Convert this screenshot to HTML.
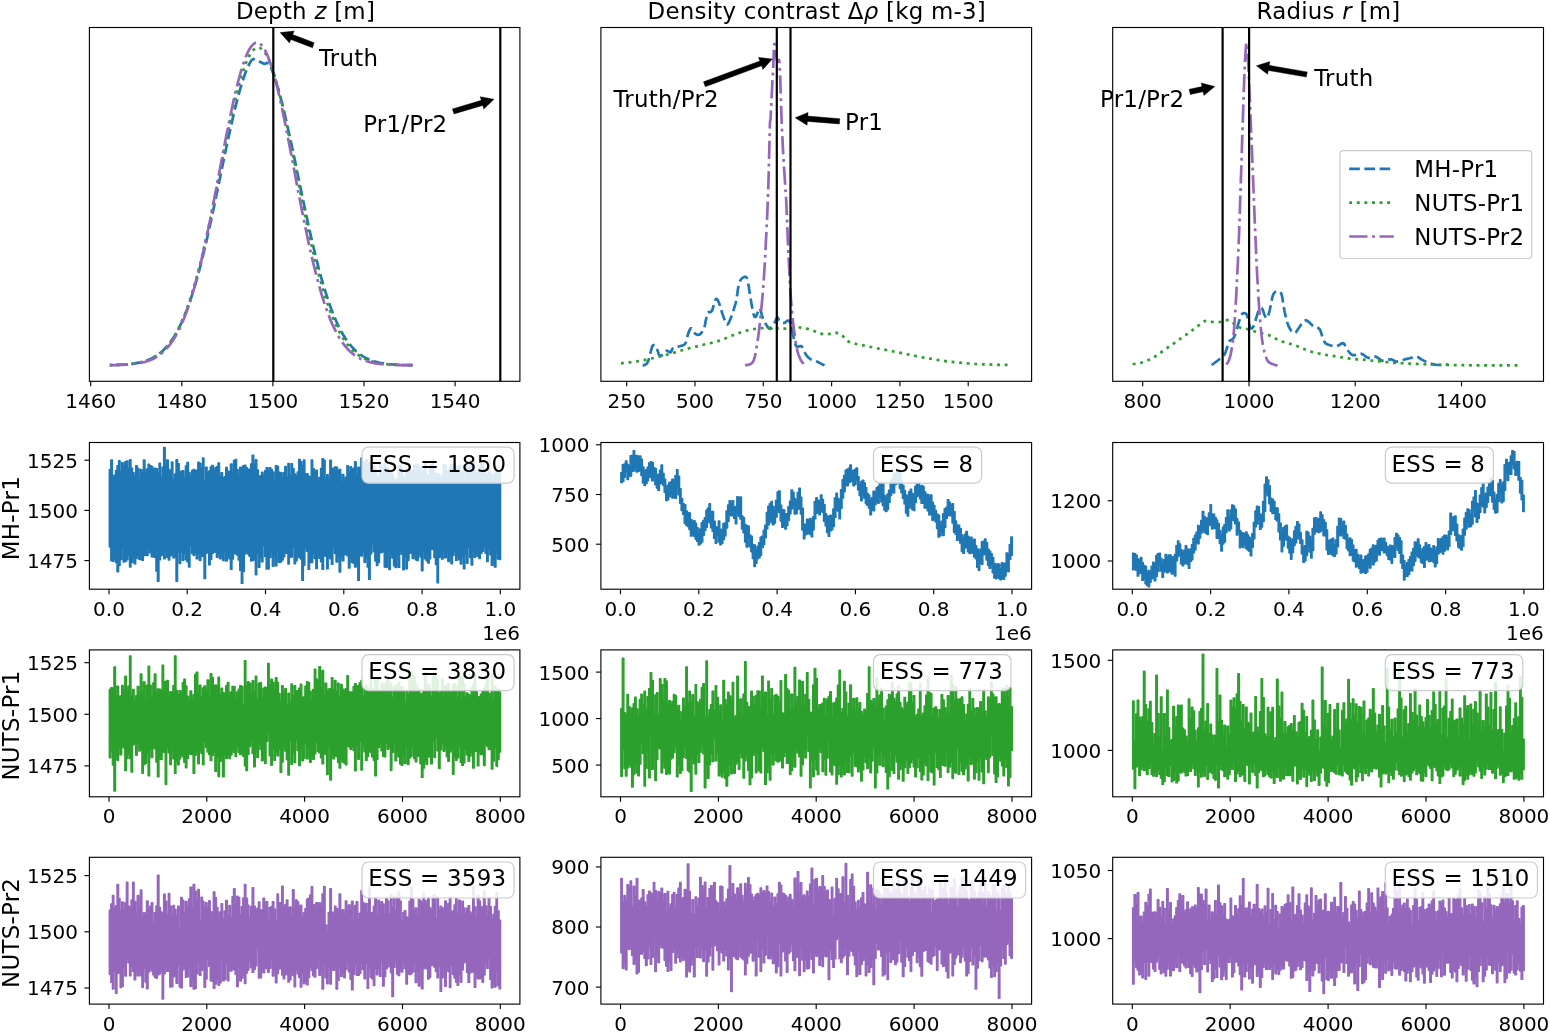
<!DOCTYPE html><html><head><meta charset="utf-8"><title>MCMC posterior comparison</title>
<style>html,body{margin:0;padding:0;background:#fff}svg{display:block}text{font-family:"DejaVu Sans","Liberation Sans",sans-serif;fill:#000}</style></head><body>
<svg width="1550" height="1032" viewBox="0 0 1550 1032">
<rect width="1550" height="1032" fill="#fff"/>
<clipPath id="cp00"><rect x="89.4" y="27.5" width="430.5" height="353.8"/></clipPath>
<clipPath id="cp01"><rect x="89.4" y="442.5" width="430.5" height="146.7"/></clipPath>
<clipPath id="cp02"><rect x="89.4" y="649.9" width="430.5" height="146.9"/></clipPath>
<clipPath id="cp03"><rect x="89.4" y="857.3" width="430.5" height="146.8"/></clipPath>
<clipPath id="cp10"><rect x="600.9" y="27.5" width="430.7" height="353.8"/></clipPath>
<clipPath id="cp11"><rect x="600.9" y="442.5" width="430.7" height="146.7"/></clipPath>
<clipPath id="cp12"><rect x="600.9" y="649.9" width="430.7" height="146.9"/></clipPath>
<clipPath id="cp13"><rect x="600.9" y="857.3" width="430.7" height="146.8"/></clipPath>
<clipPath id="cp20"><rect x="1112.7" y="27.5" width="430.8" height="353.8"/></clipPath>
<clipPath id="cp21"><rect x="1112.7" y="442.5" width="430.8" height="146.7"/></clipPath>
<clipPath id="cp22"><rect x="1112.7" y="649.9" width="430.8" height="146.9"/></clipPath>
<clipPath id="cp23"><rect x="1112.7" y="857.3" width="430.8" height="146.8"/></clipPath>
<g clip-path="url(#cp00)">
<polyline points="109.8,365.1 112,365.1 114.2,365 116.4,364.9 118.5,364.8 120.7,364.7 122.9,364.6 125.1,364.5 127.3,364.3 129.4,364.1 131.6,363.8 133.8,363.6 136,363.2 138.2,362.8 140.3,362.4 142.5,361.8 144.7,361.2 146.9,360.4 149.1,359.6 151.2,358.6 153.4,357.5 155.6,356.3 157.8,354.8 160,353.2 162.1,351.4 164.3,349.3 166.5,347 168.7,344.5 170.8,341.6 173,338.4 175.2,334.9 177.4,331.1 179.6,326.9 181.7,322.3 183.9,317.3 186.1,311.9 188.3,306.1 190.5,299.8 192.6,293.1 194.8,286 197,278.5 199.2,270.5 201.4,262.1 203.5,253.4 205.7,244.2 207.9,234.7 210.1,225 212.3,214.9 214.4,204.7 216.6,194.3 218.8,183.8 221,173.2 223.1,162.7 225.3,152.2 227.5,141.9 229.7,131.9 231.9,122.1 234,112.8 236.2,103.9 238.4,95.5 240.6,87.7 242.8,80.6 244.9,74.3 247.1,68.7 249.3,64 251.5,60.1 253.7,58.9 255.8,59.9 258,60.9 260.2,61.9 262.4,63 264.6,64 266.7,62.9 268.9,63.5 271.1,68.1 273.3,73.6 275.4,79.8 277.6,86.9 279.8,94.5 282,102.8 284.2,111.7 286.3,121 288.5,130.7 290.7,140.7 292.9,151 295.1,161.4 297.2,171.9 299.4,182.5 301.6,193 303.8,203.5 306,213.7 308.1,223.8 310.3,233.6 312.5,243.1 314.7,252.3 316.9,261.1 319,269.5 321.2,277.6 323.4,285.2 325.6,292.3 327.8,299.1 329.9,305.4 332.1,311.2 334.3,316.7 336.5,321.7 338.6,326.4 340.8,330.6 343,334.5 345.2,338 347.4,341.2 349.5,344.1 351.7,346.7 353.9,349.1 356.1,351.2 358.3,353 360.4,354.7 362.6,356.1 364.8,357.4 367,358.5 369.2,359.5 371.3,360.4 373.5,361.1 375.7,361.7 377.9,362.3 380.1,362.8 382.2,363.2 384.4,363.5 386.6,363.8 388.8,364.1 390.9,364.3 393.1,364.5 395.3,364.6 397.5,364.7 399.7,364.8 401.8,364.9 404,365 406.2,365 408.4,365.1 410.6,365.1 412.7,365.2" fill="none" stroke="#1f77b4" stroke-width="2.7" stroke-dasharray="10.6 4.6" stroke-linejoin="round" stroke-dashoffset="9"/>
<polyline points="109.8,365.1 112,365.1 114.2,365 116.4,365 118.5,364.9 120.7,364.8 122.9,364.7 125.1,364.5 127.3,364.4 129.4,364.2 131.6,363.9 133.8,363.6 136,363.3 138.2,362.9 140.3,362.5 142.5,361.9 144.7,361.3 146.9,360.6 149.1,359.8 151.2,358.8 153.4,357.7 155.6,356.4 157.8,355 160,353.3 162.1,351.5 164.3,349.4 166.5,347 168.7,344.4 170.8,341.5 173,338.3 175.2,334.7 177.4,330.7 179.6,326.4 181.7,321.6 183.9,316.5 186.1,310.9 188.3,304.8 190.5,298.4 192.6,291.4 194.8,284 197,276.1 199.2,267.8 201.4,259.1 203.5,250 205.7,240.4 207.9,230.6 210.1,220.4 212.3,209.9 214.4,199.3 216.6,188.4 218.8,177.5 221,166.5 223.1,155.6 225.3,144.8 227.5,134.2 229.7,123.9 231.9,113.9 234,104.3 236.2,95.3 238.4,86.8 240.6,79 242.8,72 244.9,65.7 247.1,60.3 249.3,55.8 251.5,52.2 253.7,49.6 255.8,48.1 258,47.5 260.2,48 262.4,49.5 264.6,52 266.7,55.5 268.9,59.9 271.1,65.3 273.3,71.5 275.4,78.5 277.6,86.2 279.8,94.6 282,103.6 284.2,113.2 286.3,123.1 288.5,133.4 290.7,144 292.9,154.8 295.1,165.7 297.2,176.7 299.4,187.6 301.6,198.5 303.8,209.1 306,219.6 308.1,229.8 310.3,239.7 312.5,249.3 314.7,258.4 316.9,267.2 319,275.5 321.2,283.4 323.4,290.9 325.6,297.9 327.8,304.4 329.9,310.5 332.1,316.1 334.3,321.3 336.5,326 338.6,330.4 340.8,334.4 343,338 345.2,341.3 347.4,344.2 349.5,346.9 351.7,349.2 353.9,351.3 356.1,353.2 358.3,354.9 360.4,356.3 362.6,357.6 364.8,358.7 367,359.7 369.2,360.5 371.3,361.3 373.5,361.9 375.7,362.4 377.9,362.9 380.1,363.3 382.2,363.6 384.4,363.9 386.6,364.1 388.8,364.4 390.9,364.5 393.1,364.7 395.3,364.8 397.5,364.9 399.7,365 401.8,365 404,365.1 406.2,365.1 408.4,365.2 410.6,365.2 412.7,365.2" fill="none" stroke="#2ca02c" stroke-width="2.7" stroke-dasharray="2.9 4.7" stroke-linejoin="round"/>
<polyline points="109.8,365.2 112,365.1 114.2,365.1 116.4,365.1 118.5,365 120.7,364.9 122.9,364.8 125.1,364.7 127.3,364.6 129.4,364.4 131.6,364.2 133.8,364 136,363.7 138.2,363.4 140.3,363 142.5,362.5 144.7,362 146.9,361.3 149.1,360.6 151.2,359.7 153.4,358.7 155.6,357.5 157.8,356.2 160,354.7 162.1,352.9 164.3,351 166.5,348.7 168.7,346.2 170.8,343.4 173,340.2 175.2,336.7 177.4,332.9 179.6,328.6 181.7,323.9 183.9,318.7 186.1,313.1 188.3,307 190.5,300.4 192.6,293.4 194.8,285.8 197,277.7 199.2,269.2 201.4,260.2 203.5,250.7 205.7,240.8 207.9,230.6 210.1,219.9 212.3,209 214.4,197.9 216.6,186.5 218.8,175.1 221,163.6 223.1,152.1 225.3,140.8 227.5,129.7 229.7,118.9 231.9,108.5 234,98.6 236.2,89.2 238.4,80.5 240.6,72.5 242.8,65.4 244.9,59.1 247.1,53.7 249.3,49.4 251.5,46.1 253.7,43.9 255.8,42.7 258,42.7 260.2,43.8 262.4,46 264.6,49.3 266.7,53.6 268.9,58.9 271.1,65.2 273.3,72.3 275.4,80.3 277.6,88.9 279.8,98.3 282,108.2 284.2,118.6 286.3,129.4 288.5,140.5 290.7,151.8 292.9,163.3 295.1,174.7 297.2,186.2 299.4,197.5 301.6,208.7 303.8,219.6 306,230.3 308.1,240.5 310.3,250.4 312.5,259.9 314.7,268.9 316.9,277.5 319,285.6 321.2,293.1 323.4,300.2 325.6,306.8 327.8,312.9 329.9,318.6 332.1,323.7 334.3,328.4 336.5,332.7 338.6,336.6 340.8,340.2 343,343.3 345.2,346.1 347.4,348.7 349.5,350.9 351.7,352.9 353.9,354.6 356.1,356.2 358.3,357.5 360.4,358.7 362.6,359.7 364.8,360.6 367,361.3 369.2,361.9 371.3,362.5 373.5,363 375.7,363.4 377.9,363.7 380.1,364 382.2,364.2 384.4,364.4 386.6,364.6 388.8,364.7 390.9,364.8 393.1,364.9 395.3,365 397.5,365.1 399.7,365.1 401.8,365.1 404,365.2 406.2,365.2 408.4,365.2 410.6,365.2 412.7,365.3" fill="none" stroke="#9467bd" stroke-width="2.7" stroke-dasharray="18.3 4.6 2.9 4.6" stroke-linejoin="round"/>
</g>
<line x1="273.3" y1="27.5" x2="273.3" y2="381.3" stroke="#000" stroke-width="2.2"/>
<line x1="500.3" y1="27.5" x2="500.3" y2="381.3" stroke="#000" stroke-width="2.2"/>
<rect x="89.4" y="27.5" width="430.5" height="353.8" fill="none" stroke="#000" stroke-width="1.12"/>
<line x1="90.7" y1="381.3" x2="90.7" y2="386.3" stroke="#000" stroke-width="1.12"/>
<text x="90.7" y="407.9" text-anchor="middle" font-size="20">1460</text>
<line x1="181.8" y1="381.3" x2="181.8" y2="386.3" stroke="#000" stroke-width="1.12"/>
<text x="181.8" y="407.9" text-anchor="middle" font-size="20">1480</text>
<line x1="272.9" y1="381.3" x2="272.9" y2="386.3" stroke="#000" stroke-width="1.12"/>
<text x="272.9" y="407.9" text-anchor="middle" font-size="20">1500</text>
<line x1="364.0" y1="381.3" x2="364.0" y2="386.3" stroke="#000" stroke-width="1.12"/>
<text x="364.0" y="407.9" text-anchor="middle" font-size="20">1520</text>
<line x1="455.1" y1="381.3" x2="455.1" y2="386.3" stroke="#000" stroke-width="1.12"/>
<text x="455.1" y="407.9" text-anchor="middle" font-size="20">1540</text>
<text x="305.5" y="18.6" font-size="22.9" text-anchor="middle" letter-spacing="0.25">Depth <tspan font-style="italic">z</tspan> [m]</text>
<polygon points="314.2,42.7 292.7,34.6 294.1,31.1 280.1,32.6 289.5,43.0 290.8,39.5 312.4,47.7" fill="#000" stroke="#000" stroke-width="0.4" stroke-linejoin="miter"/>
<text x="319.0" y="65.6" font-size="22.9" text-anchor="start" letter-spacing="0.25">Truth</text>
<polygon points="454.0,113.9 482.8,105.4 483.8,109.0 494.0,99.3 480.2,96.7 481.3,100.3 452.4,108.9" fill="#000" stroke="#000" stroke-width="0.4" stroke-linejoin="miter"/>
<text x="363.2" y="132.4" font-size="22.9" text-anchor="start" letter-spacing="0.25">Pr1/Pr2</text>
<g clip-path="url(#cp10)">
<polyline points="642.6,365.7 643.3,365.5 644.4,365.1 645.5,364.6 646.5,363.9 647.2,363 647.7,361.9 648.3,360.7 648.8,359.2 649.3,357.5 649.8,355.4 650.3,353.4 650.8,351.5 651.2,349.8 651.7,348.1 652.1,346.7 652.6,345.8 653.4,345.2 654.2,345.1 655,345.3 655.7,345.8 656.3,346.7 656.7,347.9 657.2,349.4 657.6,350.7 658.1,352 658.5,353.4 659,354.6 659.6,355.4 660.5,355.6 661.5,355.5 662.5,355.1 663.5,354.6 664.3,353.7 665,352.5 665.8,351.4 666.6,350.7 667.5,350.9 668.5,351.5 669.5,352.2 670.5,352.3 671.2,351.5 671.8,350.1 672.5,348.7 673.6,347.6 675.1,347 676.9,346.7 678.9,346.4 680.5,346.1 681.9,345.6 683.2,345.2 684.3,344.6 685.2,343.7 685.8,342.5 686.3,340.9 686.6,339.2 687,337.6 687.5,335.9 688,334.3 688.5,332.7 689,331.4 689.6,330.2 690.1,329.1 690.7,328.4 691.4,328.3 692.1,328.9 692.9,330.3 693.7,331.8 694.5,332.9 695.2,333.6 696,334.2 696.8,334.6 697.6,334.8 698.3,334.8 699.1,334.7 699.9,334.3 700.7,333.7 701.5,332.7 702.4,331.5 703.3,330 704.1,328.3 704.7,326.1 705.2,323.7 705.6,321.2 706.1,319 706.4,317.1 706.7,315.4 707.1,313.9 707.6,312.8 708.5,312.2 709.5,312.2 710.6,312.1 711.5,311.5 712.2,310.3 712.7,308.6 713.3,306.8 713.8,305 714.4,303.2 714.9,301.2 715.5,299.6 716.1,298.8 716.8,299.1 717.6,300 718.4,301.5 719.2,303.5 720.1,306.1 721.1,309.4 722.1,312.9 723.1,315.9 724.1,318.6 725.1,321.2 726.1,323.3 727,324.4 727.8,324.2 728.6,323.1 729.3,321.5 730.1,319.7 730.8,317.9 731.6,315.9 732.4,313.6 733.2,311.2 734,308.7 734.8,306.1 735.6,303.3 736.3,300.4 736.8,297.3 737.3,294 737.7,290.8 738.1,288 738.6,285.8 739.1,283.9 739.6,282.4 740.1,281 740.7,279.9 741.2,279.1 741.8,278.5 742.5,277.9 743.4,277.4 744.4,276.9 745.5,276.8 746.3,277.2 747,278.3 747.5,280 747.9,282 748.3,284.1 748.8,286.4 749.1,288.9 749.5,291.6 749.9,294.2 750.3,296.9 750.8,299.6 751.2,302.3 751.7,305 752.3,308 752.9,311.1 753.5,313.9 754.1,315.9 754.6,316.8 755.2,317 755.8,316.7 756.4,315.9 757.1,314.1 757.9,311.4 758.7,309.1 759.5,308.1 760.2,309.3 761,311.8 761.8,314.8 762.6,317.4 763.5,319.6 764.5,321.6 765.5,323.5 766.5,325.2 767.4,326.6 768.4,327.9 769.4,328.8 770.3,329 771.3,328.4 772.3,327 773.3,325.2 774.2,323.6 775,321.9 775.8,319.9 776.6,318.3 777.3,317.4 777.9,317.7 778.4,318.9 778.9,320.3 779.6,321.3 780.6,321.9 781.8,322.5 783.1,322.8 784.3,322.8 785.3,322.4 786.3,321.5 787.2,320.8 788.1,320.5 789,320.9 789.8,321.8 790.6,323 791.2,324.4 791.7,326.2 792.1,328.4 792.4,330.7 792.8,332.9 793.2,334.9 793.5,336.9 793.9,338.9 794.3,340.7 794.8,342.4 795.3,344.1 795.9,345.6 796.7,346.5 797.7,346.8 799,346.4 800.2,346 801.3,346.1 802,346.7 802.6,347.7 803.1,348.8 803.6,349.9 804.1,351 804.6,352.2 805.2,353.4 805.9,354.6 806.9,355.8 808,357.1 809.3,358.2 810.6,359.2 812,359.9 813.5,360.4 815.1,360.9 816.8,361.6 818.8,362.5 821,363.6 823.1,364.7 824.5,365.4" fill="none" stroke="#1f77b4" stroke-width="2.7" stroke-dasharray="10.6 4.6" stroke-linejoin="round"/>
<polyline points="621,363.3 623.2,363 626.4,362.7 630,362.3 633.8,361.8 637.3,361.3 640.6,360.7 643.8,360.1 647.1,359.4 650.3,358.7 653.6,358 656.8,357.3 660.1,356.5 663.3,355.7 666.6,354.8 669.8,353.9 673.1,353 676.4,352 679.6,351 682.9,350 686.1,349.1 689.4,348.2 692.6,347.4 695.9,346.6 699.1,345.8 702.4,345 705.6,344.2 708.9,343.5 712.2,342.7 715.4,341.9 718.7,340.9 721.9,339.8 725.2,338.4 728.4,337 731.7,335.7 734.9,334.4 738.2,333.3 741.4,332.2 744.7,331.2 748,330.3 751.2,329.5 754.5,329 757.7,328.5 761,328.2 764.2,328 767.5,327.9 770.7,327.9 774,328.2 777.2,328.4 780.5,328.7 783.8,328.7 787.1,328.5 790.5,328.2 793.8,327.8 797,327.5 800,327.5 802.7,327.8 805.2,328.3 807.6,328.9 809.9,329.6 812.2,330.3 814.7,331.2 817.1,332.2 819.6,333.1 822,333.9 824.4,334.4 827,334.4 829.6,333.9 832.2,333.4 834.6,332.9 836.6,332.8 838.3,333.1 839.5,333.6 840.6,334.3 841.6,335.2 842.8,336 843.8,337.1 844.7,338.2 845.7,339.5 847,340.7 848.9,341.7 851.4,342.7 854.4,343.5 857.8,344.3 861.4,345 865.1,345.8 868.9,346.6 873,347.4 877.1,348.3 881.3,349.1 885.5,349.9 889.5,350.7 893.6,351.5 897.7,352.3 901.7,353.1 905.8,353.9 909.9,354.8 913.9,355.6 918,356.4 922.1,357.3 926.2,358 930.2,358.7 934.3,359.4 938.4,360.1 942.4,360.7 946.5,361.3 950.6,361.8 954.6,362.2 958.7,362.6 962.8,363 966.8,363.3 970.9,363.6 974.9,363.9 978.9,364.1 983,364.3 987.2,364.5 991.9,364.7 997.1,364.8 1002.1,364.8 1006.5,364.9 1009.6,364.9" fill="none" stroke="#2ca02c" stroke-width="2.7" stroke-dasharray="2.9 4.7" stroke-linejoin="round"/>
<polyline points="745,365.2 746,365.1 747.5,364.9 749.1,364.6 750.5,364 751.5,363.3 752.4,362.6 753.2,361.4 754,359.5 754.8,356.8 755.5,353.4 756.3,349.5 757,345 757.7,340.2 758.5,334.9 759.2,328.9 760,322 760.8,313.9 761.7,304.9 762.6,295.1 763.4,285 764.1,274.4 764.8,263.3 765.4,251.8 766,240 766.6,228.1 767.2,216.1 767.7,203.5 768.2,190 768.7,174.1 769.1,156.5 769.5,140.1 769.8,128 770,122.3 770.2,120.9 770.4,120.5 770.6,118 770.9,112.2 771.3,104.9 771.6,97.1 772,90 772.3,83.7 772.7,77.6 773,71.8 773.3,66 773.5,59.7 773.7,53.1 773.9,47.5 774.2,44.2 774.5,44 774.8,46.1 775.2,49.2 775.6,52 776,54.6 776.5,57.5 777,60.2 777.5,62 778,62 778.5,60.7 779,59.9 779.4,61.6 779.7,66.4 780,73.3 780.3,81.4 780.6,90 780.9,99.2 781.2,109.3 781.6,119.7 782,130 782.5,140.1 783,150.3 783.6,160.4 784.2,170 784.8,178.8 785.3,186.9 785.9,195.3 786.4,205 786.9,216.6 787.4,229.4 787.9,242.5 788.5,255 789.1,267 789.7,278.8 790.3,289.9 791,300 791.7,308.8 792.5,316.6 793.2,323.6 794,330 794.8,335.7 795.5,340.8 796.2,345.2 797,349 797.7,352.1 798.5,354.6 799.2,356.6 800,358.5 800.9,360.3 801.9,361.8 802.9,363.1 803.5,364" fill="none" stroke="#9467bd" stroke-width="2.7" stroke-dasharray="18.3 4.6 2.9 4.6" stroke-linejoin="round"/>
</g>
<line x1="776.8" y1="27.5" x2="776.8" y2="381.3" stroke="#000" stroke-width="2.2"/>
<line x1="790.5" y1="27.5" x2="790.5" y2="381.3" stroke="#000" stroke-width="2.2"/>
<rect x="600.9" y="27.5" width="430.7" height="353.8" fill="none" stroke="#000" stroke-width="1.12"/>
<line x1="626.7" y1="381.3" x2="626.7" y2="386.3" stroke="#000" stroke-width="1.12"/>
<text x="626.7" y="407.9" text-anchor="middle" font-size="20">250</text>
<line x1="695.0" y1="381.3" x2="695.0" y2="386.3" stroke="#000" stroke-width="1.12"/>
<text x="695.0" y="407.9" text-anchor="middle" font-size="20">500</text>
<line x1="763.3" y1="381.3" x2="763.3" y2="386.3" stroke="#000" stroke-width="1.12"/>
<text x="763.3" y="407.9" text-anchor="middle" font-size="20">750</text>
<line x1="831.6" y1="381.3" x2="831.6" y2="386.3" stroke="#000" stroke-width="1.12"/>
<text x="831.6" y="407.9" text-anchor="middle" font-size="20">1000</text>
<line x1="899.9" y1="381.3" x2="899.9" y2="386.3" stroke="#000" stroke-width="1.12"/>
<text x="899.9" y="407.9" text-anchor="middle" font-size="20">1250</text>
<line x1="968.2" y1="381.3" x2="968.2" y2="386.3" stroke="#000" stroke-width="1.12"/>
<text x="968.2" y="407.9" text-anchor="middle" font-size="20">1500</text>
<text x="816.8" y="18.6" font-size="22.9" text-anchor="middle" letter-spacing="0.25">Density contrast Δ<tspan font-style="italic">ρ</tspan> [kg m-3]</text>
<polygon points="705.3,86.8 761.6,65.8 762.9,69.4 772.4,59.0 758.5,57.4 759.8,60.9 703.5,81.8" fill="#000" stroke="#000" stroke-width="0.4" stroke-linejoin="miter"/>
<text x="613.5" y="106.6" font-size="22.9" text-anchor="start" letter-spacing="0.25">Truth/Pr2</text>
<polygon points="839.8,118.7 807.8,116.1 808.1,112.4 795.1,117.8 807.1,125.2 807.4,121.4 839.4,123.9" fill="#000" stroke="#000" stroke-width="0.4" stroke-linejoin="miter"/>
<text x="845.0" y="130.3" font-size="22.9" text-anchor="start" letter-spacing="0.25">Pr1</text>
<g clip-path="url(#cp20)">
<polyline points="1211.6,365 1213.1,364 1215.1,362.5 1217.4,360.8 1219.3,359.3 1220.7,358.2 1222,357.3 1223.1,356.3 1224.1,355.1 1225,353.5 1225.7,351.7 1226.3,349.8 1226.9,348 1227.5,346.2 1228,344.5 1228.5,342.9 1229.2,341.5 1230.2,340.5 1231.3,339.8 1232.5,339.1 1233.5,338.1 1234.3,336.6 1235,334.9 1235.6,333 1236.3,331 1237,328.6 1237.7,326 1238.4,323.4 1239.2,321 1239.8,318.9 1240.5,316.9 1241.2,315.1 1242,313.9 1243,313.3 1244.2,313 1245.3,313.3 1246.2,313.9 1247,315.2 1247.5,317 1248,319.1 1248.5,321 1249,323 1249.5,325.1 1250,326.9 1250.5,328.1 1251.2,328.5 1251.9,328.4 1252.6,327.8 1253.3,326.7 1254.1,325.1 1254.8,322.9 1255.5,320.5 1256.2,318.2 1256.9,315.9 1257.6,313.5 1258.3,311.3 1259,309.7 1259.7,308.6 1260.4,308 1261.1,307.8 1261.9,308.3 1262.6,309.5 1263.3,311.5 1264,313.7 1264.7,315.4 1265.3,316.6 1265.9,317.7 1266.4,318.3 1267,318.2 1267.6,317.2 1268.2,315.5 1268.9,313.4 1269.5,311.1 1270.1,308.4 1270.7,305.4 1271.3,302.3 1271.8,299.7 1272.3,297.7 1272.7,296 1273.2,294.7 1273.8,293.5 1274.6,292.5 1275.5,291.8 1276.5,291.4 1277.5,291.2 1278.4,291.3 1279.4,291.6 1280.4,292.3 1281.2,293.5 1281.8,295.2 1282.3,297.5 1282.7,300 1283.1,302.6 1283.6,305.2 1284,308 1284.5,310.9 1285.1,313.9 1285.9,317.2 1286.7,320.6 1287.7,323.9 1288.8,326.7 1290.1,329.1 1291.5,331.2 1293,332.7 1294.5,333.2 1295.9,332.3 1297.3,330.3 1298.8,327.9 1300.2,325.9 1301.6,324 1302.9,322.2 1304.3,320.8 1305.9,320.2 1307.5,320.9 1309.4,322.5 1311.2,324.3 1313,325.9 1314.7,326.7 1316.5,327.3 1318.1,327.9 1319.5,329 1320.4,330.6 1321.1,332.6 1321.7,334.7 1322.3,336.6 1323,338.4 1323.6,340.1 1324.3,341.6 1325.2,342.9 1326.2,343.8 1327.3,344.4 1328.6,344.8 1330,345.2 1331.6,345.6 1333.4,345.9 1335.3,346.1 1337.1,346 1338.8,345.3 1340.4,344.2 1342,343.3 1343.3,343.2 1344.4,344.1 1345.2,345.8 1346,347.7 1347,349.4 1348.2,351 1349.6,352.7 1351,354.2 1352.7,355.1 1354.7,355.1 1356.9,354.5 1359.1,353.8 1361.2,353.7 1363.1,354.5 1364.8,355.8 1366.6,357.1 1368.3,357.9 1370.1,357.8 1371.9,357.2 1373.6,356.6 1375.4,356.5 1377.1,357.3 1378.9,358.6 1380.6,360 1382.5,360.8 1384.6,360.7 1386.8,360.2 1389,359.6 1391,359.3 1392.6,359.8 1393.8,360.5 1395.1,361.3 1396.7,361.6 1398.7,361.3 1400.9,360.7 1403.2,360 1405.2,359.3 1406.8,358.9 1408.2,358.6 1409.5,358.3 1410.9,357.9 1412.3,357.5 1413.7,356.9 1415.1,356.5 1416.6,356.5 1417.9,357 1419.2,357.9 1420.6,358.9 1422.2,359.9 1424.2,360.9 1426.3,361.9 1428.6,362.8 1430.7,363.6 1432.9,364.2 1435,364.6 1437.1,364.9 1439.3,365 1441.6,365 1444.1,364.8 1446.3,364.6 1447.8,364.5" fill="none" stroke="#1f77b4" stroke-width="2.7" stroke-dasharray="10.6 4.6" stroke-linejoin="round"/>
<polyline points="1132.7,364.2 1133.7,364 1135,363.9 1136.6,363.6 1138.3,363.4 1139.8,363 1141.2,362.7 1142.6,362.3 1144.1,361.8 1145.5,361.3 1146.9,360.8 1148.3,360.1 1149.7,359.4 1151.2,358.7 1152.6,357.9 1154,357.1 1155.3,356.3 1156.5,355.5 1157.7,354.6 1159.2,353.6 1161.1,352.3 1163.5,350.6 1166.3,348.6 1169.3,346.5 1172.3,344.4 1175.3,342.3 1178.2,340.3 1181.2,338.2 1184.2,336.1 1187,334.2 1189.5,332.4 1191.6,330.8 1193.4,329.4 1195,328.2 1196.5,327 1198,325.9 1199.5,324.7 1200.9,323.5 1202.3,322.5 1203.7,321.6 1205.1,321 1206.5,320.8 1207.9,321 1209.2,321.3 1210.7,321.7 1212.2,321.9 1213.8,322 1215.5,322 1217.2,322 1219,322 1220.7,321.9 1222.4,321.5 1224.1,320.9 1225.8,320.3 1227.5,320 1229.2,320.2 1230.9,321 1232.5,322.4 1234.1,324 1235.8,325.5 1237.7,326.7 1239.9,327.5 1242.2,328.1 1244.6,328.6 1247,329 1249.1,329.5 1250.9,330.1 1252.6,330.7 1254.1,331.2 1255.8,331.8 1257.6,332.4 1259.7,332.9 1261.9,333.4 1264.3,333.9 1266.6,334.5 1269,335.2 1271.2,336.2 1273.4,337.4 1275.6,338.6 1277.9,339.8 1280.3,340.9 1283,341.8 1285.8,342.6 1288.7,343.4 1291.6,344.2 1294.5,345.2 1297.3,346.2 1300.2,347.4 1303,348.7 1305.9,349.8 1308.7,350.8 1311.5,351.7 1314.4,352.4 1317.2,353.1 1320,353.7 1322.9,354.2 1325.7,354.8 1328.6,355.2 1331.4,355.7 1334.2,356.1 1337.1,356.5 1339.9,357 1342.8,357.5 1345.6,358 1348.4,358.4 1351.3,358.8 1354.1,359.1 1356.9,359.3 1359.8,359.5 1362.6,359.7 1365.5,359.9 1368.3,360.2 1371.1,360.5 1374,360.8 1376.8,361 1379.7,361.3 1382.3,361.6 1384.7,361.9 1387.2,362.2 1390.1,362.5 1393.8,362.8 1398.6,363 1404.2,363.3 1410.2,363.6 1416.3,363.9 1422.2,364.2 1427.9,364.4 1433.6,364.6 1439.3,364.8 1444.9,364.9 1450.6,365 1456.1,365.1 1461.4,365.2 1466.8,365.2 1472.6,365.3 1479,365.3 1486.9,365.3 1496,365.3 1505.2,365.3 1513.2,365.3 1518.7,365.3" fill="none" stroke="#2ca02c" stroke-width="2.7" stroke-dasharray="2.9 4.7" stroke-linejoin="round"/>
<polyline points="1226.4,364.5 1226.9,363.8 1227.5,362.9 1228.3,361.6 1229,360 1229.6,358.1 1230.3,356 1230.9,353.3 1231.5,350 1232.1,346.2 1232.8,341.9 1233.4,336.6 1234,330 1234.6,321.8 1235.2,312.2 1235.9,301.5 1236.5,290 1237.1,277.5 1237.8,264.1 1238.4,249.8 1239,235 1239.6,219.2 1240.1,202.5 1240.7,185.8 1241.2,170 1241.7,155.3 1242.1,141.2 1242.6,127.8 1243,115 1243.4,102.6 1243.8,90.8 1244.2,79.8 1244.6,70 1245,60.9 1245.5,52.5 1246,46 1246.4,42.7 1246.8,43.5 1247.2,47.5 1247.6,53.4 1248,60 1248.4,67.3 1248.8,75.8 1249.2,85.1 1249.6,95 1250.1,105.4 1250.5,116.6 1251,128.2 1251.5,140 1252,151.9 1252.5,164.1 1253,176.7 1253.5,190 1254.1,204.6 1254.7,220.1 1255.4,235.6 1256,250 1256.6,263.2 1257.2,275.8 1257.9,287.4 1258.5,298 1259.1,307.5 1259.8,315.9 1260.4,323.4 1261,330 1261.6,335.7 1262.2,340.3 1262.8,344.4 1263.5,348 1264.2,351.3 1264.9,354.1 1265.7,356.5 1266.5,358.5 1267.2,360.1 1268,361.2 1268.8,362.1 1270,363 1271.8,363.8 1274,364.6 1276.1,365.2 1277.5,365.6" fill="none" stroke="#9467bd" stroke-width="2.7" stroke-dasharray="18.3 4.6 2.9 4.6" stroke-linejoin="round"/>
</g>
<line x1="1222.6" y1="27.5" x2="1222.6" y2="381.3" stroke="#000" stroke-width="2.2"/>
<line x1="1249.1" y1="27.5" x2="1249.1" y2="381.3" stroke="#000" stroke-width="2.2"/>
<rect x="1112.7" y="27.5" width="430.8" height="353.8" fill="none" stroke="#000" stroke-width="1.12"/>
<line x1="1142.7" y1="381.3" x2="1142.7" y2="386.3" stroke="#000" stroke-width="1.12"/>
<text x="1142.7" y="407.9" text-anchor="middle" font-size="20">800</text>
<line x1="1249.0" y1="381.3" x2="1249.0" y2="386.3" stroke="#000" stroke-width="1.12"/>
<text x="1249.0" y="407.9" text-anchor="middle" font-size="20">1000</text>
<line x1="1355.2" y1="381.3" x2="1355.2" y2="386.3" stroke="#000" stroke-width="1.12"/>
<text x="1355.2" y="407.9" text-anchor="middle" font-size="20">1200</text>
<line x1="1461.5" y1="381.3" x2="1461.5" y2="386.3" stroke="#000" stroke-width="1.12"/>
<text x="1461.5" y="407.9" text-anchor="middle" font-size="20">1400</text>
<text x="1328.5" y="18.6" font-size="22.9" text-anchor="middle" letter-spacing="0.25">Radius <tspan font-style="italic">r</tspan> [m]</text>
<polygon points="1190.3,94.5 1203.1,91.7 1203.9,95.4 1214.8,86.5 1201.2,82.9 1202.0,86.5 1189.1,89.3" fill="#000" stroke="#000" stroke-width="0.4" stroke-linejoin="miter"/>
<text x="1100.0" y="107.4" font-size="22.9" text-anchor="start" letter-spacing="0.25">Pr1/Pr2</text>
<polygon points="1307.3,71.9 1269.2,65.3 1269.8,61.6 1256.4,65.8 1267.6,74.2 1268.3,70.5 1306.3,77.1" fill="#000" stroke="#000" stroke-width="0.4" stroke-linejoin="miter"/>
<text x="1314.2" y="86.1" font-size="22.9" text-anchor="start" letter-spacing="0.25">Truth</text>
<rect x="1339.9" y="150.6" width="191.9" height="107.9" rx="3.5" ry="3.5" fill="#fff" fill-opacity="0.8" stroke="#ccc" stroke-width="1.2"/>
<line x1="1349.2" y1="168.8" x2="1393.8" y2="168.8" stroke="#1f77b4" stroke-width="2.7" stroke-dasharray="10.6 4.6"/>
<text x="1414.3" y="177.2" font-size="22.9" text-anchor="start" letter-spacing="0.25">MH-Pr1</text>
<line x1="1349.2" y1="202.7" x2="1393.8" y2="202.7" stroke="#2ca02c" stroke-width="2.7" stroke-dasharray="2.9 4.7"/>
<text x="1414.3" y="211.1" font-size="22.9" text-anchor="start" letter-spacing="0.25">NUTS-Pr1</text>
<line x1="1349.2" y1="236.5" x2="1393.8" y2="236.5" stroke="#9467bd" stroke-width="2.7" stroke-dasharray="18.3 4.6 2.9 4.6"/>
<text x="1414.3" y="244.9" font-size="22.9" text-anchor="start" letter-spacing="0.25">NUTS-Pr2</text>
<polygon clip-path="url(#cp01)" points="109.3,469.7 110.8,469.7 110.8,459.9 112.4,459.9 112.4,477.9 113.9,477.9 113.9,475.1 115.5,475.1 115.5,470.6 117.0,470.6 117.0,465.7 118.6,465.7 118.6,460.7 120.1,460.7 120.1,471.7 121.7,471.7 121.7,462.6 123.2,462.6 123.2,466.1 124.8,466.1 124.8,461.6 126.4,461.6 126.4,461.0 127.9,461.0 127.9,468.8 129.5,468.8 129.5,459.6 131.0,459.6 131.0,468.1 132.6,468.1 132.6,472.8 134.1,472.8 134.1,476.6 135.7,476.6 135.7,465.6 137.2,465.6 137.2,468.3 138.8,468.3 138.8,479.1 140.3,479.1 140.3,469.4 141.9,469.4 141.9,472.8 143.4,472.8 143.4,459.9 145.0,459.9 145.0,472.4 146.5,472.4 146.5,468.9 148.1,468.9 148.1,464.2 149.6,464.2 149.6,465.8 151.2,465.8 151.2,466.5 152.8,466.5 152.8,469.5 154.3,469.5 154.3,468.3 155.9,468.3 155.9,468.8 157.4,468.8 157.4,472.5 159.0,472.5 159.0,463.1 160.5,463.1 160.5,477.5 162.1,477.5 162.1,467.1 163.6,467.1 163.6,447.5 165.2,447.5 165.2,465.6 166.7,465.6 166.7,459.9 168.3,459.9 168.3,469.5 169.8,469.5 169.8,470.7 171.4,470.7 171.4,461.9 172.9,461.9 172.9,479.4 174.5,479.4 174.5,474.0 176.0,474.0 176.0,459.7 177.6,459.7 177.6,463.8 179.2,463.8 179.2,473.6 180.7,473.6 180.7,471.2 182.3,471.2 182.3,470.8 183.8,470.8 183.8,477.1 185.4,477.1 185.4,466.0 186.9,466.0 186.9,462.5 188.5,462.5 188.5,472.4 190.0,472.4 190.0,475.8 191.6,475.8 191.6,470.4 193.1,470.4 193.1,469.4 194.7,469.4 194.7,470.5 196.2,470.5 196.2,470.1 197.8,470.1 197.8,462.1 199.3,462.1 199.3,463.2 200.9,463.2 200.9,467.9 202.5,467.9 202.5,457.9 204.0,457.9 204.0,480.5 205.6,480.5 205.6,467.1 207.1,467.1 207.1,472.4 208.7,472.4 208.7,470.9 210.2,470.9 210.2,466.9 211.8,466.9 211.8,465.5 213.3,465.5 213.3,469.9 214.9,469.9 214.9,467.5 216.4,467.5 216.4,466.7 218.0,466.7 218.0,463.0 219.5,463.0 219.5,476.4 221.1,476.4 221.1,472.6 222.6,472.6 222.6,478.2 224.2,478.2 224.2,476.6 225.7,476.6 225.7,467.5 227.3,467.5 227.3,471.1 228.9,471.1 228.9,471.9 230.4,471.9 230.4,464.0 232.0,464.0 232.0,472.6 233.5,472.6 233.5,460.4 235.1,460.4 235.1,459.5 236.6,459.5 236.6,469.4 238.2,469.4 238.2,476.9 239.7,476.9 239.7,467.1 241.3,467.1 241.3,468.5 242.8,468.5 242.8,465.6 244.4,465.6 244.4,465.3 245.9,465.3 245.9,467.8 247.5,467.8 247.5,469.1 249.0,469.1 249.0,469.5 250.6,469.5 250.6,464.0 252.1,464.0 252.1,455.3 253.7,455.3 253.7,464.1 255.3,464.1 255.3,459.7 256.8,459.7 256.8,469.9 258.4,469.9 258.4,477.1 259.9,477.1 259.9,475.8 261.5,475.8 261.5,472.2 263.0,472.2 263.0,475.1 264.6,475.1 264.6,470.8 266.1,470.8 266.1,467.6 267.7,467.6 267.7,471.1 269.2,471.1 269.2,467.8 270.8,467.8 270.8,469.5 272.3,469.5 272.3,472.0 273.9,472.0 273.9,479.6 275.4,479.6 275.4,465.7 277.0,465.7 277.0,466.5 278.5,466.5 278.5,472.2 280.1,472.2 280.1,472.7 281.7,472.7 281.7,477.5 283.2,477.5 283.2,472.6 284.8,472.6 284.8,466.4 286.3,466.4 286.3,477.2 287.9,477.2 287.9,463.4 289.4,463.4 289.4,475.3 291.0,475.3 291.0,463.8 292.5,463.8 292.5,468.4 294.1,468.4 294.1,473.9 295.6,473.9 295.6,475.9 297.2,475.9 297.2,471.9 298.7,471.9 298.7,459.5 300.3,459.5 300.3,461.6 301.8,461.6 301.8,465.7 303.4,465.7 303.4,460.0 304.9,460.0 304.9,473.8 306.5,473.8 306.5,473.7 308.1,473.7 308.1,476.1 309.6,476.1 309.6,476.9 311.2,476.9 311.2,459.9 312.7,459.9 312.7,468.7 314.3,468.7 314.3,472.0 315.8,472.0 315.8,470.1 317.4,470.1 317.4,481.1 318.9,481.1 318.9,477.4 320.5,477.4 320.5,468.5 322.0,468.5 322.0,458.7 323.6,458.7 323.6,460.1 325.1,460.1 325.1,479.1 326.7,479.1 326.7,474.7 328.2,474.7 328.2,479.2 329.8,479.2 329.8,460.2 331.4,460.2 331.4,468.3 332.9,468.3 332.9,468.1 334.5,468.1 334.5,467.0 336.0,467.0 336.0,467.2 337.6,467.2 337.6,470.9 339.1,470.9 339.1,469.5 340.7,469.5 340.7,482.4 342.2,482.4 342.2,474.4 343.8,474.4 343.8,480.4 345.3,480.4 345.3,477.2 346.9,477.2 346.9,465.6 348.4,465.6 348.4,472.4 350.0,472.4 350.0,466.6 351.5,466.6 351.5,469.2 353.1,469.2 353.1,468.1 354.6,468.1 354.6,461.7 356.2,461.7 356.2,474.5 357.8,474.5 357.8,467.3 359.3,467.3 359.3,467.9 360.9,467.9 360.9,457.9 362.4,457.9 362.4,461.7 364.0,461.7 364.0,466.3 365.5,466.3 365.5,459.6 367.1,459.6 367.1,469.6 368.6,469.6 368.6,462.2 370.2,462.2 370.2,472.0 371.7,472.0 371.7,464.7 373.3,464.7 373.3,465.4 374.8,465.4 374.8,469.2 376.4,469.2 376.4,475.9 377.9,475.9 377.9,477.8 379.5,477.8 379.5,462.3 381.0,462.3 381.0,466.9 382.6,466.9 382.6,472.6 384.2,472.6 384.2,462.9 385.7,462.9 385.7,472.1 387.3,472.1 387.3,467.5 388.8,467.5 388.8,475.5 390.4,475.5 390.4,471.9 391.9,471.9 391.9,475.3 393.5,475.3 393.5,479.0 395.0,479.0 395.0,480.9 396.6,480.9 396.6,478.8 398.1,478.8 398.1,465.5 399.7,465.5 399.7,465.3 401.2,465.3 401.2,472.4 402.8,472.4 402.8,477.3 404.3,477.3 404.3,477.6 405.9,477.6 405.9,468.6 407.4,468.6 407.4,470.6 409.0,470.6 409.0,470.7 410.6,470.7 410.6,475.5 412.1,475.5 412.1,469.6 413.7,469.6 413.7,465.0 415.2,465.0 415.2,475.4 416.8,475.4 416.8,464.2 418.3,464.2 418.3,471.6 419.9,471.6 419.9,466.8 421.4,466.8 421.4,473.6 423.0,473.6 423.0,470.6 424.5,470.6 424.5,462.5 426.1,462.5 426.1,475.2 427.6,475.2 427.6,476.5 429.2,476.5 429.2,467.8 430.7,467.8 430.7,464.6 432.3,464.6 432.3,459.5 433.9,459.5 433.9,472.0 435.4,472.0 435.4,477.8 437.0,477.8 437.0,473.6 438.5,473.6 438.5,474.3 440.1,474.3 440.1,481.3 441.6,481.3 441.6,476.5 443.2,476.5 443.2,464.5 444.7,464.5 444.7,466.0 446.3,466.0 446.3,480.2 447.8,480.2 447.8,470.7 449.4,470.7 449.4,467.8 450.9,467.8 450.9,464.2 452.5,464.2 452.5,468.5 454.0,468.5 454.0,464.7 455.6,464.7 455.6,474.6 457.1,474.6 457.1,466.7 458.7,466.7 458.7,465.6 460.3,465.6 460.3,471.8 461.8,471.8 461.8,472.0 463.4,472.0 463.4,467.9 464.9,467.9 464.9,479.3 466.5,479.3 466.5,463.7 468.0,463.7 468.0,466.8 469.6,466.8 469.6,460.3 471.1,460.3 471.1,460.1 472.7,460.1 472.7,461.8 474.2,461.8 474.2,470.2 475.8,470.2 475.8,473.3 477.3,473.3 477.3,473.5 478.9,473.5 478.9,468.0 480.4,468.0 480.4,463.4 482.0,463.4 482.0,462.3 483.5,462.3 483.5,471.1 485.1,471.1 485.1,473.7 486.7,473.7 486.7,474.8 488.2,474.8 488.2,460.2 489.8,460.2 489.8,473.4 491.3,473.4 491.3,480.0 492.9,480.0 492.9,474.5 494.4,474.5 494.4,473.2 496.0,473.2 496.0,467.0 497.5,467.0 497.5,474.4 499.1,474.4 499.1,472.6 500.6,472.6 500.6,559.6 499.1,559.6 499.1,559.0 497.5,559.0 497.5,552.5 496.0,552.5 496.0,567.0 494.4,567.0 494.4,560.4 492.9,560.4 492.9,565.4 491.3,565.4 491.3,554.9 489.8,554.9 489.8,548.7 488.2,548.7 488.2,561.5 486.7,561.5 486.7,553.2 485.1,553.2 485.1,546.8 483.5,546.8 483.5,551.3 482.0,551.3 482.0,553.3 480.4,553.3 480.4,558.6 478.9,558.6 478.9,556.3 477.3,556.3 477.3,553.1 475.8,553.1 475.8,557.2 474.2,557.2 474.2,551.0 472.7,551.0 472.7,565.1 471.1,565.1 471.1,557.6 469.6,557.6 469.6,547.2 468.0,547.2 468.0,563.2 466.5,563.2 466.5,554.3 464.9,554.3 464.9,568.8 463.4,568.8 463.4,556.9 461.8,556.9 461.8,564.1 460.3,564.1 460.3,559.9 458.7,559.9 458.7,556.4 457.1,556.4 457.1,560.4 455.6,560.4 455.6,551.7 454.0,551.7 454.0,555.4 452.5,555.4 452.5,563.8 450.9,563.8 450.9,555.6 449.4,555.6 449.4,561.5 447.8,561.5 447.8,552.4 446.3,552.4 446.3,557.7 444.7,557.7 444.7,549.9 443.2,549.9 443.2,559.1 441.6,559.1 441.6,555.7 440.1,555.7 440.1,557.6 438.5,557.6 438.5,582.8 437.0,582.8 437.0,564.6 435.4,564.6 435.4,557.5 433.9,557.5 433.9,549.5 432.3,549.5 432.3,549.2 430.7,549.2 430.7,558.9 429.2,558.9 429.2,563.0 427.6,563.0 427.6,560.9 426.1,560.9 426.1,558.9 424.5,558.9 424.5,550.5 423.0,550.5 423.0,570.7 421.4,570.7 421.4,557.0 419.9,557.0 419.9,554.0 418.3,554.0 418.3,560.6 416.8,560.6 416.8,559.8 415.2,559.8 415.2,555.6 413.7,555.6 413.7,558.6 412.1,558.6 412.1,552.8 410.6,552.8 410.6,553.2 409.0,553.2 409.0,560.5 407.4,560.5 407.4,568.9 405.9,568.9 405.9,557.1 404.3,557.1 404.3,569.7 402.8,569.7 402.8,554.2 401.2,554.2 401.2,550.4 399.7,550.4 399.7,567.3 398.1,567.3 398.1,556.1 396.6,556.1 396.6,567.5 395.0,567.5 395.0,565.7 393.5,565.7 393.5,558.0 391.9,558.0 391.9,553.6 390.4,553.6 390.4,569.6 388.8,569.6 388.8,549.0 387.3,549.0 387.3,567.3 385.7,567.3 385.7,567.0 384.2,567.0 384.2,551.2 382.6,551.2 382.6,552.5 381.0,552.5 381.0,552.7 379.5,552.7 379.5,562.6 377.9,562.6 377.9,565.6 376.4,565.6 376.4,561.1 374.8,561.1 374.8,551.8 373.3,551.8 373.3,544.4 371.7,544.4 371.7,553.9 370.2,553.9 370.2,579.4 368.6,579.4 368.6,567.0 367.1,567.0 367.1,558.5 365.5,558.5 365.5,562.2 364.0,562.2 364.0,551.7 362.4,551.7 362.4,556.0 360.9,556.0 360.9,555.8 359.3,555.8 359.3,580.4 357.8,580.4 357.8,565.7 356.2,565.7 356.2,567.0 354.6,567.0 354.6,563.4 353.1,563.4 353.1,562.4 351.5,562.4 351.5,557.2 350.0,557.2 350.0,568.1 348.4,568.1 348.4,555.8 346.9,555.8 346.9,554.6 345.3,554.6 345.3,554.8 343.8,554.8 343.8,560.9 342.2,560.9 342.2,556.4 340.7,556.4 340.7,572.1 339.1,572.1 339.1,556.0 337.6,556.0 337.6,562.1 336.0,562.1 336.0,553.5 334.5,553.5 334.5,547.5 332.9,547.5 332.9,564.4 331.4,564.4 331.4,558.9 329.8,558.9 329.8,556.8 328.2,556.8 328.2,568.9 326.7,568.9 326.7,556.2 325.1,556.2 325.1,555.6 323.6,555.6 323.6,569.4 322.0,569.4 322.0,561.8 320.5,561.8 320.5,558.4 318.9,558.4 318.9,554.6 317.4,554.6 317.4,568.5 315.8,568.5 315.8,558.5 314.3,558.5 314.3,553.8 312.7,553.8 312.7,562.5 311.2,562.5 311.2,562.6 309.6,562.6 309.6,569.4 308.1,569.4 308.1,551.2 306.5,551.2 306.5,547.5 304.9,547.5 304.9,565.4 303.4,565.4 303.4,580.4 301.8,580.4 301.8,559.1 300.3,559.1 300.3,557.5 298.7,557.5 298.7,553.9 297.2,553.9 297.2,560.8 295.6,560.8 295.6,563.7 294.1,563.7 294.1,547.2 292.5,547.2 292.5,557.1 291.0,557.1 291.0,557.2 289.4,557.2 289.4,564.0 287.9,564.0 287.9,553.2 286.3,553.2 286.3,553.2 284.8,553.2 284.8,556.8 283.2,556.8 283.2,560.0 281.7,560.0 281.7,562.1 280.1,562.1 280.1,562.3 278.5,562.3 278.5,551.5 277.0,551.5 277.0,565.7 275.4,565.7 275.4,555.5 273.9,555.5 273.9,566.2 272.3,566.2 272.3,551.9 270.8,551.9 270.8,557.6 269.2,557.6 269.2,569.0 267.7,569.0 267.7,569.0 266.1,569.0 266.1,556.5 264.6,556.5 264.6,545.4 263.0,545.4 263.0,561.9 261.5,561.9 261.5,557.3 259.9,557.3 259.9,567.4 258.4,567.4 258.4,553.4 256.8,553.4 256.8,574.8 255.3,574.8 255.3,559.7 253.7,559.7 253.7,560.4 252.1,560.4 252.1,561.1 250.6,561.1 250.6,556.2 249.0,556.2 249.0,554.0 247.5,554.0 247.5,552.3 245.9,552.3 245.9,554.0 244.4,554.0 244.4,571.4 242.8,571.4 242.8,583.4 241.3,583.4 241.3,570.3 239.7,570.3 239.7,560.0 238.2,560.0 238.2,555.1 236.6,555.1 236.6,553.8 235.1,553.8 235.1,553.7 233.5,553.7 233.5,559.1 232.0,559.1 232.0,569.4 230.4,569.4 230.4,558.9 228.9,558.9 228.9,556.2 227.3,556.2 227.3,561.0 225.7,561.0 225.7,550.2 224.2,550.2 224.2,560.6 222.6,560.6 222.6,554.3 221.1,554.3 221.1,558.7 219.5,558.7 219.5,553.8 218.0,553.8 218.0,557.4 216.4,557.4 216.4,552.2 214.9,552.2 214.9,552.0 213.3,552.0 213.3,553.4 211.8,553.4 211.8,559.2 210.2,559.2 210.2,564.9 208.7,564.9 208.7,552.0 207.1,552.0 207.1,553.3 205.6,553.3 205.6,578.6 204.0,578.6 204.0,556.6 202.5,556.6 202.5,556.0 200.9,556.0 200.9,560.6 199.3,560.6 199.3,553.1 197.8,553.1 197.8,558.9 196.2,558.9 196.2,552.0 194.7,552.0 194.7,555.3 193.1,555.3 193.1,553.5 191.6,553.5 191.6,546.1 190.0,546.1 190.0,567.0 188.5,567.0 188.5,561.9 186.9,561.9 186.9,559.7 185.4,559.7 185.4,553.7 183.8,553.7 183.8,560.3 182.3,560.3 182.3,552.0 180.7,552.0 180.7,563.5 179.2,563.5 179.2,552.4 177.6,552.4 177.6,581.2 176.0,581.2 176.0,556.9 174.5,556.9 174.5,557.9 172.9,557.9 172.9,553.5 171.4,553.5 171.4,555.7 169.8,555.7 169.8,560.1 168.3,560.1 168.3,557.4 166.7,557.4 166.7,551.6 165.2,551.6 165.2,558.8 163.6,558.8 163.6,554.9 162.1,554.9 162.1,555.5 160.5,555.5 160.5,559.9 159.0,559.9 159.0,581.2 157.4,581.2 157.4,571.0 155.9,571.0 155.9,557.2 154.3,557.2 154.3,557.1 152.8,557.1 152.8,556.9 151.2,556.9 151.2,552.8 149.6,552.8 149.6,546.3 148.1,546.3 148.1,555.6 146.5,555.6 146.5,555.3 145.0,555.3 145.0,555.5 143.4,555.5 143.4,560.4 141.9,560.4 141.9,559.4 140.3,559.4 140.3,559.5 138.8,559.5 138.8,555.0 137.2,555.0 137.2,558.5 135.7,558.5 135.7,563.9 134.1,563.9 134.1,557.3 132.6,557.3 132.6,562.6 131.0,562.6 131.0,567.1 129.5,567.1 129.5,555.1 127.9,555.1 127.9,559.7 126.4,559.7 126.4,561.3 124.8,561.3 124.8,562.1 123.2,562.1 123.2,548.7 121.7,548.7 121.7,559.5 120.1,559.5 120.1,565.5 118.6,565.5 118.6,571.7 117.0,571.7 117.0,562.5 115.5,562.5 115.5,558.4 113.9,558.4 113.9,561.3 112.4,561.3 112.4,560.7 110.8,560.7 110.8,547.1 109.3,547.1" fill="#1f77b4" stroke="#1f77b4" stroke-width="1.4" stroke-linejoin="round"/>
<polygon clip-path="url(#cp11)" points="620.8,472.7 622.3,472.7 622.3,464.8 623.9,464.8 623.9,463.9 625.4,463.9 625.4,461.0 627.0,461.0 627.0,464.4 628.5,464.4 628.5,465.6 630.1,465.6 630.1,455.8 631.6,455.8 631.6,455.5 633.2,455.5 633.2,450.7 634.7,450.7 634.7,455.6 636.2,455.6 636.2,455.4 637.8,455.4 637.8,457.5 639.3,457.5 639.3,456.0 640.9,456.0 640.9,459.2 642.4,459.2 642.4,466.9 644.0,466.9 644.0,472.2 645.5,472.2 645.5,469.6 647.1,469.6 647.1,467.1 648.6,467.1 648.6,462.9 650.2,462.9 650.2,461.6 651.7,461.6 651.7,462.5 653.3,462.5 653.3,467.5 654.8,467.5 654.8,468.6 656.4,468.6 656.4,475.3 657.9,475.3 657.9,474.2 659.5,474.2 659.5,470.3 661.0,470.3 661.0,465.0 662.6,465.0 662.6,473.5 664.1,473.5 664.1,479.2 665.7,479.2 665.7,486.9 667.2,486.9 667.2,485.1 668.7,485.1 668.7,482.8 670.3,482.8 670.3,481.6 671.8,481.6 671.8,479.3 673.4,479.3 673.4,481.4 674.9,481.4 674.9,475.8 676.5,475.8 676.5,469.6 678.0,469.6 678.0,476.2 679.6,476.2 679.6,488.6 681.1,488.6 681.1,498.5 682.7,498.5 682.7,503.7 684.2,503.7 684.2,504.8 685.8,504.8 685.8,511.0 687.3,511.0 687.3,512.5 688.9,512.5 688.9,513.0 690.4,513.0 690.4,519.5 692.0,519.5 692.0,522.0 693.5,522.0 693.5,520.8 695.1,520.8 695.1,523.2 696.6,523.2 696.6,527.8 698.2,527.8 698.2,533.9 699.7,533.9 699.7,529.0 701.2,529.0 701.2,522.7 702.8,522.7 702.8,520.4 704.3,520.4 704.3,517.7 705.9,517.7 705.9,510.3 707.4,510.3 707.4,507.9 709.0,507.9 709.0,503.6 710.5,503.6 710.5,511.4 712.1,511.4 712.1,511.5 713.6,511.5 713.6,521.3 715.2,521.3 715.2,526.6 716.7,526.6 716.7,527.2 718.3,527.2 718.3,521.0 719.8,521.0 719.8,529.2 721.4,529.2 721.4,530.5 722.9,530.5 722.9,523.5 724.5,523.5 724.5,523.0 726.0,523.0 726.0,510.9 727.6,510.9 727.6,505.0 729.1,505.0 729.1,500.8 730.7,500.8 730.7,504.0 732.2,504.0 732.2,500.6 733.7,500.6 733.7,507.5 735.3,507.5 735.3,506.5 736.8,506.5 736.8,496.7 738.4,496.7 738.4,497.5 739.9,497.5 739.9,497.0 741.5,497.0 741.5,516.0 743.0,516.0 743.0,517.8 744.6,517.8 744.6,524.5 746.1,524.5 746.1,525.6 747.7,525.6 747.7,526.0 749.2,526.0 749.2,534.9 750.8,534.9 750.8,536.3 752.3,536.3 752.3,544.8 753.9,544.8 753.9,544.9 755.4,544.9 755.4,549.6 757.0,549.6 757.0,546.5 758.5,546.5 758.5,542.8 760.1,542.8 760.1,537.1 761.6,537.1 761.6,536.2 763.2,536.2 763.2,530.3 764.7,530.3 764.7,525.3 766.3,525.3 766.3,512.4 767.8,512.4 767.8,506.1 769.3,506.1 769.3,503.6 770.9,503.6 770.9,501.5 772.4,501.5 772.4,506.5 774.0,506.5 774.0,511.0 775.5,511.0 775.5,500.2 777.1,500.2 777.1,491.9 778.6,491.9 778.6,490.9 780.2,490.9 780.2,505.1 781.7,505.1 781.7,509.8 783.3,509.8 783.3,510.0 784.8,510.0 784.8,514.1 786.4,514.1 786.4,513.7 787.9,513.7 787.9,506.8 789.5,506.8 789.5,501.3 791.0,501.3 791.0,489.9 792.6,489.9 792.6,492.3 794.1,492.3 794.1,498.7 795.7,498.7 795.7,501.1 797.2,501.1 797.2,492.4 798.8,492.4 798.8,488.1 800.3,488.1 800.3,497.1 801.8,497.1 801.8,508.1 803.4,508.1 803.4,524.1 804.9,524.1 804.9,524.1 806.5,524.1 806.5,519.1 808.0,519.1 808.0,519.5 809.6,519.5 809.6,518.4 811.1,518.4 811.1,520.1 812.7,520.1 812.7,516.7 814.2,516.7 814.2,501.4 815.8,501.4 815.8,497.8 817.3,497.8 817.3,500.3 818.9,500.3 818.9,501.5 820.4,501.5 820.4,495.0 822.0,495.0 822.0,499.5 823.5,499.5 823.5,504.8 825.1,504.8 825.1,513.7 826.6,513.7 826.6,515.9 828.2,515.9 828.2,517.2 829.7,517.2 829.7,515.2 831.3,515.2 831.3,517.2 832.8,517.2 832.8,509.0 834.3,509.0 834.3,498.0 835.9,498.0 835.9,493.2 837.4,493.2 837.4,498.4 839.0,498.4 839.0,500.9 840.5,500.9 840.5,489.8 842.1,489.8 842.1,479.6 843.6,479.6 843.6,475.4 845.2,475.4 845.2,470.2 846.7,470.2 846.7,469.2 848.3,469.2 848.3,468.1 849.8,468.1 849.8,464.9 851.4,464.9 851.4,470.7 852.9,470.7 852.9,470.1 854.5,470.1 854.5,469.4 856.0,469.4 856.0,467.9 857.6,467.9 857.6,476.8 859.1,476.8 859.1,484.8 860.7,484.8 860.7,481.5 862.2,481.5 862.2,480.2 863.8,480.2 863.8,483.0 865.3,483.0 865.3,487.6 866.8,487.6 866.8,493.4 868.4,493.4 868.4,495.3 869.9,495.3 869.9,500.1 871.5,500.1 871.5,497.8 873.0,497.8 873.0,491.3 874.6,491.3 874.6,492.7 876.1,492.7 876.1,487.6 877.7,487.6 877.7,486.5 879.2,486.5 879.2,483.5 880.8,483.5 880.8,482.2 882.3,482.2 882.3,483.3 883.9,483.3 883.9,495.5 885.4,495.5 885.4,497.6 887.0,497.6 887.0,494.0 888.5,494.0 888.5,490.3 890.1,490.3 890.1,481.1 891.6,481.1 891.6,479.5 893.2,479.5 893.2,473.6 894.7,473.6 894.7,473.2 896.3,473.2 896.3,471.9 897.8,471.9 897.8,471.5 899.4,471.5 899.4,472.2 900.9,472.2 900.9,480.4 902.4,480.4 902.4,485.4 904.0,485.4 904.0,490.4 905.5,490.4 905.5,495.0 907.1,495.0 907.1,496.6 908.6,496.6 908.6,491.6 910.2,491.6 910.2,489.3 911.7,489.3 911.7,493.5 913.3,493.5 913.3,496.4 914.8,496.4 914.8,486.2 916.4,486.2 916.4,483.6 917.9,483.6 917.9,482.9 919.5,482.9 919.5,486.0 921.0,486.0 921.0,485.4 922.6,485.4 922.6,486.4 924.1,486.4 924.1,491.9 925.7,491.9 925.7,494.3 927.2,494.3 927.2,494.4 928.8,494.4 928.8,497.4 930.3,497.4 930.3,495.0 931.9,495.0 931.9,502.3 933.4,502.3 933.4,505.4 934.9,505.4 934.9,510.5 936.5,510.5 936.5,513.9 938.0,513.9 938.0,515.2 939.6,515.2 939.6,524.5 941.1,524.5 941.1,521.3 942.7,521.3 942.7,513.8 944.2,513.8 944.2,508.6 945.8,508.6 945.8,507.5 947.3,507.5 947.3,499.7 948.9,499.7 948.9,502.2 950.4,502.2 950.4,505.3 952.0,505.3 952.0,503.7 953.5,503.7 953.5,511.8 955.1,511.8 955.1,520.9 956.6,520.9 956.6,524.9 958.2,524.9 958.2,525.2 959.7,525.2 959.7,528.6 961.3,528.6 961.3,535.0 962.8,535.0 962.8,538.1 964.4,538.1 964.4,534.2 965.9,534.2 965.9,531.4 967.4,531.4 967.4,536.2 969.0,536.2 969.0,537.9 970.5,537.9 970.5,537.2 972.1,537.2 972.1,541.4 973.6,541.4 973.6,539.1 975.2,539.1 975.2,545.7 976.7,545.7 976.7,549.0 978.3,549.0 978.3,554.1 979.8,554.1 979.8,549.2 981.4,549.2 981.4,541.8 982.9,541.8 982.9,541.2 984.5,541.2 984.5,539.0 986.0,539.0 986.0,542.6 987.6,542.6 987.6,549.1 989.1,549.1 989.1,551.1 990.7,551.1 990.7,553.7 992.2,553.7 992.2,557.4 993.8,557.4 993.8,563.4 995.3,563.4 995.3,565.1 996.9,565.1 996.9,563.7 998.4,563.7 998.4,564.1 999.9,564.1 999.9,568.9 1001.5,568.9 1001.5,562.6 1003.0,562.6 1003.0,564.1 1004.6,564.1 1004.6,563.2 1006.1,563.2 1006.1,553.0 1007.7,553.0 1007.7,555.4 1009.2,555.4 1009.2,544.8 1010.8,544.8 1010.8,536.9 1012.3,536.9 1012.3,555.2 1010.8,555.2 1010.8,559.4 1009.2,559.4 1009.2,571.8 1007.7,571.8 1007.7,570.8 1006.1,570.8 1006.1,576.1 1004.6,576.1 1004.6,579.3 1003.0,579.3 1003.0,576.7 1001.5,576.7 1001.5,579.9 999.9,579.9 999.9,578.4 998.4,578.4 998.4,576.6 996.9,576.6 996.9,578.8 995.3,578.8 995.3,577.9 993.8,577.9 993.8,572.7 992.2,572.7 992.2,565.6 990.7,565.6 990.7,568.3 989.1,568.3 989.1,565.2 987.6,565.2 987.6,560.1 986.0,560.1 986.0,554.3 984.5,554.3 984.5,554.7 982.9,554.7 982.9,564.3 981.4,564.3 981.4,562.9 979.8,562.9 979.8,570.3 978.3,570.3 978.3,567.2 976.7,567.2 976.7,558.7 975.2,558.7 975.2,556.9 973.6,556.9 973.6,553.4 972.1,553.4 972.1,552.9 970.5,552.9 970.5,553.5 969.0,553.5 969.0,551.7 967.4,551.7 967.4,547.1 965.9,547.1 965.9,548.0 964.4,548.0 964.4,553.4 962.8,553.4 962.8,551.6 961.3,551.6 961.3,543.1 959.7,543.1 959.7,538.7 958.2,538.7 958.2,540.4 956.6,540.4 956.6,534.3 955.1,534.3 955.1,532.2 953.5,532.2 953.5,523.1 952.0,523.1 952.0,515.5 950.4,515.5 950.4,515.7 948.9,515.7 948.9,515.5 947.3,515.5 947.3,518.3 945.8,518.3 945.8,527.5 944.2,527.5 944.2,535.5 942.7,535.5 942.7,531.8 941.1,531.8 941.1,535.7 939.6,535.7 939.6,537.0 938.0,537.0 938.0,528.6 936.5,528.6 936.5,521.7 934.9,521.7 934.9,519.3 933.4,519.3 933.4,520.3 931.9,520.3 931.9,514.3 930.3,514.3 930.3,515.1 928.8,515.1 928.8,510.9 927.2,510.9 927.2,508.0 925.7,508.0 925.7,508.1 924.1,508.1 924.1,503.3 922.6,503.3 922.6,503.4 921.0,503.4 921.0,498.8 919.5,498.8 919.5,495.3 917.9,495.3 917.9,496.6 916.4,496.6 916.4,502.6 914.8,502.6 914.8,510.5 913.3,510.5 913.3,509.5 911.7,509.5 911.7,501.7 910.2,501.7 910.2,508.0 908.6,508.0 908.6,516.1 907.1,516.1 907.1,513.0 905.5,513.0 905.5,503.9 904.0,503.9 904.0,498.4 902.4,498.4 902.4,492.8 900.9,492.8 900.9,488.6 899.4,488.6 899.4,483.5 897.8,483.5 897.8,483.5 896.3,483.5 896.3,484.5 894.7,484.5 894.7,493.0 893.2,493.0 893.2,491.7 891.6,491.7 891.6,495.5 890.1,495.5 890.1,502.4 888.5,502.4 888.5,509.5 887.0,509.5 887.0,511.5 885.4,511.5 885.4,510.0 883.9,510.0 883.9,505.6 882.3,505.6 882.3,501.9 880.8,501.9 880.8,496.9 879.2,496.9 879.2,503.3 877.7,503.3 877.7,501.9 876.1,501.9 876.1,504.5 874.6,504.5 874.6,510.7 873.0,510.7 873.0,510.3 871.5,510.3 871.5,514.9 869.9,514.9 869.9,508.0 868.4,508.0 868.4,505.2 866.8,505.2 866.8,503.8 865.3,503.8 865.3,498.3 863.8,498.3 863.8,494.6 862.2,494.6 862.2,500.8 860.7,500.8 860.7,495.5 859.1,495.5 859.1,489.7 857.6,489.7 857.6,480.6 856.0,480.6 856.0,484.6 854.5,484.6 854.5,485.8 852.9,485.8 852.9,480.4 851.4,480.4 851.4,481.7 849.8,481.7 849.8,482.7 848.3,482.7 848.3,485.8 846.7,485.8 846.7,485.5 845.2,485.5 845.2,491.7 843.6,491.7 843.6,498.1 842.1,498.1 842.1,508.3 840.5,508.3 840.5,518.9 839.0,518.9 839.0,511.0 837.4,511.0 837.4,509.7 835.9,509.7 835.9,517.4 834.3,517.4 834.3,526.5 832.8,526.5 832.8,529.9 831.3,529.9 831.3,530.7 829.7,530.7 829.7,536.3 828.2,536.3 828.2,532.6 826.6,532.6 826.6,525.8 825.1,525.8 825.1,521.3 823.5,521.3 823.5,512.3 822.0,512.3 822.0,510.7 820.4,510.7 820.4,514.8 818.9,514.8 818.9,512.5 817.3,512.5 817.3,513.4 815.8,513.4 815.8,518.9 814.2,518.9 814.2,529.8 812.7,529.8 812.7,536.7 811.1,536.7 811.1,534.5 809.6,534.5 809.6,533.2 808.0,533.2 808.0,534.1 806.5,534.1 806.5,534.7 804.9,534.7 804.9,538.7 803.4,538.7 803.4,530.1 801.8,530.1 801.8,514.1 800.3,514.1 800.3,508.3 798.8,508.3 798.8,509.3 797.2,509.3 797.2,513.7 795.7,513.7 795.7,514.0 794.1,514.0 794.1,504.9 792.6,504.9 792.6,508.9 791.0,508.9 791.0,513.7 789.5,513.7 789.5,520.2 787.9,520.2 787.9,525.5 786.4,525.5 786.4,529.0 784.8,529.0 784.8,524.7 783.3,524.7 783.3,527.3 781.7,527.3 781.7,521.1 780.2,521.1 780.2,512.6 778.6,512.6 778.6,510.3 777.1,510.3 777.1,517.1 775.5,517.1 775.5,523.1 774.0,523.1 774.0,524.8 772.4,524.8 772.4,522.7 770.9,522.7 770.9,520.0 769.3,520.0 769.3,524.7 767.8,524.7 767.8,528.9 766.3,528.9 766.3,537.8 764.7,537.8 764.7,544.5 763.2,544.5 763.2,547.4 761.6,547.4 761.6,555.2 760.1,555.2 760.1,557.7 758.5,557.7 758.5,558.8 757.0,558.8 757.0,563.2 755.4,563.2 755.4,566.6 753.9,566.6 753.9,558.6 752.3,558.6 752.3,551.8 750.8,551.8 750.8,546.8 749.2,546.8 749.2,538.2 747.7,538.2 747.7,547.0 746.1,547.0 746.1,542.0 744.6,542.0 744.6,532.7 743.0,532.7 743.0,529.0 741.5,529.0 741.5,519.0 739.9,519.0 739.9,516.3 738.4,516.3 738.4,513.1 736.8,513.1 736.8,523.8 735.3,523.8 735.3,518.4 733.7,518.4 733.7,515.9 732.2,515.9 732.2,515.8 730.7,515.8 730.7,514.7 729.1,514.7 729.1,521.4 727.6,521.4 727.6,528.1 726.0,528.1 726.0,535.9 724.5,535.9 724.5,539.5 722.9,539.5 722.9,543.2 721.4,543.2 721.4,544.8 719.8,544.8 719.8,542.1 718.3,542.1 718.3,535.7 716.7,535.7 716.7,543.2 715.2,543.2 715.2,538.4 713.6,538.4 713.6,531.2 712.1,531.2 712.1,527.8 710.5,527.8 710.5,522.7 709.0,522.7 709.0,521.0 707.4,521.0 707.4,527.3 705.9,527.3 705.9,530.6 704.3,530.6 704.3,535.4 702.8,535.4 702.8,542.1 701.2,542.1 701.2,543.9 699.7,543.9 699.7,545.1 698.2,545.1 698.2,541.3 696.6,541.3 696.6,539.2 695.1,539.2 695.1,536.3 693.5,536.3 693.5,534.5 692.0,534.5 692.0,536.0 690.4,536.0 690.4,529.5 688.9,529.5 688.9,526.6 687.3,526.6 687.3,525.2 685.8,525.2 685.8,523.4 684.2,523.4 684.2,514.2 682.7,514.2 682.7,510.6 681.1,510.6 681.1,503.3 679.6,503.3 679.6,494.7 678.0,494.7 678.0,485.8 676.5,485.8 676.5,498.2 674.9,498.2 674.9,497.5 673.4,497.5 673.4,498.1 671.8,498.1 671.8,493.0 670.3,493.0 670.3,496.8 668.7,496.8 668.7,499.9 667.2,499.9 667.2,500.6 665.7,500.6 665.7,492.2 664.1,492.2 664.1,485.2 662.6,485.2 662.6,483.2 661.0,483.2 661.0,483.7 659.5,483.7 659.5,490.4 657.9,490.4 657.9,488.1 656.4,488.1 656.4,484.8 654.8,484.8 654.8,476.9 653.3,476.9 653.3,480.7 651.7,480.7 651.7,477.6 650.2,477.6 650.2,477.1 648.6,477.1 648.6,480.7 647.1,480.7 647.1,483.6 645.5,483.6 645.5,485.6 644.0,485.6 644.0,482.9 642.4,482.9 642.4,475.5 640.9,475.5 640.9,470.4 639.3,470.4 639.3,471.3 637.8,471.3 637.8,472.0 636.2,472.0 636.2,467.8 634.7,467.8 634.7,471.0 633.2,471.0 633.2,471.2 631.6,471.2 631.6,476.1 630.1,476.1 630.1,476.5 628.5,476.5 628.5,479.6 627.0,479.6 627.0,471.6 625.4,471.6 625.4,477.3 623.9,477.3 623.9,481.2 622.3,481.2 622.3,482.6 620.8,482.6" fill="#1f77b4" stroke="#1f77b4" stroke-width="1.4" stroke-linejoin="round"/>
<polygon clip-path="url(#cp21)" points="1132.6,553.1 1134.1,553.1 1134.1,553.8 1135.7,553.8 1135.7,555.2 1137.2,555.2 1137.2,559.0 1138.8,559.0 1138.8,560.5 1140.3,560.5 1140.3,557.5 1141.9,557.5 1141.9,562.7 1143.4,562.7 1143.4,565.4 1145.0,565.4 1145.0,566.5 1146.5,566.5 1146.5,572.5 1148.1,572.5 1148.1,570.4 1149.6,570.4 1149.6,572.8 1151.1,572.8 1151.1,566.3 1152.7,566.3 1152.7,562.3 1154.2,562.3 1154.2,564.1 1155.8,564.1 1155.8,555.5 1157.3,555.5 1157.3,553.7 1158.9,553.7 1158.9,553.3 1160.4,553.3 1160.4,558.5 1162.0,558.5 1162.0,564.8 1163.5,564.8 1163.5,559.7 1165.1,559.7 1165.1,554.4 1166.6,554.4 1166.6,557.3 1168.2,557.3 1168.2,554.9 1169.7,554.9 1169.7,555.0 1171.3,555.0 1171.3,558.1 1172.8,558.1 1172.8,556.6 1174.4,556.6 1174.4,554.4 1175.9,554.4 1175.9,545.8 1177.5,545.8 1177.5,540.9 1179.0,540.9 1179.0,544.0 1180.6,544.0 1180.6,549.8 1182.1,549.8 1182.1,552.1 1183.7,552.1 1183.7,550.3 1185.2,550.3 1185.2,545.8 1186.8,545.8 1186.8,549.0 1188.3,549.0 1188.3,552.3 1189.8,552.3 1189.8,549.0 1191.4,549.0 1191.4,544.7 1192.9,544.7 1192.9,538.5 1194.5,538.5 1194.5,535.3 1196.0,535.3 1196.0,532.3 1197.6,532.3 1197.6,525.5 1199.1,525.5 1199.1,526.2 1200.7,526.2 1200.7,520.4 1202.2,520.4 1202.2,511.4 1203.8,511.4 1203.8,516.6 1205.3,516.6 1205.3,519.2 1206.9,519.2 1206.9,517.6 1208.4,517.6 1208.4,513.0 1210.0,513.0 1210.0,504.7 1211.5,504.7 1211.5,513.9 1213.1,513.9 1213.1,514.1 1214.6,514.1 1214.6,517.4 1216.2,517.4 1216.2,520.0 1217.7,520.0 1217.7,523.4 1219.3,523.4 1219.3,530.8 1220.8,530.8 1220.8,534.7 1222.4,534.7 1222.4,527.1 1223.9,527.1 1223.9,524.7 1225.5,524.7 1225.5,517.6 1227.0,517.6 1227.0,509.9 1228.5,509.9 1228.5,516.1 1230.1,516.1 1230.1,509.9 1231.6,509.9 1231.6,504.9 1233.2,504.9 1233.2,506.0 1234.7,506.0 1234.7,509.1 1236.3,509.1 1236.3,518.8 1237.8,518.8 1237.8,522.1 1239.4,522.1 1239.4,530.4 1240.9,530.4 1240.9,532.5 1242.5,532.5 1242.5,532.9 1244.0,532.9 1244.0,533.7 1245.6,533.7 1245.6,532.0 1247.1,532.0 1247.1,534.9 1248.7,534.9 1248.7,537.2 1250.2,537.2 1250.2,539.6 1251.8,539.6 1251.8,533.8 1253.3,533.8 1253.3,522.5 1254.9,522.5 1254.9,510.9 1256.4,510.9 1256.4,506.1 1258.0,506.1 1258.0,506.7 1259.5,506.7 1259.5,513.9 1261.1,513.9 1261.1,515.7 1262.6,515.7 1262.6,501.5 1264.2,501.5 1264.2,484.2 1265.7,484.2 1265.7,477.0 1267.3,477.0 1267.3,479.9 1268.8,479.9 1268.8,485.7 1270.3,485.7 1270.3,498.3 1271.9,498.3 1271.9,499.3 1273.4,499.3 1273.4,501.2 1275.0,501.2 1275.0,507.7 1276.5,507.7 1276.5,507.9 1278.1,507.9 1278.1,514.0 1279.6,514.0 1279.6,523.2 1281.2,523.2 1281.2,533.8 1282.7,533.8 1282.7,527.8 1284.3,527.8 1284.3,526.3 1285.8,526.3 1285.8,525.1 1287.4,525.1 1287.4,536.2 1288.9,536.2 1288.9,537.6 1290.5,537.6 1290.5,541.8 1292.0,541.8 1292.0,538.9 1293.6,538.9 1293.6,530.9 1295.1,530.9 1295.1,526.5 1296.7,526.5 1296.7,521.6 1298.2,521.6 1298.2,524.1 1299.8,524.1 1299.8,532.8 1301.3,532.8 1301.3,539.9 1302.9,539.9 1302.9,547.9 1304.4,547.9 1304.4,545.8 1306.0,545.8 1306.0,531.5 1307.5,531.5 1307.5,532.1 1309.0,532.1 1309.0,536.2 1310.6,536.2 1310.6,541.0 1312.1,541.0 1312.1,528.4 1313.7,528.4 1313.7,518.0 1315.2,518.0 1315.2,517.7 1316.8,517.7 1316.8,520.0 1318.3,520.0 1318.3,518.4 1319.9,518.4 1319.9,511.9 1321.4,511.9 1321.4,515.0 1323.0,515.0 1323.0,519.6 1324.5,519.6 1324.5,522.5 1326.1,522.5 1326.1,529.9 1327.6,529.9 1327.6,540.4 1329.2,540.4 1329.2,539.9 1330.7,539.9 1330.7,539.1 1332.3,539.1 1332.3,538.3 1333.8,538.3 1333.8,544.9 1335.4,544.9 1335.4,539.9 1336.9,539.9 1336.9,526.5 1338.5,526.5 1338.5,518.1 1340.0,518.1 1340.0,518.8 1341.6,518.8 1341.6,523.3 1343.1,523.3 1343.1,521.2 1344.7,521.2 1344.7,525.6 1346.2,525.6 1346.2,534.1 1347.8,534.1 1347.8,540.2 1349.3,540.2 1349.3,537.9 1350.8,537.9 1350.8,539.6 1352.4,539.6 1352.4,545.1 1353.9,545.1 1353.9,549.6 1355.5,549.6 1355.5,549.4 1357.0,549.4 1357.0,554.5 1358.6,554.5 1358.6,558.6 1360.1,558.6 1360.1,555.2 1361.7,555.2 1361.7,560.1 1363.2,560.1 1363.2,559.8 1364.8,559.8 1364.8,556.3 1366.3,556.3 1366.3,555.7 1367.9,555.7 1367.9,553.9 1369.4,553.9 1369.4,549.4 1371.0,549.4 1371.0,548.3 1372.5,548.3 1372.5,544.9 1374.1,544.9 1374.1,547.7 1375.6,547.7 1375.6,545.5 1377.2,545.5 1377.2,540.4 1378.7,540.4 1378.7,538.6 1380.3,538.6 1380.3,538.1 1381.8,538.1 1381.8,538.8 1383.4,538.8 1383.4,538.2 1384.9,538.2 1384.9,542.4 1386.5,542.4 1386.5,546.4 1388.0,546.4 1388.0,548.0 1389.5,548.0 1389.5,545.2 1391.1,545.2 1391.1,545.8 1392.6,545.8 1392.6,546.3 1394.2,546.3 1394.2,537.6 1395.7,537.6 1395.7,533.5 1397.3,533.5 1397.3,535.2 1398.8,535.2 1398.8,537.8 1400.4,537.8 1400.4,540.9 1401.9,540.9 1401.9,555.1 1403.5,555.1 1403.5,560.8 1405.0,560.8 1405.0,565.6 1406.6,565.6 1406.6,562.6 1408.1,562.6 1408.1,559.7 1409.7,559.7 1409.7,556.8 1411.2,556.8 1411.2,552.2 1412.8,552.2 1412.8,548.5 1414.3,548.5 1414.3,541.9 1415.9,541.9 1415.9,542.1 1417.4,542.1 1417.4,538.9 1419.0,538.9 1419.0,544.9 1420.5,544.9 1420.5,550.9 1422.1,550.9 1422.1,548.4 1423.6,548.4 1423.6,546.8 1425.2,546.8 1425.2,542.6 1426.7,542.6 1426.7,545.8 1428.3,545.8 1428.3,544.8 1429.8,544.8 1429.8,548.2 1431.3,548.2 1431.3,550.0 1432.9,550.0 1432.9,545.6 1434.4,545.6 1434.4,551.2 1436.0,551.2 1436.0,546.9 1437.5,546.9 1437.5,538.8 1439.1,538.8 1439.1,541.1 1440.6,541.1 1440.6,538.7 1442.2,538.7 1442.2,536.9 1443.7,536.9 1443.7,535.2 1445.3,535.2 1445.3,535.1 1446.8,535.1 1446.8,537.1 1448.4,537.1 1448.4,531.3 1449.9,531.3 1449.9,513.2 1451.5,513.2 1451.5,518.2 1453.0,518.2 1453.0,516.6 1454.6,516.6 1454.6,516.0 1456.1,516.0 1456.1,524.3 1457.7,524.3 1457.7,534.6 1459.2,534.6 1459.2,537.0 1460.8,537.0 1460.8,535.8 1462.3,535.8 1462.3,529.1 1463.9,529.1 1463.9,518.2 1465.4,518.2 1465.4,512.8 1467.0,512.8 1467.0,508.9 1468.5,508.9 1468.5,509.9 1470.0,509.9 1470.0,514.8 1471.6,514.8 1471.6,501.4 1473.1,501.4 1473.1,497.2 1474.7,497.2 1474.7,490.8 1476.2,490.8 1476.2,503.3 1477.8,503.3 1477.8,504.7 1479.3,504.7 1479.3,495.1 1480.9,495.1 1480.9,487.7 1482.4,487.7 1482.4,482.7 1484.0,482.7 1484.0,495.6 1485.5,495.6 1485.5,493.1 1487.1,493.1 1487.1,487.2 1488.6,487.2 1488.6,482.4 1490.2,482.4 1490.2,478.3 1491.7,478.3 1491.7,480.4 1493.3,480.4 1493.3,492.2 1494.8,492.2 1494.8,499.1 1496.4,499.1 1496.4,494.8 1497.9,494.8 1497.9,483.4 1499.5,483.4 1499.5,479.6 1501.0,479.6 1501.0,485.0 1502.6,485.0 1502.6,482.3 1504.1,482.3 1504.1,464.8 1505.7,464.8 1505.7,459.4 1507.2,459.4 1507.2,463.9 1508.7,463.9 1508.7,462.5 1510.3,462.5 1510.3,456.0 1511.8,456.0 1511.8,450.8 1513.4,450.8 1513.4,451.8 1514.9,451.8 1514.9,463.1 1516.5,463.1 1516.5,461.5 1518.0,461.5 1518.0,461.8 1519.6,461.8 1519.6,477.7 1521.1,477.7 1521.1,480.4 1522.7,480.4 1522.7,495.2 1524.2,495.2 1524.2,511.5 1522.7,511.5 1522.7,499.8 1521.1,499.8 1521.1,493.0 1519.6,493.0 1519.6,480.1 1518.0,480.1 1518.0,474.9 1516.5,474.9 1516.5,475.2 1514.9,475.2 1514.9,468.8 1513.4,468.8 1513.4,464.3 1511.8,464.3 1511.8,474.4 1510.3,474.4 1510.3,474.0 1508.7,474.0 1508.7,480.5 1507.2,480.5 1507.2,473.1 1505.7,473.1 1505.7,490.3 1504.1,490.3 1504.1,501.2 1502.6,501.2 1502.6,502.7 1501.0,502.7 1501.0,492.8 1499.5,492.8 1499.5,501.2 1497.9,501.2 1497.9,512.2 1496.4,512.2 1496.4,513.1 1494.8,513.1 1494.8,509.2 1493.3,509.2 1493.3,502.1 1491.7,502.1 1491.7,495.6 1490.2,495.6 1490.2,495.6 1488.6,495.6 1488.6,502.3 1487.1,502.3 1487.1,507.3 1485.5,507.3 1485.5,512.7 1484.0,512.7 1484.0,506.7 1482.4,506.7 1482.4,504.8 1480.9,504.8 1480.9,512.3 1479.3,512.3 1479.3,518.6 1477.8,518.6 1477.8,522.3 1476.2,522.3 1476.2,516.8 1474.7,516.8 1474.7,509.7 1473.1,509.7 1473.1,524.1 1471.6,524.1 1471.6,526.6 1470.0,526.6 1470.0,527.1 1468.5,527.1 1468.5,521.2 1467.0,521.2 1467.0,529.1 1465.4,529.1 1465.4,535.0 1463.9,535.0 1463.9,546.4 1462.3,546.4 1462.3,550.0 1460.8,550.0 1460.8,548.4 1459.2,548.4 1459.2,547.1 1457.7,547.1 1457.7,540.8 1456.1,540.8 1456.1,535.3 1454.6,535.3 1454.6,530.5 1453.0,530.5 1453.0,530.5 1451.5,530.5 1451.5,534.3 1449.9,534.3 1449.9,546.2 1448.4,546.2 1448.4,549.7 1446.8,549.7 1446.8,546.4 1445.3,546.4 1445.3,551.0 1443.7,551.0 1443.7,554.0 1442.2,554.0 1442.2,551.5 1440.6,551.5 1440.6,552.2 1439.1,552.2 1439.1,553.9 1437.5,553.9 1437.5,563.5 1436.0,563.5 1436.0,566.8 1434.4,566.8 1434.4,562.2 1432.9,562.2 1432.9,560.1 1431.3,560.1 1431.3,561.2 1429.8,561.2 1429.8,561.6 1428.3,561.6 1428.3,559.1 1426.7,559.1 1426.7,560.0 1425.2,560.0 1425.2,567.3 1423.6,567.3 1423.6,563.4 1422.1,563.4 1422.1,562.3 1420.5,562.3 1420.5,558.0 1419.0,558.0 1419.0,556.9 1417.4,556.9 1417.4,554.5 1415.9,554.5 1415.9,561.3 1414.3,561.3 1414.3,565.2 1412.8,565.2 1412.8,570.9 1411.2,570.9 1411.2,570.1 1409.7,570.1 1409.7,574.4 1408.1,574.4 1408.1,576.3 1406.6,576.3 1406.6,576.3 1405.0,576.3 1405.0,580.0 1403.5,580.0 1403.5,568.4 1401.9,568.4 1401.9,563.0 1400.4,563.0 1400.4,553.2 1398.8,553.2 1398.8,550.4 1397.3,550.4 1397.3,546.8 1395.7,546.8 1395.7,557.3 1394.2,557.3 1394.2,556.7 1392.6,556.7 1392.6,563.3 1391.1,563.3 1391.1,559.9 1389.5,559.9 1389.5,559.4 1388.0,559.4 1388.0,555.6 1386.5,555.6 1386.5,552.8 1384.9,552.8 1384.9,552.7 1383.4,552.7 1383.4,550.5 1381.8,550.5 1381.8,550.2 1380.3,550.2 1380.3,555.0 1378.7,555.0 1378.7,553.8 1377.2,553.8 1377.2,560.7 1375.6,560.7 1375.6,561.7 1374.1,561.7 1374.1,564.8 1372.5,564.8 1372.5,559.0 1371.0,559.0 1371.0,568.0 1369.4,568.0 1369.4,564.8 1367.9,564.8 1367.9,572.1 1366.3,572.1 1366.3,573.4 1364.8,573.4 1364.8,572.4 1363.2,572.4 1363.2,572.6 1361.7,572.6 1361.7,573.0 1360.1,573.0 1360.1,568.2 1358.6,568.2 1358.6,566.4 1357.0,566.4 1357.0,567.0 1355.5,567.0 1355.5,561.7 1353.9,561.7 1353.9,560.8 1352.4,560.8 1352.4,554.9 1350.8,554.9 1350.8,555.6 1349.3,555.6 1349.3,550.8 1347.8,550.8 1347.8,548.6 1346.2,548.6 1346.2,539.1 1344.7,539.1 1344.7,538.4 1343.1,538.4 1343.1,533.4 1341.6,533.4 1341.6,535.9 1340.0,535.9 1340.0,533.7 1338.5,533.7 1338.5,546.8 1336.9,546.8 1336.9,553.8 1335.4,553.8 1335.4,556.4 1333.8,556.4 1333.8,555.5 1332.3,555.5 1332.3,554.3 1330.7,554.3 1330.7,553.6 1329.2,553.6 1329.2,554.2 1327.6,554.2 1327.6,549.7 1326.1,549.7 1326.1,535.7 1324.5,535.7 1324.5,535.8 1323.0,535.8 1323.0,529.9 1321.4,529.9 1321.4,531.3 1319.9,531.3 1319.9,532.6 1318.3,532.6 1318.3,532.1 1316.8,532.1 1316.8,531.7 1315.2,531.7 1315.2,534.0 1313.7,534.0 1313.7,550.6 1312.1,550.6 1312.1,558.1 1310.6,558.1 1310.6,552.1 1309.0,552.1 1309.0,546.8 1307.5,546.8 1307.5,555.6 1306.0,555.6 1306.0,560.9 1304.4,560.9 1304.4,562.3 1302.9,562.3 1302.9,553.9 1301.3,553.9 1301.3,543.2 1299.8,543.2 1299.8,538.8 1298.2,538.8 1298.2,538.7 1296.7,538.7 1296.7,542.9 1295.1,542.9 1295.1,545.6 1293.6,545.6 1293.6,552.5 1292.0,552.5 1292.0,559.3 1290.5,559.3 1290.5,552.9 1288.9,552.9 1288.9,548.0 1287.4,548.0 1287.4,540.0 1285.8,540.0 1285.8,539.9 1284.3,539.9 1284.3,546.0 1282.7,546.0 1282.7,551.8 1281.2,551.8 1281.2,539.8 1279.6,539.8 1279.6,531.8 1278.1,531.8 1278.1,520.9 1276.5,520.9 1276.5,519.6 1275.0,519.6 1275.0,513.3 1273.4,513.3 1273.4,513.5 1271.9,513.5 1271.9,511.2 1270.3,511.2 1270.3,503.8 1268.8,503.8 1268.8,495.9 1267.3,495.9 1267.3,492.7 1265.7,492.7 1265.7,511.3 1264.2,511.3 1264.2,521.5 1262.6,521.5 1262.6,527.0 1261.1,527.0 1261.1,529.4 1259.5,529.4 1259.5,520.2 1258.0,520.2 1258.0,524.1 1256.4,524.1 1256.4,526.8 1254.9,526.8 1254.9,538.7 1253.3,538.7 1253.3,547.2 1251.8,547.2 1251.8,555.7 1250.2,555.7 1250.2,551.3 1248.7,551.3 1248.7,550.1 1247.1,550.1 1247.1,548.6 1245.6,548.6 1245.6,544.5 1244.0,544.5 1244.0,547.5 1242.5,547.5 1242.5,545.4 1240.9,545.4 1240.9,547.8 1239.4,547.8 1239.4,532.6 1237.8,532.6 1237.8,535.0 1236.3,535.0 1236.3,523.7 1234.7,523.7 1234.7,520.8 1233.2,520.8 1233.2,519.7 1231.6,519.7 1231.6,528.7 1230.1,528.7 1230.1,530.7 1228.5,530.7 1228.5,524.8 1227.0,524.8 1227.0,532.6 1225.5,532.6 1225.5,542.0 1223.9,542.0 1223.9,544.0 1222.4,544.0 1222.4,551.1 1220.8,551.1 1220.8,543.6 1219.3,543.6 1219.3,538.4 1217.7,538.4 1217.7,538.3 1216.2,538.3 1216.2,528.5 1214.6,528.5 1214.6,527.2 1213.1,527.2 1213.1,529.0 1211.5,529.0 1211.5,522.9 1210.0,522.9 1210.0,525.6 1208.4,525.6 1208.4,534.6 1206.9,534.6 1206.9,533.2 1205.3,533.2 1205.3,532.3 1203.8,532.3 1203.8,530.5 1202.2,530.5 1202.2,533.0 1200.7,533.0 1200.7,538.1 1199.1,538.1 1199.1,543.9 1197.6,543.9 1197.6,543.1 1196.0,543.1 1196.0,549.9 1194.5,549.9 1194.5,552.7 1192.9,552.7 1192.9,559.8 1191.4,559.8 1191.4,561.4 1189.8,561.4 1189.8,568.3 1188.3,568.3 1188.3,564.3 1186.8,564.3 1186.8,562.6 1185.2,562.6 1185.2,563.9 1183.7,563.9 1183.7,565.7 1182.1,565.7 1182.1,563.9 1180.6,563.9 1180.6,554.6 1179.0,554.6 1179.0,556.5 1177.5,556.5 1177.5,560.9 1175.9,560.9 1175.9,576.1 1174.4,576.1 1174.4,573.2 1172.8,573.2 1172.8,574.1 1171.3,574.1 1171.3,571.9 1169.7,571.9 1169.7,570.6 1168.2,570.6 1168.2,572.9 1166.6,572.9 1166.6,570.3 1165.1,570.3 1165.1,572.0 1163.5,572.0 1163.5,577.4 1162.0,577.4 1162.0,571.1 1160.4,571.1 1160.4,565.6 1158.9,565.6 1158.9,571.5 1157.3,571.5 1157.3,576.6 1155.8,576.6 1155.8,580.9 1154.2,580.9 1154.2,577.2 1152.7,577.2 1152.7,578.8 1151.1,578.8 1151.1,582.4 1149.6,582.4 1149.6,586.9 1148.1,586.9 1148.1,585.4 1146.5,585.4 1146.5,583.7 1145.0,583.7 1145.0,578.2 1143.4,578.2 1143.4,580.4 1141.9,580.4 1141.9,573.6 1140.3,573.6 1140.3,573.3 1138.8,573.3 1138.8,576.0 1137.2,576.0 1137.2,570.4 1135.7,570.4 1135.7,569.4 1134.1,569.4 1134.1,569.7 1132.6,569.7" fill="#1f77b4" stroke="#1f77b4" stroke-width="1.4" stroke-linejoin="round"/>
<polygon clip-path="url(#cp02)" points="109.3,689.5 110.8,689.5 110.8,687.6 112.4,687.6 112.4,688.6 113.9,688.6 113.9,667.0 115.5,667.0 115.5,695.5 117.0,695.5 117.0,686.1 118.6,686.1 118.6,696.2 120.1,696.2 120.1,696.0 121.7,696.0 121.7,685.4 123.2,685.4 123.2,690.1 124.8,690.1 124.8,676.2 126.4,676.2 126.4,691.5 127.9,691.5 127.9,686.1 129.5,686.1 129.5,656.0 131.0,656.0 131.0,696.2 132.6,696.2 132.6,689.5 134.1,689.5 134.1,700.5 135.7,700.5 135.7,695.7 137.2,695.7 137.2,686.4 138.8,686.4 138.8,693.1 140.3,693.1 140.3,674.0 141.9,674.0 141.9,692.2 143.4,692.2 143.4,681.9 145.0,681.9 145.0,699.7 146.5,699.7 146.5,685.1 148.1,685.1 148.1,666.2 149.6,666.2 149.6,685.3 151.2,685.3 151.2,697.4 152.8,697.4 152.8,683.0 154.3,683.0 154.3,673.9 155.9,673.9 155.9,692.4 157.4,692.4 157.4,689.0 159.0,689.0 159.0,689.1 160.5,689.1 160.5,691.3 162.1,691.3 162.1,665.1 163.6,665.1 163.6,681.4 165.2,681.4 165.2,681.8 166.7,681.8 166.7,680.4 168.3,680.4 168.3,697.4 169.8,697.4 169.8,691.7 171.4,691.7 171.4,693.3 172.9,693.3 172.9,685.6 174.5,685.6 174.5,656.0 176.0,656.0 176.0,690.5 177.6,690.5 177.6,694.7 179.2,694.7 179.2,690.7 180.7,690.7 180.7,692.5 182.3,692.5 182.3,682.7 183.8,682.7 183.8,679.1 185.4,679.1 185.4,686.0 186.9,686.0 186.9,696.1 188.5,696.1 188.5,700.4 190.0,700.4 190.0,691.0 191.6,691.0 191.6,699.8 193.1,699.8 193.1,694.6 194.7,694.6 194.7,674.4 196.2,674.4 196.2,672.3 197.8,672.3 197.8,692.9 199.3,692.9 199.3,685.1 200.9,685.1 200.9,696.7 202.5,696.7 202.5,688.0 204.0,688.0 204.0,686.0 205.6,686.0 205.6,690.9 207.1,690.9 207.1,680.0 208.7,680.0 208.7,695.8 210.2,695.8 210.2,673.8 211.8,673.8 211.8,677.4 213.3,677.4 213.3,686.2 214.9,686.2 214.9,685.0 216.4,685.0 216.4,686.0 218.0,686.0 218.0,677.3 219.5,677.3 219.5,694.4 221.1,694.4 221.1,688.2 222.6,688.2 222.6,692.6 224.2,692.6 224.2,696.3 225.7,696.3 225.7,685.6 227.3,685.6 227.3,682.5 228.9,682.5 228.9,695.1 230.4,695.1 230.4,691.9 232.0,691.9 232.0,686.4 233.5,686.4 233.5,686.4 235.1,686.4 235.1,699.9 236.6,699.9 236.6,692.0 238.2,692.0 238.2,689.3 239.7,689.3 239.7,685.7 241.3,685.7 241.3,686.4 242.8,686.4 242.8,705.3 244.4,705.3 244.4,660.7 245.9,660.7 245.9,685.6 247.5,685.6 247.5,681.6 249.0,681.6 249.0,683.1 250.6,683.1 250.6,693.4 252.1,693.4 252.1,680.6 253.7,680.6 253.7,691.4 255.3,691.4 255.3,676.2 256.8,676.2 256.8,699.0 258.4,699.0 258.4,683.3 259.9,683.3 259.9,682.6 261.5,682.6 261.5,698.2 263.0,698.2 263.0,688.3 264.6,688.3 264.6,687.1 266.1,687.1 266.1,687.9 267.7,687.9 267.7,663.4 269.2,663.4 269.2,684.9 270.8,684.9 270.8,679.1 272.3,679.1 272.3,682.2 273.9,682.2 273.9,690.5 275.4,690.5 275.4,677.7 277.0,677.7 277.0,682.4 278.5,682.4 278.5,693.5 280.1,693.5 280.1,700.0 281.7,700.0 281.7,685.8 283.2,685.8 283.2,693.2 284.8,693.2 284.8,688.6 286.3,688.6 286.3,704.4 287.9,704.4 287.9,693.1 289.4,693.1 289.4,702.4 291.0,702.4 291.0,684.0 292.5,684.0 292.5,696.0 294.1,696.0 294.1,685.6 295.6,685.6 295.6,690.7 297.2,690.7 297.2,690.6 298.7,690.6 298.7,688.3 300.3,688.3 300.3,684.1 301.8,684.1 301.8,697.3 303.4,697.3 303.4,696.9 304.9,696.9 304.9,686.1 306.5,686.1 306.5,681.7 308.1,681.7 308.1,682.7 309.6,682.7 309.6,691.3 311.2,691.3 311.2,700.3 312.7,700.3 312.7,689.4 314.3,689.4 314.3,669.2 315.8,669.2 315.8,679.0 317.4,679.0 317.4,681.4 318.9,681.4 318.9,666.6 320.5,666.6 320.5,688.2 322.0,688.2 322.0,670.4 323.6,670.4 323.6,696.1 325.1,696.1 325.1,683.1 326.7,683.1 326.7,692.0 328.2,692.0 328.2,689.0 329.8,689.0 329.8,688.8 331.4,688.8 331.4,677.7 332.9,677.7 332.9,690.3 334.5,690.3 334.5,680.5 336.0,680.5 336.0,691.5 337.6,691.5 337.6,683.1 339.1,683.1 339.1,696.7 340.7,696.7 340.7,684.5 342.2,684.5 342.2,689.3 343.8,689.3 343.8,691.5 345.3,691.5 345.3,688.8 346.9,688.8 346.9,675.6 348.4,675.6 348.4,691.6 350.0,691.6 350.0,692.1 351.5,692.1 351.5,692.0 353.1,692.0 353.1,686.8 354.6,686.8 354.6,683.6 356.2,683.6 356.2,686.4 357.8,686.4 357.8,685.5 359.3,685.5 359.3,682.7 360.9,682.7 360.9,680.4 362.4,680.4 362.4,695.5 364.0,695.5 364.0,687.3 365.5,687.3 365.5,685.2 367.1,685.2 367.1,687.7 368.6,687.7 368.6,691.8 370.2,691.8 370.2,667.4 371.7,667.4 371.7,689.5 373.3,689.5 373.3,691.9 374.8,691.9 374.8,679.9 376.4,679.9 376.4,679.4 377.9,679.4 377.9,692.2 379.5,692.2 379.5,690.1 381.0,690.1 381.0,683.1 382.6,683.1 382.6,684.0 384.2,684.0 384.2,691.4 385.7,691.4 385.7,681.4 387.3,681.4 387.3,679.7 388.8,679.7 388.8,689.6 390.4,689.6 390.4,683.3 391.9,683.3 391.9,697.5 393.5,697.5 393.5,687.5 395.0,687.5 395.0,685.1 396.6,685.1 396.6,688.5 398.1,688.5 398.1,682.8 399.7,682.8 399.7,687.9 401.2,687.9 401.2,687.2 402.8,687.2 402.8,691.1 404.3,691.1 404.3,703.3 405.9,703.3 405.9,691.8 407.4,691.8 407.4,694.8 409.0,694.8 409.0,679.7 410.6,679.7 410.6,672.0 412.1,672.0 412.1,675.4 413.7,675.4 413.7,677.2 415.2,677.2 415.2,684.2 416.8,684.2 416.8,688.0 418.3,688.0 418.3,689.2 419.9,689.2 419.9,693.9 421.4,693.9 421.4,693.8 423.0,693.8 423.0,689.7 424.5,689.7 424.5,672.7 426.1,672.7 426.1,690.0 427.6,690.0 427.6,684.9 429.2,684.9 429.2,688.8 430.7,688.8 430.7,696.2 432.3,696.2 432.3,676.6 433.9,676.6 433.9,672.7 435.4,672.7 435.4,676.0 437.0,676.0 437.0,680.0 438.5,680.0 438.5,693.7 440.1,693.7 440.1,691.3 441.6,691.3 441.6,679.3 443.2,679.3 443.2,697.8 444.7,697.8 444.7,685.8 446.3,685.8 446.3,692.7 447.8,692.7 447.8,683.7 449.4,683.7 449.4,694.0 450.9,694.0 450.9,691.0 452.5,691.0 452.5,685.2 454.0,685.2 454.0,683.5 455.6,683.5 455.6,686.0 457.1,686.0 457.1,696.9 458.7,696.9 458.7,676.2 460.3,676.2 460.3,700.8 461.8,700.8 461.8,676.0 463.4,676.0 463.4,684.4 464.9,684.4 464.9,696.9 466.5,696.9 466.5,692.9 468.0,692.9 468.0,694.6 469.6,694.6 469.6,697.6 471.1,697.6 471.1,688.0 472.7,688.0 472.7,684.3 474.2,684.3 474.2,674.0 475.8,674.0 475.8,691.8 477.3,691.8 477.3,696.9 478.9,696.9 478.9,696.8 480.4,696.8 480.4,694.2 482.0,694.2 482.0,690.7 483.5,690.7 483.5,688.8 485.1,688.8 485.1,684.9 486.7,684.9 486.7,677.2 488.2,677.2 488.2,693.3 489.8,693.3 489.8,695.7 491.3,695.7 491.3,674.7 492.9,674.7 492.9,699.5 494.4,699.5 494.4,686.7 496.0,686.7 496.0,692.0 497.5,692.0 497.5,688.9 499.1,688.9 499.1,692.1 500.6,692.1 500.6,752.0 499.1,752.0 499.1,759.5 497.5,759.5 497.5,766.2 496.0,766.2 496.0,747.9 494.4,747.9 494.4,761.0 492.9,761.0 492.9,769.0 491.3,769.0 491.3,749.1 489.8,749.1 489.8,749.5 488.2,749.5 488.2,746.2 486.7,746.2 486.7,744.0 485.1,744.0 485.1,765.6 483.5,765.6 483.5,754.3 482.0,754.3 482.0,754.6 480.4,754.6 480.4,751.5 478.9,751.5 478.9,765.9 477.3,765.9 477.3,751.4 475.8,751.4 475.8,751.2 474.2,751.2 474.2,768.1 472.7,768.1 472.7,752.3 471.1,752.3 471.1,756.0 469.6,756.0 469.6,761.3 468.0,761.3 468.0,755.1 466.5,755.1 466.5,749.5 464.9,749.5 464.9,762.9 463.4,762.9 463.4,765.4 461.8,765.4 461.8,762.4 460.3,762.4 460.3,746.2 458.7,746.2 458.7,757.9 457.1,757.9 457.1,760.2 455.6,760.2 455.6,757.0 454.0,757.0 454.0,774.2 452.5,774.2 452.5,750.4 450.9,750.4 450.9,752.0 449.4,752.0 449.4,761.3 447.8,761.3 447.8,756.6 446.3,756.6 446.3,748.5 444.7,748.5 444.7,751.2 443.2,751.2 443.2,743.5 441.6,743.5 441.6,749.8 440.1,749.8 440.1,768.4 438.5,768.4 438.5,750.7 437.0,750.7 437.0,737.9 435.4,737.9 435.4,757.5 433.9,757.5 433.9,740.6 432.3,740.6 432.3,763.8 430.7,763.8 430.7,757.1 429.2,757.1 429.2,756.9 427.6,756.9 427.6,764.2 426.1,764.2 426.1,760.6 424.5,760.6 424.5,768.0 423.0,768.0 423.0,777.4 421.4,777.4 421.4,763.5 419.9,763.5 419.9,756.1 418.3,756.1 418.3,756.2 416.8,756.2 416.8,761.8 415.2,761.8 415.2,758.6 413.7,758.6 413.7,748.1 412.1,748.1 412.1,756.2 410.6,756.2 410.6,757.9 409.0,757.9 409.0,764.2 407.4,764.2 407.4,746.6 405.9,746.6 405.9,763.6 404.3,763.6 404.3,754.5 402.8,754.5 402.8,765.3 401.2,765.3 401.2,764.1 399.7,764.1 399.7,756.9 398.1,756.9 398.1,751.5 396.6,751.5 396.6,760.8 395.0,760.8 395.0,742.5 393.5,742.5 393.5,752.4 391.9,752.4 391.9,770.3 390.4,770.3 390.4,747.4 388.8,747.4 388.8,749.3 387.3,749.3 387.3,742.5 385.7,742.5 385.7,756.8 384.2,756.8 384.2,756.2 382.6,756.2 382.6,750.8 381.0,750.8 381.0,743.1 379.5,743.1 379.5,747.5 377.9,747.5 377.9,759.2 376.4,759.2 376.4,775.7 374.8,775.7 374.8,760.3 373.3,760.3 373.3,757.0 371.7,757.0 371.7,752.6 370.2,752.6 370.2,750.5 368.6,750.5 368.6,756.4 367.1,756.4 367.1,760.4 365.5,760.4 365.5,751.7 364.0,751.7 364.0,746.2 362.4,746.2 362.4,770.0 360.9,770.0 360.9,741.3 359.3,741.3 359.3,759.2 357.8,759.2 357.8,745.1 356.2,745.1 356.2,770.7 354.6,770.7 354.6,750.4 353.1,750.4 353.1,747.0 351.5,747.0 351.5,749.2 350.0,749.2 350.0,746.8 348.4,746.8 348.4,745.4 346.9,745.4 346.9,764.8 345.3,764.8 345.3,763.1 343.8,763.1 343.8,762.0 342.2,762.0 342.2,759.3 340.7,759.3 340.7,768.1 339.1,768.1 339.1,762.5 337.6,762.5 337.6,756.6 336.0,756.6 336.0,755.6 334.5,755.6 334.5,758.8 332.9,758.8 332.9,755.3 331.4,755.3 331.4,780.1 329.8,780.1 329.8,746.2 328.2,746.2 328.2,774.5 326.7,774.5 326.7,754.4 325.1,754.4 325.1,752.8 323.6,752.8 323.6,763.9 322.0,763.9 322.0,757.8 320.5,757.8 320.5,752.9 318.9,752.9 318.9,751.3 317.4,751.3 317.4,742.6 315.8,742.6 315.8,753.9 314.3,753.9 314.3,759.3 312.7,759.3 312.7,756.5 311.2,756.5 311.2,762.3 309.6,762.3 309.6,749.0 308.1,749.0 308.1,758.9 306.5,758.9 306.5,742.8 304.9,742.8 304.9,758.2 303.4,758.2 303.4,760.8 301.8,760.8 301.8,748.0 300.3,748.0 300.3,765.6 298.7,765.6 298.7,750.3 297.2,750.3 297.2,740.0 295.6,740.0 295.6,762.6 294.1,762.6 294.1,752.9 292.5,752.9 292.5,764.3 291.0,764.3 291.0,740.7 289.4,740.7 289.4,775.1 287.9,775.1 287.9,759.5 286.3,759.5 286.3,751.0 284.8,751.0 284.8,746.7 283.2,746.7 283.2,762.0 281.7,762.0 281.7,772.2 280.1,772.2 280.1,749.1 278.5,749.1 278.5,755.9 277.0,755.9 277.0,752.0 275.4,752.0 275.4,760.3 273.9,760.3 273.9,748.9 272.3,748.9 272.3,765.2 270.8,765.2 270.8,755.8 269.2,755.8 269.2,732.6 267.7,732.6 267.7,741.2 266.1,741.2 266.1,763.6 264.6,763.6 264.6,759.8 263.0,759.8 263.0,760.7 261.5,760.7 261.5,749.3 259.9,749.3 259.9,744.0 258.4,744.0 258.4,757.5 256.8,757.5 256.8,750.4 255.3,750.4 255.3,766.7 253.7,766.7 253.7,753.6 252.1,753.6 252.1,739.9 250.6,739.9 250.6,746.6 249.0,746.6 249.0,754.4 247.5,754.4 247.5,770.6 245.9,770.6 245.9,765.7 244.4,765.7 244.4,756.3 242.8,756.3 242.8,752.9 241.3,752.9 241.3,754.6 239.7,754.6 239.7,752.2 238.2,752.2 238.2,746.5 236.6,746.5 236.6,756.5 235.1,756.5 235.1,752.5 233.5,752.5 233.5,750.6 232.0,750.6 232.0,755.1 230.4,755.1 230.4,758.5 228.9,758.5 228.9,754.9 227.3,754.9 227.3,758.6 225.7,758.6 225.7,754.3 224.2,754.3 224.2,776.8 222.6,776.8 222.6,756.4 221.1,756.4 221.1,761.4 219.5,761.4 219.5,776.5 218.0,776.5 218.0,757.3 216.4,757.3 216.4,771.4 214.9,771.4 214.9,752.4 213.3,752.4 213.3,755.3 211.8,755.3 211.8,760.5 210.2,760.5 210.2,754.6 208.7,754.6 208.7,752.1 207.1,752.1 207.1,747.5 205.6,747.5 205.6,741.8 204.0,741.8 204.0,764.7 202.5,764.7 202.5,753.2 200.9,753.2 200.9,750.7 199.3,750.7 199.3,763.8 197.8,763.8 197.8,750.9 196.2,750.9 196.2,755.2 194.7,755.2 194.7,773.3 193.1,773.3 193.1,754.5 191.6,754.5 191.6,754.4 190.0,754.4 190.0,753.1 188.5,753.1 188.5,758.2 186.9,758.2 186.9,767.8 185.4,767.8 185.4,762.3 183.8,762.3 183.8,756.7 182.3,756.7 182.3,754.9 180.7,754.9 180.7,758.9 179.2,758.9 179.2,764.7 177.6,764.7 177.6,761.1 176.0,761.1 176.0,773.4 174.5,773.4 174.5,758.8 172.9,758.8 172.9,749.6 171.4,749.6 171.4,764.6 169.8,764.6 169.8,752.9 168.3,752.9 168.3,747.5 166.7,747.5 166.7,784.2 165.2,784.2 165.2,752.3 163.6,752.3 163.6,751.6 162.1,751.6 162.1,759.6 160.5,759.6 160.5,759.1 159.0,759.1 159.0,776.7 157.4,776.7 157.4,762.0 155.9,762.0 155.9,748.7 154.3,748.7 154.3,747.2 152.8,747.2 152.8,757.6 151.2,757.6 151.2,749.0 149.6,749.0 149.6,775.7 148.1,775.7 148.1,752.1 146.5,752.1 146.5,763.3 145.0,763.3 145.0,764.5 143.4,764.5 143.4,773.2 141.9,773.2 141.9,749.1 140.3,749.1 140.3,751.0 138.8,751.0 138.8,742.9 137.2,742.9 137.2,755.2 135.7,755.2 135.7,743.7 134.1,743.7 134.1,744.8 132.6,744.8 132.6,772.0 131.0,772.0 131.0,758.5 129.5,758.5 129.5,753.9 127.9,753.9 127.9,758.5 126.4,758.5 126.4,770.6 124.8,770.6 124.8,747.9 123.2,747.9 123.2,745.5 121.7,745.5 121.7,754.8 120.1,754.8 120.1,747.1 118.6,747.1 118.6,760.3 117.0,760.3 117.0,755.7 115.5,755.7 115.5,791.0 113.9,791.0 113.9,765.1 112.4,765.1 112.4,750.8 110.8,750.8 110.8,757.8 109.3,757.8" fill="#2ca02c" stroke="#2ca02c" stroke-width="1.4" stroke-linejoin="round"/>
<polygon clip-path="url(#cp12)" points="620.8,708.6 622.3,708.6 622.3,658.3 623.9,658.3 623.9,712.8 625.4,712.8 625.4,714.8 627.0,714.8 627.0,694.5 628.5,694.5 628.5,706.6 630.1,706.6 630.1,712.3 631.6,712.3 631.6,708.0 633.2,708.0 633.2,703.8 634.7,703.8 634.7,697.2 636.2,697.2 636.2,709.0 637.8,709.0 637.8,717.8 639.3,717.8 639.3,699.4 640.9,699.4 640.9,694.2 642.4,694.2 642.4,704.8 644.0,704.8 644.0,691.3 645.5,691.3 645.5,709.0 647.1,709.0 647.1,696.6 648.6,696.6 648.6,688.8 650.2,688.8 650.2,672.7 651.7,672.7 651.7,680.4 653.3,680.4 653.3,715.5 654.8,715.5 654.8,695.0 656.4,695.0 656.4,692.8 657.9,692.8 657.9,714.2 659.5,714.2 659.5,678.7 661.0,678.7 661.0,684.4 662.6,684.4 662.6,700.8 664.1,700.8 664.1,678.8 665.7,678.8 665.7,680.9 667.2,680.9 667.2,706.5 668.7,706.5 668.7,700.7 670.3,700.7 670.3,704.9 671.8,704.9 671.8,701.4 673.4,701.4 673.4,694.4 674.9,694.4 674.9,695.8 676.5,695.8 676.5,709.7 678.0,709.7 678.0,705.4 679.6,705.4 679.6,719.6 681.1,719.6 681.1,711.6 682.7,711.6 682.7,698.3 684.2,698.3 684.2,707.0 685.8,707.0 685.8,666.9 687.3,666.9 687.3,703.0 688.9,703.0 688.9,691.2 690.4,691.2 690.4,702.1 692.0,702.1 692.0,694.8 693.5,694.8 693.5,716.4 695.1,716.4 695.1,684.6 696.6,684.6 696.6,701.9 698.2,701.9 698.2,706.3 699.7,706.3 699.7,699.5 701.2,699.5 701.2,687.7 702.8,687.7 702.8,683.6 704.3,683.6 704.3,717.4 705.9,717.4 705.9,661.0 707.4,661.0 707.4,716.3 709.0,716.3 709.0,709.8 710.5,709.8 710.5,704.8 712.1,704.8 712.1,691.2 713.6,691.2 713.6,710.1 715.2,710.1 715.2,685.6 716.7,685.6 716.7,697.4 718.3,697.4 718.3,712.9 719.8,712.9 719.8,705.0 721.4,705.0 721.4,722.5 722.9,722.5 722.9,680.4 724.5,680.4 724.5,699.4 726.0,699.4 726.0,704.9 727.6,704.9 727.6,692.3 729.1,692.3 729.1,695.9 730.7,695.9 730.7,701.6 732.2,701.6 732.2,682.5 733.7,682.5 733.7,717.8 735.3,717.8 735.3,715.8 736.8,715.8 736.8,676.1 738.4,676.1 738.4,713.0 739.9,713.0 739.9,699.0 741.5,699.0 741.5,716.6 743.0,716.6 743.0,694.3 744.6,694.3 744.6,661.6 746.1,661.6 746.1,702.6 747.7,702.6 747.7,707.3 749.2,707.3 749.2,706.6 750.8,706.6 750.8,691.3 752.3,691.3 752.3,696.8 753.9,696.8 753.9,705.9 755.4,705.9 755.4,695.5 757.0,695.5 757.0,691.0 758.5,691.0 758.5,691.1 760.1,691.1 760.1,706.4 761.6,706.4 761.6,676.1 763.2,676.1 763.2,696.7 764.7,696.7 764.7,692.1 766.3,692.1 766.3,715.2 767.8,715.2 767.8,681.3 769.3,681.3 769.3,699.0 770.9,699.0 770.9,688.8 772.4,688.8 772.4,714.3 774.0,714.3 774.0,695.5 775.5,695.5 775.5,694.8 777.1,694.8 777.1,696.4 778.6,696.4 778.6,702.3 780.2,702.3 780.2,680.6 781.7,680.6 781.7,712.9 783.3,712.9 783.3,714.8 784.8,714.8 784.8,674.6 786.4,674.6 786.4,688.8 787.9,688.8 787.9,690.5 789.5,690.5 789.5,710.6 791.0,710.6 791.0,694.1 792.6,694.1 792.6,709.6 794.1,709.6 794.1,667.5 795.7,667.5 795.7,702.1 797.2,702.1 797.2,696.8 798.8,696.8 798.8,680.1 800.3,680.1 800.3,706.4 801.8,706.4 801.8,681.5 803.4,681.5 803.4,705.1 804.9,705.1 804.9,694.8 806.5,694.8 806.5,672.6 808.0,672.6 808.0,699.8 809.6,699.8 809.6,713.1 811.1,713.1 811.1,712.1 812.7,712.1 812.7,685.0 814.2,685.0 814.2,668.5 815.8,668.5 815.8,678.5 817.3,678.5 817.3,708.7 818.9,708.7 818.9,704.8 820.4,704.8 820.4,704.5 822.0,704.5 822.0,703.2 823.5,703.2 823.5,698.4 825.1,698.4 825.1,716.1 826.6,716.1 826.6,698.9 828.2,698.9 828.2,696.5 829.7,696.5 829.7,691.8 831.3,691.8 831.3,717.3 832.8,717.3 832.8,703.0 834.3,703.0 834.3,702.5 835.9,702.5 835.9,698.1 837.4,698.1 837.4,685.2 839.0,685.2 839.0,670.3 840.5,670.3 840.5,712.6 842.1,712.6 842.1,708.6 843.6,708.6 843.6,681.4 845.2,681.4 845.2,692.2 846.7,692.2 846.7,716.6 848.3,716.6 848.3,703.1 849.8,703.1 849.8,684.9 851.4,684.9 851.4,708.8 852.9,708.8 852.9,698.5 854.5,698.5 854.5,711.4 856.0,711.4 856.0,698.0 857.6,698.0 857.6,709.0 859.1,709.0 859.1,702.7 860.7,702.7 860.7,711.5 862.2,711.5 862.2,715.4 863.8,715.4 863.8,709.3 865.3,709.3 865.3,712.3 866.8,712.3 866.8,693.6 868.4,693.6 868.4,666.9 869.9,666.9 869.9,700.5 871.5,700.5 871.5,702.7 873.0,702.7 873.0,698.8 874.6,698.8 874.6,706.7 876.1,706.7 876.1,677.9 877.7,677.9 877.7,702.6 879.2,702.6 879.2,695.1 880.8,695.1 880.8,688.1 882.3,688.1 882.3,708.1 883.9,708.1 883.9,720.5 885.4,720.5 885.4,706.3 887.0,706.3 887.0,699.9 888.5,699.9 888.5,694.4 890.1,694.4 890.1,696.6 891.6,696.6 891.6,682.4 893.2,682.4 893.2,698.4 894.7,698.4 894.7,701.8 896.3,701.8 896.3,694.0 897.8,694.0 897.8,686.2 899.4,686.2 899.4,702.4 900.9,702.4 900.9,707.7 902.4,707.7 902.4,709.9 904.0,709.9 904.0,697.4 905.5,697.4 905.5,704.2 907.1,704.2 907.1,702.3 908.6,702.3 908.6,682.6 910.2,682.6 910.2,683.0 911.7,683.0 911.7,702.6 913.3,702.6 913.3,695.8 914.8,695.8 914.8,716.4 916.4,716.4 916.4,714.7 917.9,714.7 917.9,709.2 919.5,709.2 919.5,683.6 921.0,683.6 921.0,716.2 922.6,716.2 922.6,713.2 924.1,713.2 924.1,706.0 925.7,706.0 925.7,695.1 927.2,695.1 927.2,677.1 928.8,677.1 928.8,692.6 930.3,692.6 930.3,693.7 931.9,693.7 931.9,715.3 933.4,715.3 933.4,708.2 934.9,708.2 934.9,707.0 936.5,707.0 936.5,709.5 938.0,709.5 938.0,718.0 939.6,718.0 939.6,709.6 941.1,709.6 941.1,694.7 942.7,694.7 942.7,700.0 944.2,700.0 944.2,707.6 945.8,707.6 945.8,713.5 947.3,713.5 947.3,695.7 948.9,695.7 948.9,713.2 950.4,713.2 950.4,675.3 952.0,675.3 952.0,684.2 953.5,684.2 953.5,700.8 955.1,700.8 955.1,686.8 956.6,686.8 956.6,699.0 958.2,699.0 958.2,702.9 959.7,702.9 959.7,698.8 961.3,698.8 961.3,696.9 962.8,696.9 962.8,704.7 964.4,704.7 964.4,721.7 965.9,721.7 965.9,714.2 967.4,714.2 967.4,704.4 969.0,704.4 969.0,688.6 970.5,688.6 970.5,711.3 972.1,711.3 972.1,698.7 973.6,698.7 973.6,708.2 975.2,708.2 975.2,716.3 976.7,716.3 976.7,707.7 978.3,707.7 978.3,709.2 979.8,709.2 979.8,701.6 981.4,701.6 981.4,712.1 982.9,712.1 982.9,689.4 984.5,689.4 984.5,711.0 986.0,711.0 986.0,716.5 987.6,716.5 987.6,696.9 989.1,696.9 989.1,699.5 990.7,699.5 990.7,682.0 992.2,682.0 992.2,694.2 993.8,694.2 993.8,697.6 995.3,697.6 995.3,697.0 996.9,697.0 996.9,705.2 998.4,705.2 998.4,703.8 999.9,703.8 999.9,705.2 1001.5,705.2 1001.5,688.0 1003.0,688.0 1003.0,688.5 1004.6,688.5 1004.6,696.5 1006.1,696.5 1006.1,685.5 1007.7,685.5 1007.7,697.9 1009.2,697.9 1009.2,687.8 1010.8,687.8 1010.8,706.8 1012.3,706.8 1012.3,750.6 1010.8,750.6 1010.8,777.2 1009.2,777.2 1009.2,785.7 1007.7,785.7 1007.7,767.5 1006.1,767.5 1006.1,759.3 1004.6,759.3 1004.6,775.8 1003.0,775.8 1003.0,765.9 1001.5,765.9 1001.5,761.1 999.9,761.1 999.9,755.7 998.4,755.7 998.4,776.6 996.9,776.6 996.9,782.3 995.3,782.3 995.3,773.7 993.8,773.7 993.8,755.3 992.2,755.3 992.2,735.8 990.7,735.8 990.7,757.2 989.1,757.2 989.1,772.6 987.6,772.6 987.6,759.2 986.0,759.2 986.0,756.5 984.5,756.5 984.5,783.5 982.9,783.5 982.9,771.7 981.4,771.7 981.4,758.2 979.8,758.2 979.8,780.0 978.3,780.0 978.3,761.3 976.7,761.3 976.7,772.5 975.2,772.5 975.2,779.0 973.6,779.0 973.6,760.0 972.1,760.0 972.1,764.3 970.5,764.3 970.5,757.4 969.0,757.4 969.0,780.9 967.4,780.9 967.4,764.8 965.9,764.8 965.9,768.8 964.4,768.8 964.4,774.6 962.8,774.6 962.8,771.0 961.3,771.0 961.3,762.6 959.7,762.6 959.7,774.4 958.2,774.4 958.2,748.6 956.6,748.6 956.6,773.1 955.1,773.1 955.1,771.7 953.5,771.7 953.5,778.2 952.0,778.2 952.0,761.9 950.4,761.9 950.4,767.1 948.9,767.1 948.9,772.2 947.3,772.2 947.3,752.7 945.8,752.7 945.8,766.1 944.2,766.1 944.2,765.4 942.7,765.4 942.7,763.4 941.1,763.4 941.1,777.2 939.6,777.2 939.6,769.6 938.0,769.6 938.0,767.4 936.5,767.4 936.5,752.5 934.9,752.5 934.9,784.9 933.4,784.9 933.4,772.7 931.9,772.7 931.9,771.9 930.3,771.9 930.3,754.2 928.8,754.2 928.8,780.3 927.2,780.3 927.2,765.8 925.7,765.8 925.7,763.1 924.1,763.1 924.1,774.7 922.6,774.7 922.6,779.7 921.0,779.7 921.0,771.4 919.5,771.4 919.5,757.7 917.9,757.7 917.9,767.6 916.4,767.6 916.4,776.8 914.8,776.8 914.8,766.9 913.3,766.9 913.3,759.1 911.7,759.1 911.7,762.9 910.2,762.9 910.2,767.6 908.6,767.6 908.6,773.2 907.1,773.2 907.1,760.2 905.5,760.2 905.5,767.6 904.0,767.6 904.0,781.0 902.4,781.0 902.4,764.1 900.9,764.1 900.9,769.4 899.4,769.4 899.4,779.0 897.8,779.0 897.8,762.1 896.3,762.1 896.3,755.1 894.7,755.1 894.7,773.2 893.2,773.2 893.2,770.2 891.6,770.2 891.6,750.5 890.1,750.5 890.1,776.6 888.5,776.6 888.5,788.9 887.0,788.9 887.0,772.3 885.4,772.3 885.4,757.1 883.9,757.1 883.9,766.5 882.3,766.5 882.3,750.7 880.8,750.7 880.8,765.1 879.2,765.1 879.2,757.8 877.7,757.8 877.7,772.8 876.1,772.8 876.1,787.7 874.6,787.7 874.6,748.0 873.0,748.0 873.0,761.0 871.5,761.0 871.5,772.8 869.9,772.8 869.9,757.7 868.4,757.7 868.4,768.4 866.8,768.4 866.8,762.5 865.3,762.5 865.3,756.9 863.8,756.9 863.8,769.7 862.2,769.7 862.2,781.1 860.7,781.1 860.7,768.5 859.1,768.5 859.1,771.8 857.6,771.8 857.6,766.6 856.0,766.6 856.0,766.0 854.5,766.0 854.5,752.6 852.9,752.6 852.9,776.0 851.4,776.0 851.4,755.8 849.8,755.8 849.8,772.5 848.3,772.5 848.3,772.4 846.7,772.4 846.7,762.6 845.2,762.6 845.2,774.7 843.6,774.7 843.6,768.4 842.1,768.4 842.1,776.7 840.5,776.7 840.5,765.6 839.0,765.6 839.0,774.3 837.4,774.3 837.4,784.1 835.9,784.1 835.9,765.3 834.3,765.3 834.3,763.4 832.8,763.4 832.8,774.7 831.3,774.7 831.3,771.7 829.7,771.7 829.7,739.8 828.2,739.8 828.2,758.1 826.6,758.1 826.6,775.0 825.1,775.0 825.1,759.5 823.5,759.5 823.5,771.6 822.0,771.6 822.0,752.4 820.4,752.4 820.4,748.9 818.9,748.9 818.9,774.6 817.3,774.6 817.3,769.8 815.8,769.8 815.8,759.4 814.2,759.4 814.2,776.5 812.7,776.5 812.7,760.7 811.1,760.7 811.1,787.7 809.6,787.7 809.6,751.3 808.0,751.3 808.0,736.3 806.5,736.3 806.5,757.9 804.9,757.9 804.9,750.0 803.4,750.0 803.4,764.6 801.8,764.6 801.8,776.1 800.3,776.1 800.3,756.6 798.8,756.6 798.8,753.1 797.2,753.1 797.2,749.5 795.7,749.5 795.7,767.0 794.1,767.0 794.1,755.7 792.6,755.7 792.6,770.5 791.0,770.5 791.0,774.6 789.5,774.6 789.5,763.4 787.9,763.4 787.9,763.4 786.4,763.4 786.4,752.3 784.8,752.3 784.8,756.5 783.3,756.5 783.3,767.9 781.7,767.9 781.7,757.8 780.2,757.8 780.2,761.2 778.6,761.2 778.6,762.1 777.1,762.1 777.1,760.8 775.5,760.8 775.5,753.8 774.0,753.8 774.0,764.8 772.4,764.8 772.4,754.2 770.9,754.2 770.9,780.0 769.3,780.0 769.3,766.8 767.8,766.8 767.8,772.8 766.3,772.8 766.3,784.4 764.7,784.4 764.7,751.3 763.2,751.3 763.2,747.9 761.6,747.9 761.6,772.7 760.1,772.7 760.1,770.8 758.5,770.8 758.5,752.0 757.0,752.0 757.0,772.8 755.4,772.8 755.4,752.6 753.9,752.6 753.9,755.3 752.3,755.3 752.3,777.8 750.8,777.8 750.8,784.6 749.2,784.6 749.2,770.3 747.7,770.3 747.7,756.6 746.1,756.6 746.1,760.8 744.6,760.8 744.6,778.0 743.0,778.0 743.0,757.9 741.5,757.9 741.5,753.2 739.9,753.2 739.9,769.3 738.4,769.3 738.4,761.3 736.8,761.3 736.8,764.0 735.3,764.0 735.3,773.2 733.7,773.2 733.7,758.2 732.2,758.2 732.2,773.9 730.7,773.9 730.7,765.4 729.1,765.4 729.1,775.9 727.6,775.9 727.6,786.1 726.0,786.1 726.0,778.4 724.5,778.4 724.5,772.2 722.9,772.2 722.9,777.0 721.4,777.0 721.4,773.5 719.8,773.5 719.8,775.9 718.3,775.9 718.3,752.9 716.7,752.9 716.7,760.9 715.2,760.9 715.2,738.5 713.6,738.5 713.6,761.5 712.1,761.5 712.1,753.5 710.5,753.5 710.5,764.5 709.0,764.5 709.0,778.4 707.4,778.4 707.4,764.1 705.9,764.1 705.9,787.7 704.3,787.7 704.3,753.8 702.8,753.8 702.8,744.6 701.2,744.6 701.2,752.3 699.7,752.3 699.7,762.4 698.2,762.4 698.2,754.0 696.6,754.0 696.6,774.0 695.1,774.0 695.1,763.7 693.5,763.7 693.5,757.5 692.0,757.5 692.0,791.2 690.4,791.2 690.4,772.0 688.9,772.0 688.9,770.6 687.3,770.6 687.3,758.4 685.8,758.4 685.8,746.3 684.2,746.3 684.2,757.2 682.7,757.2 682.7,770.2 681.1,770.2 681.1,773.2 679.6,773.2 679.6,765.6 678.0,765.6 678.0,776.7 676.5,776.7 676.5,746.6 674.9,746.6 674.9,752.5 673.4,752.5 673.4,757.8 671.8,757.8 671.8,759.0 670.3,759.0 670.3,773.9 668.7,773.9 668.7,773.4 667.2,773.4 667.2,774.2 665.7,774.2 665.7,768.1 664.1,768.1 664.1,761.1 662.6,761.1 662.6,772.9 661.0,772.9 661.0,748.9 659.5,748.9 659.5,747.5 657.9,747.5 657.9,759.4 656.4,759.4 656.4,780.4 654.8,780.4 654.8,753.7 653.3,753.7 653.3,769.2 651.7,769.2 651.7,736.4 650.2,736.4 650.2,777.9 648.6,777.9 648.6,751.4 647.1,751.4 647.1,768.2 645.5,768.2 645.5,786.1 644.0,786.1 644.0,753.6 642.4,753.6 642.4,742.7 640.9,742.7 640.9,764.1 639.3,764.1 639.3,775.8 637.8,775.8 637.8,773.0 636.2,773.0 636.2,764.0 634.7,764.0 634.7,774.3 633.2,774.3 633.2,787.1 631.6,787.1 631.6,767.1 630.1,767.1 630.1,764.4 628.5,764.4 628.5,767.9 627.0,767.9 627.0,776.0 625.4,776.0 625.4,768.6 623.9,768.6 623.9,749.8 622.3,749.8 622.3,776.2 620.8,776.2" fill="#2ca02c" stroke="#2ca02c" stroke-width="1.4" stroke-linejoin="round"/>
<polygon clip-path="url(#cp22)" points="1132.6,700.9 1134.1,700.9 1134.1,739.9 1135.7,739.9 1135.7,713.9 1137.2,713.9 1137.2,700.2 1138.8,700.2 1138.8,717.1 1140.3,717.1 1140.3,721.9 1141.9,721.9 1141.9,716.6 1143.4,716.6 1143.4,671.1 1145.0,671.1 1145.0,704.7 1146.5,704.7 1146.5,721.1 1148.1,721.1 1148.1,709.0 1149.6,709.0 1149.6,701.4 1151.1,701.4 1151.1,722.8 1152.7,722.8 1152.7,744.4 1154.2,744.4 1154.2,733.7 1155.8,733.7 1155.8,675.1 1157.3,675.1 1157.3,713.6 1158.9,713.6 1158.9,737.3 1160.4,737.3 1160.4,697.0 1162.0,697.0 1162.0,750.5 1163.5,750.5 1163.5,713.7 1165.1,713.7 1165.1,734.4 1166.6,734.4 1166.6,690.2 1168.2,690.2 1168.2,727.7 1169.7,727.7 1169.7,740.9 1171.3,740.9 1171.3,739.5 1172.8,739.5 1172.8,706.4 1174.4,706.4 1174.4,726.7 1175.9,726.7 1175.9,716.8 1177.5,716.8 1177.5,705.1 1179.0,705.1 1179.0,706.2 1180.6,706.2 1180.6,705.2 1182.1,705.2 1182.1,728.3 1183.7,728.3 1183.7,730.0 1185.2,730.0 1185.2,736.1 1186.8,736.1 1186.8,743.0 1188.3,743.0 1188.3,698.9 1189.8,698.9 1189.8,718.9 1191.4,718.9 1191.4,707.1 1192.9,707.1 1192.9,711.0 1194.5,711.0 1194.5,730.2 1196.0,730.2 1196.0,741.1 1197.6,741.1 1197.6,727.9 1199.1,727.9 1199.1,711.8 1200.7,711.8 1200.7,708.7 1202.2,708.7 1202.2,654.1 1203.8,654.1 1203.8,730.4 1205.3,730.4 1205.3,721.3 1206.9,721.3 1206.9,703.8 1208.4,703.8 1208.4,734.0 1210.0,734.0 1210.0,724.2 1211.5,724.2 1211.5,735.0 1213.1,735.0 1213.1,744.7 1214.6,744.7 1214.6,735.3 1216.2,735.3 1216.2,668.8 1217.7,668.8 1217.7,721.5 1219.3,721.5 1219.3,695.1 1220.8,695.1 1220.8,720.5 1222.4,720.5 1222.4,735.2 1223.9,735.2 1223.9,725.2 1225.5,725.2 1225.5,747.9 1227.0,747.9 1227.0,726.2 1228.5,726.2 1228.5,734.8 1230.1,734.8 1230.1,700.2 1231.6,700.2 1231.6,707.1 1233.2,707.1 1233.2,698.0 1234.7,698.0 1234.7,708.8 1236.3,708.8 1236.3,693.9 1237.8,693.9 1237.8,673.8 1239.4,673.8 1239.4,701.6 1240.9,701.6 1240.9,721.3 1242.5,721.3 1242.5,704.6 1244.0,704.6 1244.0,729.3 1245.6,729.3 1245.6,707.3 1247.1,707.3 1247.1,722.5 1248.7,722.5 1248.7,724.7 1250.2,724.7 1250.2,713.3 1251.8,713.3 1251.8,734.5 1253.3,734.5 1253.3,732.2 1254.9,732.2 1254.9,696.6 1256.4,696.6 1256.4,727.1 1258.0,727.1 1258.0,731.8 1259.5,731.8 1259.5,711.8 1261.1,711.8 1261.1,678.6 1262.6,678.6 1262.6,697.8 1264.2,697.8 1264.2,734.0 1265.7,734.0 1265.7,736.7 1267.3,736.7 1267.3,707.4 1268.8,707.4 1268.8,737.2 1270.3,737.2 1270.3,711.9 1271.9,711.9 1271.9,707.5 1273.4,707.5 1273.4,740.9 1275.0,740.9 1275.0,737.8 1276.5,737.8 1276.5,679.1 1278.1,679.1 1278.1,706.1 1279.6,706.1 1279.6,717.8 1281.2,717.8 1281.2,692.3 1282.7,692.3 1282.7,733.2 1284.3,733.2 1284.3,721.8 1285.8,721.8 1285.8,733.6 1287.4,733.6 1287.4,727.0 1288.9,727.0 1288.9,725.8 1290.5,725.8 1290.5,723.8 1292.0,723.8 1292.0,730.3 1293.6,730.3 1293.6,715.7 1295.1,715.7 1295.1,731.9 1296.7,731.9 1296.7,736.1 1298.2,736.1 1298.2,722.7 1299.8,722.7 1299.8,721.6 1301.3,721.6 1301.3,703.4 1302.9,703.4 1302.9,710.5 1304.4,710.5 1304.4,732.6 1306.0,732.6 1306.0,716.8 1307.5,716.8 1307.5,739.6 1309.0,739.6 1309.0,736.7 1310.6,736.7 1310.6,730.5 1312.1,730.5 1312.1,700.2 1313.7,700.2 1313.7,720.1 1315.2,720.1 1315.2,739.6 1316.8,739.6 1316.8,729.9 1318.3,729.9 1318.3,751.1 1319.9,751.1 1319.9,737.1 1321.4,737.1 1321.4,667.2 1323.0,667.2 1323.0,726.5 1324.5,726.5 1324.5,700.6 1326.1,700.6 1326.1,728.0 1327.6,728.0 1327.6,713.5 1329.2,713.5 1329.2,704.7 1330.7,704.7 1330.7,740.1 1332.3,740.1 1332.3,736.3 1333.8,736.3 1333.8,709.7 1335.4,709.7 1335.4,728.2 1336.9,728.2 1336.9,703.4 1338.5,703.4 1338.5,730.2 1340.0,730.2 1340.0,748.8 1341.6,748.8 1341.6,710.8 1343.1,710.8 1343.1,702.9 1344.7,702.9 1344.7,723.2 1346.2,723.2 1346.2,719.1 1347.8,719.1 1347.8,679.5 1349.3,679.5 1349.3,703.3 1350.8,703.3 1350.8,719.8 1352.4,719.8 1352.4,698.9 1353.9,698.9 1353.9,714.9 1355.5,714.9 1355.5,704.0 1357.0,704.0 1357.0,722.2 1358.6,722.2 1358.6,706.8 1360.1,706.8 1360.1,707.7 1361.7,707.7 1361.7,733.2 1363.2,733.2 1363.2,701.1 1364.8,701.1 1364.8,735.2 1366.3,735.2 1366.3,720.2 1367.9,720.2 1367.9,718.2 1369.4,718.2 1369.4,709.4 1371.0,709.4 1371.0,714.4 1372.5,714.4 1372.5,688.7 1374.1,688.7 1374.1,713.1 1375.6,713.1 1375.6,731.6 1377.2,731.6 1377.2,725.2 1378.7,725.2 1378.7,714.4 1380.3,714.4 1380.3,729.8 1381.8,729.8 1381.8,705.7 1383.4,705.7 1383.4,726.2 1384.9,726.2 1384.9,742.1 1386.5,742.1 1386.5,668.1 1388.0,668.1 1388.0,707.3 1389.5,707.3 1389.5,729.8 1391.1,729.8 1391.1,719.4 1392.6,719.4 1392.6,737.2 1394.2,737.2 1394.2,718.3 1395.7,718.3 1395.7,731.6 1397.3,731.6 1397.3,708.9 1398.8,708.9 1398.8,664.6 1400.4,664.6 1400.4,698.2 1401.9,698.2 1401.9,737.6 1403.5,737.6 1403.5,709.9 1405.0,709.9 1405.0,706.4 1406.6,706.4 1406.6,733.5 1408.1,733.5 1408.1,723.6 1409.7,723.6 1409.7,693.6 1411.2,693.6 1411.2,712.5 1412.8,712.5 1412.8,721.0 1414.3,721.0 1414.3,689.0 1415.9,689.0 1415.9,715.2 1417.4,715.2 1417.4,727.0 1419.0,727.0 1419.0,705.1 1420.5,705.1 1420.5,716.6 1422.1,716.6 1422.1,722.0 1423.6,722.0 1423.6,727.7 1425.2,727.7 1425.2,717.8 1426.7,717.8 1426.7,699.8 1428.3,699.8 1428.3,715.4 1429.8,715.4 1429.8,729.3 1431.3,729.3 1431.3,710.6 1432.9,710.6 1432.9,692.0 1434.4,692.0 1434.4,704.4 1436.0,704.4 1436.0,724.8 1437.5,724.8 1437.5,719.6 1439.1,719.6 1439.1,690.3 1440.6,690.3 1440.6,735.2 1442.2,735.2 1442.2,708.4 1443.7,708.4 1443.7,706.3 1445.3,706.3 1445.3,678.1 1446.8,678.1 1446.8,737.5 1448.4,737.5 1448.4,718.5 1449.9,718.5 1449.9,711.7 1451.5,711.7 1451.5,699.1 1453.0,699.1 1453.0,721.5 1454.6,721.5 1454.6,720.4 1456.1,720.4 1456.1,719.2 1457.7,719.2 1457.7,735.5 1459.2,735.5 1459.2,708.1 1460.8,708.1 1460.8,718.3 1462.3,718.3 1462.3,724.3 1463.9,724.3 1463.9,695.9 1465.4,695.9 1465.4,709.8 1467.0,709.8 1467.0,705.8 1468.5,705.8 1468.5,739.7 1470.0,739.7 1470.0,704.2 1471.6,704.2 1471.6,724.2 1473.1,724.2 1473.1,709.4 1474.7,709.4 1474.7,701.6 1476.2,701.6 1476.2,713.3 1477.8,713.3 1477.8,720.5 1479.3,720.5 1479.3,689.5 1480.9,689.5 1480.9,730.7 1482.4,730.7 1482.4,720.7 1484.0,720.7 1484.0,726.6 1485.5,726.6 1485.5,694.1 1487.1,694.1 1487.1,707.1 1488.6,707.1 1488.6,725.6 1490.2,725.6 1490.2,692.6 1491.7,692.6 1491.7,730.1 1493.3,730.1 1493.3,709.6 1494.8,709.6 1494.8,682.5 1496.4,682.5 1496.4,732.0 1497.9,732.0 1497.9,729.8 1499.5,729.8 1499.5,707.0 1501.0,707.0 1501.0,729.6 1502.6,729.6 1502.6,751.1 1504.1,751.1 1504.1,733.1 1505.7,733.1 1505.7,706.2 1507.2,706.2 1507.2,685.1 1508.7,685.1 1508.7,698.4 1510.3,698.4 1510.3,732.7 1511.8,732.7 1511.8,725.6 1513.4,725.6 1513.4,718.8 1514.9,718.8 1514.9,702.9 1516.5,702.9 1516.5,727.4 1518.0,727.4 1518.0,716.9 1519.6,716.9 1519.6,676.6 1521.1,676.6 1521.1,697.4 1522.7,697.4 1522.7,739.2 1524.2,739.2 1524.2,769.6 1522.7,769.6 1522.7,779.0 1521.1,779.0 1521.1,774.3 1519.6,774.3 1519.6,780.0 1518.0,780.0 1518.0,776.0 1516.5,776.0 1516.5,778.6 1514.9,778.6 1514.9,779.0 1513.4,779.0 1513.4,770.7 1511.8,770.7 1511.8,771.6 1510.3,771.6 1510.3,771.5 1508.7,771.5 1508.7,775.4 1507.2,775.4 1507.2,775.5 1505.7,775.5 1505.7,776.5 1504.1,776.5 1504.1,782.6 1502.6,782.6 1502.6,773.1 1501.0,773.1 1501.0,775.1 1499.5,775.1 1499.5,765.7 1497.9,765.7 1497.9,768.1 1496.4,768.1 1496.4,778.5 1494.8,778.5 1494.8,767.7 1493.3,767.7 1493.3,773.1 1491.7,773.1 1491.7,769.2 1490.2,769.2 1490.2,769.4 1488.6,769.4 1488.6,763.7 1487.1,763.7 1487.1,769.1 1485.5,769.1 1485.5,774.9 1484.0,774.9 1484.0,767.6 1482.4,767.6 1482.4,778.2 1480.9,778.2 1480.9,770.9 1479.3,770.9 1479.3,766.8 1477.8,766.8 1477.8,760.9 1476.2,760.9 1476.2,772.8 1474.7,772.8 1474.7,776.0 1473.1,776.0 1473.1,774.4 1471.6,774.4 1471.6,772.0 1470.0,772.0 1470.0,774.8 1468.5,774.8 1468.5,779.1 1467.0,779.1 1467.0,775.1 1465.4,775.1 1465.4,780.2 1463.9,780.2 1463.9,784.3 1462.3,784.3 1462.3,766.0 1460.8,766.0 1460.8,775.9 1459.2,775.9 1459.2,766.8 1457.7,766.8 1457.7,769.9 1456.1,769.9 1456.1,774.1 1454.6,774.1 1454.6,776.2 1453.0,776.2 1453.0,767.8 1451.5,767.8 1451.5,763.7 1449.9,763.7 1449.9,769.2 1448.4,769.2 1448.4,770.3 1446.8,770.3 1446.8,769.5 1445.3,769.5 1445.3,766.2 1443.7,766.2 1443.7,775.9 1442.2,775.9 1442.2,776.7 1440.6,776.7 1440.6,783.4 1439.1,783.4 1439.1,775.8 1437.5,775.8 1437.5,770.8 1436.0,770.8 1436.0,767.3 1434.4,767.3 1434.4,766.3 1432.9,766.3 1432.9,780.5 1431.3,780.5 1431.3,768.4 1429.8,768.4 1429.8,765.8 1428.3,765.8 1428.3,763.9 1426.7,763.9 1426.7,776.2 1425.2,776.2 1425.2,772.4 1423.6,772.4 1423.6,781.0 1422.1,781.0 1422.1,780.9 1420.5,780.9 1420.5,773.4 1419.0,773.4 1419.0,771.0 1417.4,771.0 1417.4,774.6 1415.9,774.6 1415.9,768.1 1414.3,768.1 1414.3,770.3 1412.8,770.3 1412.8,772.7 1411.2,772.7 1411.2,780.0 1409.7,780.0 1409.7,776.4 1408.1,776.4 1408.1,773.5 1406.6,773.5 1406.6,774.7 1405.0,774.7 1405.0,781.4 1403.5,781.4 1403.5,774.9 1401.9,774.9 1401.9,776.1 1400.4,776.1 1400.4,774.4 1398.8,774.4 1398.8,770.2 1397.3,770.2 1397.3,762.3 1395.7,762.3 1395.7,769.7 1394.2,769.7 1394.2,779.0 1392.6,779.0 1392.6,775.4 1391.1,775.4 1391.1,771.9 1389.5,771.9 1389.5,782.5 1388.0,782.5 1388.0,770.9 1386.5,770.9 1386.5,773.7 1384.9,773.7 1384.9,771.9 1383.4,771.9 1383.4,773.8 1381.8,773.8 1381.8,786.8 1380.3,786.8 1380.3,776.7 1378.7,776.7 1378.7,766.8 1377.2,766.8 1377.2,769.1 1375.6,769.1 1375.6,766.0 1374.1,766.0 1374.1,768.3 1372.5,768.3 1372.5,771.7 1371.0,771.7 1371.0,770.0 1369.4,770.0 1369.4,775.8 1367.9,775.8 1367.9,767.9 1366.3,767.9 1366.3,773.6 1364.8,773.6 1364.8,767.9 1363.2,767.9 1363.2,780.6 1361.7,780.6 1361.7,772.4 1360.1,772.4 1360.1,765.0 1358.6,765.0 1358.6,776.6 1357.0,776.6 1357.0,781.5 1355.5,781.5 1355.5,768.8 1353.9,768.8 1353.9,767.2 1352.4,767.2 1352.4,785.0 1350.8,785.0 1350.8,779.7 1349.3,779.7 1349.3,774.5 1347.8,774.5 1347.8,773.2 1346.2,773.2 1346.2,771.6 1344.7,771.6 1344.7,765.1 1343.1,765.1 1343.1,775.8 1341.6,775.8 1341.6,774.9 1340.0,774.9 1340.0,774.6 1338.5,774.6 1338.5,764.8 1336.9,764.8 1336.9,774.1 1335.4,774.1 1335.4,772.5 1333.8,772.5 1333.8,770.6 1332.3,770.6 1332.3,771.4 1330.7,771.4 1330.7,768.2 1329.2,768.2 1329.2,782.5 1327.6,782.5 1327.6,786.0 1326.1,786.0 1326.1,780.5 1324.5,780.5 1324.5,768.1 1323.0,768.1 1323.0,767.1 1321.4,767.1 1321.4,773.1 1319.9,773.1 1319.9,785.2 1318.3,785.2 1318.3,776.1 1316.8,776.1 1316.8,770.0 1315.2,770.0 1315.2,780.4 1313.7,780.4 1313.7,770.8 1312.1,770.8 1312.1,781.3 1310.6,781.3 1310.6,775.1 1309.0,775.1 1309.0,771.8 1307.5,771.8 1307.5,786.2 1306.0,786.2 1306.0,769.1 1304.4,769.1 1304.4,777.0 1302.9,777.0 1302.9,768.8 1301.3,768.8 1301.3,779.3 1299.8,779.3 1299.8,776.9 1298.2,776.9 1298.2,783.7 1296.7,783.7 1296.7,765.9 1295.1,765.9 1295.1,765.9 1293.6,765.9 1293.6,781.0 1292.0,781.0 1292.0,772.2 1290.5,772.2 1290.5,775.5 1288.9,775.5 1288.9,775.3 1287.4,775.3 1287.4,775.4 1285.8,775.4 1285.8,765.8 1284.3,765.8 1284.3,779.1 1282.7,779.1 1282.7,774.8 1281.2,774.8 1281.2,781.1 1279.6,781.1 1279.6,765.9 1278.1,765.9 1278.1,777.4 1276.5,777.4 1276.5,775.3 1275.0,775.3 1275.0,783.4 1273.4,783.4 1273.4,771.2 1271.9,771.2 1271.9,777.9 1270.3,777.9 1270.3,776.5 1268.8,776.5 1268.8,774.3 1267.3,774.3 1267.3,770.5 1265.7,770.5 1265.7,775.5 1264.2,775.5 1264.2,776.4 1262.6,776.4 1262.6,770.5 1261.1,770.5 1261.1,769.4 1259.5,769.4 1259.5,772.2 1258.0,772.2 1258.0,787.9 1256.4,787.9 1256.4,775.3 1254.9,775.3 1254.9,763.4 1253.3,763.4 1253.3,772.2 1251.8,772.2 1251.8,765.7 1250.2,765.7 1250.2,783.7 1248.7,783.7 1248.7,765.3 1247.1,765.3 1247.1,763.6 1245.6,763.6 1245.6,781.3 1244.0,781.3 1244.0,774.3 1242.5,774.3 1242.5,775.0 1240.9,775.0 1240.9,776.5 1239.4,776.5 1239.4,770.8 1237.8,770.8 1237.8,773.9 1236.3,773.9 1236.3,781.4 1234.7,781.4 1234.7,761.4 1233.2,761.4 1233.2,769.4 1231.6,769.4 1231.6,766.7 1230.1,766.7 1230.1,774.5 1228.5,774.5 1228.5,779.1 1227.0,779.1 1227.0,767.6 1225.5,767.6 1225.5,776.6 1223.9,776.6 1223.9,770.5 1222.4,770.5 1222.4,769.5 1220.8,769.5 1220.8,765.6 1219.3,765.6 1219.3,787.8 1217.7,787.8 1217.7,764.1 1216.2,764.1 1216.2,780.1 1214.6,780.1 1214.6,778.3 1213.1,778.3 1213.1,773.5 1211.5,773.5 1211.5,770.3 1210.0,770.3 1210.0,772.6 1208.4,772.6 1208.4,779.3 1206.9,779.3 1206.9,765.2 1205.3,765.2 1205.3,776.2 1203.8,776.2 1203.8,773.0 1202.2,773.0 1202.2,777.0 1200.7,777.0 1200.7,771.7 1199.1,771.7 1199.1,786.9 1197.6,786.9 1197.6,770.7 1196.0,770.7 1196.0,775.2 1194.5,775.2 1194.5,768.5 1192.9,768.5 1192.9,762.9 1191.4,762.9 1191.4,771.4 1189.8,771.4 1189.8,767.6 1188.3,767.6 1188.3,775.2 1186.8,775.2 1186.8,775.9 1185.2,775.9 1185.2,772.0 1183.7,772.0 1183.7,770.5 1182.1,770.5 1182.1,773.0 1180.6,773.0 1180.6,772.0 1179.0,772.0 1179.0,780.8 1177.5,780.8 1177.5,782.9 1175.9,782.9 1175.9,772.4 1174.4,772.4 1174.4,780.2 1172.8,780.2 1172.8,781.8 1171.3,781.8 1171.3,765.2 1169.7,765.2 1169.7,776.4 1168.2,776.4 1168.2,775.6 1166.6,775.6 1166.6,765.8 1165.1,765.8 1165.1,781.6 1163.5,781.6 1163.5,784.4 1162.0,784.4 1162.0,778.1 1160.4,778.1 1160.4,774.3 1158.9,774.3 1158.9,769.2 1157.3,769.2 1157.3,776.4 1155.8,776.4 1155.8,772.2 1154.2,772.2 1154.2,776.1 1152.7,776.1 1152.7,774.3 1151.1,774.3 1151.1,764.3 1149.6,764.3 1149.6,768.5 1148.1,768.5 1148.1,774.5 1146.5,774.5 1146.5,770.6 1145.0,770.6 1145.0,770.3 1143.4,770.3 1143.4,766.3 1141.9,766.3 1141.9,769.6 1140.3,769.6 1140.3,775.5 1138.8,775.5 1138.8,765.4 1137.2,765.4 1137.2,767.0 1135.7,767.0 1135.7,788.6 1134.1,788.6 1134.1,769.1 1132.6,769.1" fill="#2ca02c" stroke="#2ca02c" stroke-width="1.4" stroke-linejoin="round"/>
<polygon clip-path="url(#cp03)" points="109.3,910.1 110.8,910.1 110.8,903.9 112.4,903.9 112.4,895.5 113.9,895.5 113.9,907.9 115.5,907.9 115.5,905.7 117.0,905.7 117.0,884.5 118.6,884.5 118.6,898.6 120.1,898.6 120.1,911.2 121.7,911.2 121.7,902.0 123.2,902.0 123.2,909.3 124.8,909.3 124.8,902.6 126.4,902.6 126.4,882.1 127.9,882.1 127.9,906.2 129.5,906.2 129.5,909.4 131.0,909.4 131.0,900.2 132.6,900.2 132.6,882.1 134.1,882.1 134.1,901.5 135.7,901.5 135.7,913.5 137.2,913.5 137.2,895.5 138.8,895.5 138.8,907.5 140.3,907.5 140.3,889.9 141.9,889.9 141.9,917.7 143.4,917.7 143.4,912.6 145.0,912.6 145.0,914.7 146.5,914.7 146.5,901.0 148.1,901.0 148.1,910.2 149.6,910.2 149.6,906.2 151.2,906.2 151.2,902.8 152.8,902.8 152.8,923.3 154.3,923.3 154.3,912.8 155.9,912.8 155.9,905.9 157.4,905.9 157.4,875.1 159.0,875.1 159.0,907.5 160.5,907.5 160.5,912.0 162.1,912.0 162.1,914.2 163.6,914.2 163.6,894.2 165.2,894.2 165.2,901.2 166.7,901.2 166.7,914.4 168.3,914.4 168.3,893.4 169.8,893.4 169.8,906.2 171.4,906.2 171.4,916.7 172.9,916.7 172.9,905.4 174.5,905.4 174.5,909.5 176.0,909.5 176.0,915.8 177.6,915.8 177.6,906.2 179.2,906.2 179.2,929.3 180.7,929.3 180.7,897.4 182.3,897.4 182.3,900.2 183.8,900.2 183.8,912.5 185.4,912.5 185.4,901.4 186.9,901.4 186.9,906.9 188.5,906.9 188.5,899.0 190.0,899.0 190.0,887.3 191.6,887.3 191.6,907.2 193.1,907.2 193.1,884.5 194.7,884.5 194.7,891.2 196.2,891.2 196.2,900.4 197.8,900.4 197.8,889.5 199.3,889.5 199.3,919.9 200.9,919.9 200.9,897.2 202.5,897.2 202.5,901.5 204.0,901.5 204.0,906.8 205.6,906.8 205.6,902.6 207.1,902.6 207.1,908.4 208.7,908.4 208.7,900.7 210.2,900.7 210.2,911.7 211.8,911.7 211.8,914.3 213.3,914.3 213.3,891.9 214.9,891.9 214.9,897.6 216.4,897.6 216.4,907.4 218.0,907.4 218.0,916.9 219.5,916.9 219.5,911.9 221.1,911.9 221.1,903.6 222.6,903.6 222.6,919.0 224.2,919.0 224.2,910.9 225.7,910.9 225.7,900.4 227.3,900.4 227.3,915.3 228.9,915.3 228.9,905.4 230.4,905.4 230.4,916.9 232.0,916.9 232.0,896.6 233.5,896.6 233.5,888.8 235.1,888.8 235.1,906.5 236.6,906.5 236.6,896.2 238.2,896.2 238.2,897.4 239.7,897.4 239.7,915.1 241.3,915.1 241.3,906.8 242.8,906.8 242.8,898.0 244.4,898.0 244.4,884.5 245.9,884.5 245.9,898.1 247.5,898.1 247.5,905.2 249.0,905.2 249.0,917.7 250.6,917.7 250.6,906.5 252.1,906.5 252.1,887.8 253.7,887.8 253.7,906.3 255.3,906.3 255.3,911.3 256.8,911.3 256.8,908.3 258.4,908.3 258.4,901.9 259.9,901.9 259.9,910.0 261.5,910.0 261.5,910.0 263.0,910.0 263.0,898.1 264.6,898.1 264.6,907.2 266.1,907.2 266.1,901.7 267.7,901.7 267.7,919.3 269.2,919.3 269.2,907.6 270.8,907.6 270.8,906.6 272.3,906.6 272.3,901.6 273.9,901.6 273.9,908.9 275.4,908.9 275.4,920.1 277.0,920.1 277.0,893.9 278.5,893.9 278.5,902.6 280.1,902.6 280.1,902.7 281.7,902.7 281.7,886.1 283.2,886.1 283.2,906.6 284.8,906.6 284.8,904.8 286.3,904.8 286.3,900.0 287.9,900.0 287.9,908.8 289.4,908.8 289.4,906.9 291.0,906.9 291.0,917.8 292.5,917.8 292.5,889.7 294.1,889.7 294.1,909.5 295.6,909.5 295.6,899.9 297.2,899.9 297.2,901.9 298.7,901.9 298.7,906.3 300.3,906.3 300.3,905.2 301.8,905.2 301.8,916.3 303.4,916.3 303.4,912.8 304.9,912.8 304.9,908.7 306.5,908.7 306.5,899.2 308.1,899.2 308.1,898.1 309.6,898.1 309.6,894.9 311.2,894.9 311.2,886.7 312.7,886.7 312.7,904.7 314.3,904.7 314.3,906.2 315.8,906.2 315.8,902.7 317.4,902.7 317.4,902.9 318.9,902.9 318.9,902.9 320.5,902.9 320.5,907.2 322.0,907.2 322.0,893.9 323.6,893.9 323.6,886.5 325.1,886.5 325.1,924.9 326.7,924.9 326.7,931.0 328.2,931.0 328.2,912.5 329.8,912.5 329.8,888.7 331.4,888.7 331.4,912.1 332.9,912.1 332.9,913.7 334.5,913.7 334.5,906.1 336.0,906.1 336.0,908.5 337.6,908.5 337.6,911.0 339.1,911.0 339.1,894.0 340.7,894.0 340.7,911.5 342.2,911.5 342.2,909.6 343.8,909.6 343.8,914.1 345.3,914.1 345.3,901.0 346.9,901.0 346.9,911.4 348.4,911.4 348.4,905.0 350.0,905.0 350.0,911.0 351.5,911.0 351.5,901.2 353.1,901.2 353.1,921.2 354.6,921.2 354.6,905.5 356.2,905.5 356.2,901.6 357.8,901.6 357.8,919.8 359.3,919.8 359.3,913.2 360.9,913.2 360.9,890.8 362.4,890.8 362.4,902.4 364.0,902.4 364.0,905.7 365.5,905.7 365.5,903.4 367.1,903.4 367.1,913.3 368.6,913.3 368.6,887.6 370.2,887.6 370.2,914.1 371.7,914.1 371.7,912.4 373.3,912.4 373.3,906.2 374.8,906.2 374.8,897.3 376.4,897.3 376.4,915.3 377.9,915.3 377.9,900.2 379.5,900.2 379.5,905.2 381.0,905.2 381.0,901.8 382.6,901.8 382.6,903.9 384.2,903.9 384.2,914.0 385.7,914.0 385.7,898.5 387.3,898.5 387.3,900.9 388.8,900.9 388.8,913.7 390.4,913.7 390.4,894.6 391.9,894.6 391.9,906.9 393.5,906.9 393.5,896.8 395.0,896.8 395.0,910.7 396.6,910.7 396.6,895.9 398.1,895.9 398.1,892.0 399.7,892.0 399.7,901.1 401.2,901.1 401.2,922.0 402.8,922.0 402.8,912.4 404.3,912.4 404.3,910.8 405.9,910.8 405.9,917.0 407.4,917.0 407.4,917.4 409.0,917.4 409.0,901.3 410.6,901.3 410.6,887.1 412.1,887.1 412.1,899.6 413.7,899.6 413.7,910.5 415.2,910.5 415.2,908.0 416.8,908.0 416.8,914.6 418.3,914.6 418.3,899.4 419.9,899.4 419.9,900.9 421.4,900.9 421.4,902.9 423.0,902.9 423.0,893.4 424.5,893.4 424.5,900.8 426.1,900.8 426.1,904.9 427.6,904.9 427.6,898.0 429.2,898.0 429.2,907.8 430.7,907.8 430.7,909.2 432.3,909.2 432.3,895.8 433.9,895.8 433.9,894.7 435.4,894.7 435.4,919.0 437.0,919.0 437.0,896.7 438.5,896.7 438.5,909.4 440.1,909.4 440.1,906.1 441.6,906.1 441.6,907.6 443.2,907.6 443.2,909.2 444.7,909.2 444.7,901.0 446.3,901.0 446.3,907.5 447.8,907.5 447.8,903.5 449.4,903.5 449.4,897.0 450.9,897.0 450.9,911.3 452.5,911.3 452.5,911.0 454.0,911.0 454.0,904.9 455.6,904.9 455.6,897.8 457.1,897.8 457.1,913.9 458.7,913.9 458.7,900.3 460.3,900.3 460.3,916.8 461.8,916.8 461.8,901.3 463.4,901.3 463.4,907.9 464.9,907.9 464.9,913.1 466.5,913.1 466.5,908.3 468.0,908.3 468.0,905.8 469.6,905.8 469.6,912.0 471.1,912.0 471.1,914.1 472.7,914.1 472.7,886.8 474.2,886.8 474.2,906.9 475.8,906.9 475.8,918.0 477.3,918.0 477.3,895.2 478.9,895.2 478.9,900.9 480.4,900.9 480.4,906.4 482.0,906.4 482.0,909.3 483.5,909.3 483.5,890.7 485.1,890.7 485.1,906.0 486.7,906.0 486.7,915.3 488.2,915.3 488.2,897.9 489.8,897.9 489.8,906.6 491.3,906.6 491.3,919.6 492.9,919.6 492.9,914.1 494.4,914.1 494.4,906.4 496.0,906.4 496.0,892.5 497.5,892.5 497.5,910.9 499.1,910.9 499.1,920.1 500.6,920.1 500.6,988.9 499.1,988.9 499.1,985.8 497.5,985.8 497.5,970.0 496.0,970.0 496.0,987.1 494.4,987.1 494.4,985.1 492.9,985.1 492.9,987.8 491.3,987.8 491.3,979.2 489.8,979.2 489.8,958.1 488.2,958.1 488.2,968.4 486.7,968.4 486.7,963.5 485.1,963.5 485.1,975.0 483.5,975.0 483.5,982.3 482.0,982.3 482.0,977.9 480.4,977.9 480.4,978.7 478.9,978.7 478.9,978.7 477.3,978.7 477.3,973.7 475.8,973.7 475.8,987.3 474.2,987.3 474.2,972.2 472.7,972.2 472.7,970.7 471.1,970.7 471.1,972.9 469.6,972.9 469.6,982.4 468.0,982.4 468.0,972.3 466.5,972.3 466.5,961.4 464.9,961.4 464.9,962.7 463.4,962.7 463.4,969.9 461.8,969.9 461.8,982.2 460.3,982.2 460.3,974.7 458.7,974.7 458.7,985.3 457.1,985.3 457.1,982.0 455.6,982.0 455.6,978.0 454.0,978.0 454.0,974.3 452.5,974.3 452.5,965.0 450.9,965.0 450.9,987.5 449.4,987.5 449.4,971.6 447.8,971.6 447.8,969.7 446.3,969.7 446.3,986.3 444.7,986.3 444.7,968.8 443.2,968.8 443.2,977.7 441.6,977.7 441.6,991.4 440.1,991.4 440.1,966.6 438.5,966.6 438.5,977.8 437.0,977.8 437.0,971.5 435.4,971.5 435.4,967.2 433.9,967.2 433.9,965.2 432.3,965.2 432.3,965.5 430.7,965.5 430.7,977.2 429.2,977.2 429.2,979.0 427.6,979.0 427.6,968.9 426.1,968.9 426.1,967.4 424.5,967.4 424.5,968.8 423.0,968.8 423.0,988.9 421.4,988.9 421.4,967.7 419.9,967.7 419.9,986.1 418.3,986.1 418.3,971.3 416.8,971.3 416.8,982.5 415.2,982.5 415.2,962.3 413.7,962.3 413.7,971.9 412.1,971.9 412.1,973.7 410.6,973.7 410.6,974.5 409.0,974.5 409.0,973.3 407.4,973.3 407.4,984.0 405.9,984.0 405.9,968.5 404.3,968.5 404.3,962.0 402.8,962.0 402.8,972.0 401.2,972.0 401.2,969.2 399.7,969.2 399.7,975.5 398.1,975.5 398.1,974.0 396.6,974.0 396.6,962.0 395.0,962.0 395.0,967.4 393.5,967.4 393.5,996.6 391.9,996.6 391.9,972.8 390.4,972.8 390.4,966.9 388.8,966.9 388.8,962.7 387.3,962.7 387.3,968.8 385.7,968.8 385.7,976.5 384.2,976.5 384.2,986.0 382.6,986.0 382.6,960.7 381.0,960.7 381.0,976.4 379.5,976.4 379.5,968.8 377.9,968.8 377.9,974.8 376.4,974.8 376.4,968.9 374.8,968.9 374.8,985.5 373.3,985.5 373.3,978.9 371.7,978.9 371.7,977.3 370.2,977.3 370.2,968.6 368.6,968.6 368.6,988.2 367.1,988.2 367.1,963.2 365.5,963.2 365.5,978.8 364.0,978.8 364.0,969.5 362.4,969.5 362.4,963.9 360.9,963.9 360.9,973.4 359.3,973.4 359.3,975.3 357.8,975.3 357.8,975.2 356.2,975.2 356.2,964.7 354.6,964.7 354.6,974.2 353.1,974.2 353.1,989.8 351.5,989.8 351.5,979.3 350.0,979.3 350.0,971.9 348.4,971.9 348.4,962.3 346.9,962.3 346.9,969.5 345.3,969.5 345.3,977.8 343.8,977.8 343.8,973.1 342.2,973.1 342.2,976.4 340.7,976.4 340.7,967.9 339.1,967.9 339.1,980.4 337.6,980.4 337.6,989.0 336.0,989.0 336.0,966.4 334.5,966.4 334.5,970.4 332.9,970.4 332.9,968.4 331.4,968.4 331.4,984.1 329.8,984.1 329.8,967.7 328.2,967.7 328.2,983.7 326.7,983.7 326.7,977.7 325.1,977.7 325.1,963.6 323.6,963.6 323.6,989.1 322.0,989.1 322.0,969.6 320.5,969.6 320.5,975.3 318.9,975.3 318.9,960.9 317.4,960.9 317.4,968.2 315.8,968.2 315.8,977.1 314.3,977.1 314.3,975.7 312.7,975.7 312.7,970.5 311.2,970.5 311.2,967.2 309.6,967.2 309.6,977.5 308.1,977.5 308.1,984.9 306.5,984.9 306.5,981.7 304.9,981.7 304.9,983.8 303.4,983.8 303.4,973.8 301.8,973.8 301.8,987.0 300.3,987.0 300.3,977.6 298.7,977.6 298.7,973.9 297.2,973.9 297.2,970.1 295.6,970.1 295.6,986.8 294.1,986.8 294.1,975.6 292.5,975.6 292.5,972.8 291.0,972.8 291.0,979.9 289.4,979.9 289.4,982.0 287.9,982.0 287.9,974.6 286.3,974.6 286.3,974.8 284.8,974.8 284.8,978.9 283.2,978.9 283.2,975.1 281.7,975.1 281.7,968.2 280.1,968.2 280.1,969.0 278.5,969.0 278.5,973.6 277.0,973.6 277.0,982.8 275.4,982.8 275.4,969.6 273.9,969.6 273.9,976.1 272.3,976.1 272.3,959.9 270.8,959.9 270.8,968.3 269.2,968.3 269.2,972.2 267.7,972.2 267.7,968.7 266.1,968.7 266.1,967.0 264.6,967.0 264.6,972.7 263.0,972.7 263.0,968.4 261.5,968.4 261.5,977.7 259.9,977.7 259.9,978.0 258.4,978.0 258.4,948.3 256.8,948.3 256.8,965.9 255.3,965.9 255.3,969.5 253.7,969.5 253.7,972.4 252.1,972.4 252.1,967.8 250.6,967.8 250.6,960.9 249.0,960.9 249.0,970.0 247.5,970.0 247.5,973.0 245.9,973.0 245.9,983.6 244.4,983.6 244.4,975.3 242.8,975.3 242.8,978.2 241.3,978.2 241.3,981.1 239.7,981.1 239.7,967.3 238.2,967.3 238.2,986.5 236.6,986.5 236.6,974.4 235.1,974.4 235.1,969.9 233.5,969.9 233.5,968.7 232.0,968.7 232.0,971.1 230.4,971.1 230.4,970.7 228.9,970.7 228.9,980.7 227.3,980.7 227.3,964.1 225.7,964.1 225.7,979.6 224.2,979.6 224.2,980.9 222.6,980.9 222.6,959.5 221.1,959.5 221.1,982.9 219.5,982.9 219.5,985.3 218.0,985.3 218.0,978.8 216.4,978.8 216.4,984.0 214.9,984.0 214.9,988.3 213.3,988.3 213.3,981.2 211.8,981.2 211.8,980.7 210.2,980.7 210.2,966.3 208.7,966.3 208.7,958.9 207.1,958.9 207.1,979.1 205.6,979.1 205.6,987.2 204.0,987.2 204.0,965.9 202.5,965.9 202.5,970.4 200.9,970.4 200.9,975.3 199.3,975.3 199.3,961.3 197.8,961.3 197.8,973.7 196.2,973.7 196.2,988.5 194.7,988.5 194.7,989.0 193.1,989.0 193.1,981.1 191.6,981.1 191.6,986.4 190.0,986.4 190.0,966.3 188.5,966.3 188.5,976.9 186.9,976.9 186.9,977.2 185.4,977.2 185.4,968.6 183.8,968.6 183.8,969.9 182.3,969.9 182.3,987.9 180.7,987.9 180.7,987.0 179.2,987.0 179.2,965.9 177.6,965.9 177.6,983.3 176.0,983.3 176.0,974.9 174.5,974.9 174.5,976.9 172.9,976.9 172.9,986.8 171.4,986.8 171.4,987.0 169.8,987.0 169.8,969.5 168.3,969.5 168.3,971.4 166.7,971.4 166.7,967.4 165.2,967.4 165.2,973.8 163.6,973.8 163.6,999.1 162.1,999.1 162.1,971.1 160.5,971.1 160.5,973.7 159.0,973.7 159.0,974.9 157.4,974.9 157.4,978.3 155.9,978.3 155.9,977.3 154.3,977.3 154.3,974.9 152.8,974.9 152.8,971.1 151.2,971.1 151.2,968.7 149.6,968.7 149.6,972.0 148.1,972.0 148.1,988.7 146.5,988.7 146.5,982.1 145.0,982.1 145.0,968.5 143.4,968.5 143.4,987.4 141.9,987.4 141.9,975.9 140.3,975.9 140.3,971.2 138.8,971.2 138.8,975.9 137.2,975.9 137.2,970.2 135.7,970.2 135.7,979.9 134.1,979.9 134.1,971.4 132.6,971.4 132.6,966.7 131.0,966.7 131.0,975.8 129.5,975.8 129.5,962.8 127.9,962.8 127.9,958.7 126.4,958.7 126.4,976.0 124.8,976.0 124.8,967.9 123.2,967.9 123.2,986.4 121.7,986.4 121.7,987.5 120.1,987.5 120.1,971.3 118.6,971.3 118.6,973.4 117.0,973.4 117.0,993.2 115.5,993.2 115.5,970.8 113.9,970.8 113.9,989.1 112.4,989.1 112.4,982.4 110.8,982.4 110.8,974.2 109.3,974.2" fill="#9467bd" stroke="#9467bd" stroke-width="1.4" stroke-linejoin="round"/>
<polygon clip-path="url(#cp13)" points="620.8,878.4 622.3,878.4 622.3,902.8 623.9,902.8 623.9,895.5 625.4,895.5 625.4,899.8 627.0,899.8 627.0,884.6 628.5,884.6 628.5,887.2 630.1,887.2 630.1,880.9 631.6,880.9 631.6,906.2 633.2,906.2 633.2,886.2 634.7,886.2 634.7,896.9 636.2,896.9 636.2,878.5 637.8,878.5 637.8,900.1 639.3,900.1 639.3,901.2 640.9,901.2 640.9,898.2 642.4,898.2 642.4,889.7 644.0,889.7 644.0,901.9 645.5,901.9 645.5,906.1 647.1,906.1 647.1,895.0 648.6,895.0 648.6,891.3 650.2,891.3 650.2,892.9 651.7,892.9 651.7,894.9 653.3,894.9 653.3,882.4 654.8,882.4 654.8,890.6 656.4,890.6 656.4,899.6 657.9,899.6 657.9,891.7 659.5,891.7 659.5,893.6 661.0,893.6 661.0,888.1 662.6,888.1 662.6,900.7 664.1,900.7 664.1,893.6 665.7,893.6 665.7,911.9 667.2,911.9 667.2,891.4 668.7,891.4 668.7,907.4 670.3,907.4 670.3,903.9 671.8,903.9 671.8,894.7 673.4,894.7 673.4,892.4 674.9,892.4 674.9,907.4 676.5,907.4 676.5,894.5 678.0,894.5 678.0,888.1 679.6,888.1 679.6,882.5 681.1,882.5 681.1,899.3 682.7,899.3 682.7,897.8 684.2,897.8 684.2,889.4 685.8,889.4 685.8,890.1 687.3,890.1 687.3,864.0 688.9,864.0 688.9,891.4 690.4,891.4 690.4,913.9 692.0,913.9 692.0,899.7 693.5,899.7 693.5,914.6 695.1,914.6 695.1,897.0 696.6,897.0 696.6,906.0 698.2,906.0 698.2,898.3 699.7,898.3 699.7,877.5 701.2,877.5 701.2,885.7 702.8,885.7 702.8,890.3 704.3,890.3 704.3,882.1 705.9,882.1 705.9,907.6 707.4,907.6 707.4,897.7 709.0,897.7 709.0,888.6 710.5,888.6 710.5,885.6 712.1,885.6 712.1,890.6 713.6,890.6 713.6,882.4 715.2,882.4 715.2,900.9 716.7,900.9 716.7,902.8 718.3,902.8 718.3,911.8 719.8,911.8 719.8,886.2 721.4,886.2 721.4,886.7 722.9,886.7 722.9,901.9 724.5,901.9 724.5,907.4 726.0,907.4 726.0,899.0 727.6,899.0 727.6,889.2 729.1,889.2 729.1,865.8 730.7,865.8 730.7,896.1 732.2,896.1 732.2,883.7 733.7,883.7 733.7,894.2 735.3,894.2 735.3,901.1 736.8,901.1 736.8,888.0 738.4,888.0 738.4,894.9 739.9,894.9 739.9,884.0 741.5,884.0 741.5,895.5 743.0,895.5 743.0,901.5 744.6,901.5 744.6,883.5 746.1,883.5 746.1,889.5 747.7,889.5 747.7,877.8 749.2,877.8 749.2,884.7 750.8,884.7 750.8,894.3 752.3,894.3 752.3,900.6 753.9,900.6 753.9,896.9 755.4,896.9 755.4,894.6 757.0,894.6 757.0,893.4 758.5,893.4 758.5,895.7 760.1,895.7 760.1,887.9 761.6,887.9 761.6,893.0 763.2,893.0 763.2,890.7 764.7,890.7 764.7,892.6 766.3,892.6 766.3,886.3 767.8,886.3 767.8,891.6 769.3,891.6 769.3,901.7 770.9,901.7 770.9,893.3 772.4,893.3 772.4,906.4 774.0,906.4 774.0,897.2 775.5,897.2 775.5,903.5 777.1,903.5 777.1,894.0 778.6,894.0 778.6,882.4 780.2,882.4 780.2,885.1 781.7,885.1 781.7,893.3 783.3,893.3 783.3,893.6 784.8,893.6 784.8,895.5 786.4,895.5 786.4,902.6 787.9,902.6 787.9,897.1 789.5,897.1 789.5,894.5 791.0,894.5 791.0,899.5 792.6,899.5 792.6,906.7 794.1,906.7 794.1,878.3 795.7,878.3 795.7,893.0 797.2,893.0 797.2,871.8 798.8,871.8 798.8,894.3 800.3,894.3 800.3,882.8 801.8,882.8 801.8,896.8 803.4,896.8 803.4,894.9 804.9,894.9 804.9,898.0 806.5,898.0 806.5,891.1 808.0,891.1 808.0,896.9 809.6,896.9 809.6,884.2 811.1,884.2 811.1,868.2 812.7,868.2 812.7,906.1 814.2,906.1 814.2,879.7 815.8,879.7 815.8,878.4 817.3,878.4 817.3,890.5 818.9,890.5 818.9,886.7 820.4,886.7 820.4,887.1 822.0,887.1 822.0,875.6 823.5,875.6 823.5,886.7 825.1,886.7 825.1,893.7 826.6,893.7 826.6,890.3 828.2,890.3 828.2,899.8 829.7,899.8 829.7,900.2 831.3,900.2 831.3,887.1 832.8,887.1 832.8,915.7 834.3,915.7 834.3,898.4 835.9,898.4 835.9,878.4 837.4,878.4 837.4,888.9 839.0,888.9 839.0,894.8 840.5,894.8 840.5,893.6 842.1,893.6 842.1,876.9 843.6,876.9 843.6,902.7 845.2,902.7 845.2,863.4 846.7,863.4 846.7,895.4 848.3,895.4 848.3,913.1 849.8,913.1 849.8,879.6 851.4,879.6 851.4,874.2 852.9,874.2 852.9,886.5 854.5,886.5 854.5,902.3 856.0,902.3 856.0,909.1 857.6,909.1 857.6,900.5 859.1,900.5 859.1,907.6 860.7,907.6 860.7,897.9 862.2,897.9 862.2,892.7 863.8,892.7 863.8,903.9 865.3,903.9 865.3,905.3 866.8,905.3 866.8,872.4 868.4,872.4 868.4,902.7 869.9,902.7 869.9,884.9 871.5,884.9 871.5,903.9 873.0,903.9 873.0,888.3 874.6,888.3 874.6,909.8 876.1,909.8 876.1,890.1 877.7,890.1 877.7,890.9 879.2,890.9 879.2,893.5 880.8,893.5 880.8,906.0 882.3,906.0 882.3,896.1 883.9,896.1 883.9,887.9 885.4,887.9 885.4,897.6 887.0,897.6 887.0,888.6 888.5,888.6 888.5,891.2 890.1,891.2 890.1,895.0 891.6,895.0 891.6,892.6 893.2,892.6 893.2,883.0 894.7,883.0 894.7,889.0 896.3,889.0 896.3,894.9 897.8,894.9 897.8,880.3 899.4,880.3 899.4,892.5 900.9,892.5 900.9,897.1 902.4,897.1 902.4,894.8 904.0,894.8 904.0,880.1 905.5,880.1 905.5,882.7 907.1,882.7 907.1,895.7 908.6,895.7 908.6,902.0 910.2,902.0 910.2,887.8 911.7,887.8 911.7,877.7 913.3,877.7 913.3,900.7 914.8,900.7 914.8,893.3 916.4,893.3 916.4,895.5 917.9,895.5 917.9,879.3 919.5,879.3 919.5,882.3 921.0,882.3 921.0,890.7 922.6,890.7 922.6,894.5 924.1,894.5 924.1,886.4 925.7,886.4 925.7,895.2 927.2,895.2 927.2,901.2 928.8,901.2 928.8,887.4 930.3,887.4 930.3,911.7 931.9,911.7 931.9,889.5 933.4,889.5 933.4,903.5 934.9,903.5 934.9,900.1 936.5,900.1 936.5,899.4 938.0,899.4 938.0,898.3 939.6,898.3 939.6,880.6 941.1,880.6 941.1,889.3 942.7,889.3 942.7,889.2 944.2,889.2 944.2,876.6 945.8,876.6 945.8,892.9 947.3,892.9 947.3,904.7 948.9,904.7 948.9,898.1 950.4,898.1 950.4,887.2 952.0,887.2 952.0,892.8 953.5,892.8 953.5,879.4 955.1,879.4 955.1,896.0 956.6,896.0 956.6,906.4 958.2,906.4 958.2,890.3 959.7,890.3 959.7,885.7 961.3,885.7 961.3,877.1 962.8,877.1 962.8,884.2 964.4,884.2 964.4,875.5 965.9,875.5 965.9,891.5 967.4,891.5 967.4,899.6 969.0,899.6 969.0,903.7 970.5,903.7 970.5,881.3 972.1,881.3 972.1,886.3 973.6,886.3 973.6,891.6 975.2,891.6 975.2,901.3 976.7,901.3 976.7,897.4 978.3,897.4 978.3,892.5 979.8,892.5 979.8,883.5 981.4,883.5 981.4,905.2 982.9,905.2 982.9,892.8 984.5,892.8 984.5,877.8 986.0,877.8 986.0,906.1 987.6,906.1 987.6,891.9 989.1,891.9 989.1,895.8 990.7,895.8 990.7,897.8 992.2,897.8 992.2,884.4 993.8,884.4 993.8,884.6 995.3,884.6 995.3,910.9 996.9,910.9 996.9,892.4 998.4,892.4 998.4,895.2 999.9,895.2 999.9,911.0 1001.5,911.0 1001.5,888.3 1003.0,888.3 1003.0,885.5 1004.6,885.5 1004.6,893.2 1006.1,893.2 1006.1,896.5 1007.7,896.5 1007.7,884.0 1009.2,884.0 1009.2,891.4 1010.8,891.4 1010.8,898.6 1012.3,898.6 1012.3,958.3 1010.8,958.3 1010.8,955.5 1009.2,955.5 1009.2,941.8 1007.7,941.8 1007.7,944.3 1006.1,944.3 1006.1,964.0 1004.6,964.0 1004.6,958.2 1003.0,958.2 1003.0,946.8 1001.5,946.8 1001.5,965.9 999.9,965.9 999.9,998.4 998.4,998.4 998.4,961.7 996.9,961.7 996.9,971.5 995.3,971.5 995.3,976.5 993.8,976.5 993.8,965.9 992.2,965.9 992.2,977.3 990.7,977.3 990.7,967.7 989.1,967.7 989.1,959.7 987.6,959.7 987.6,957.1 986.0,957.1 986.0,956.3 984.5,956.3 984.5,957.0 982.9,957.0 982.9,961.6 981.4,961.6 981.4,945.1 979.8,945.1 979.8,960.6 978.3,960.6 978.3,968.1 976.7,968.1 976.7,989.1 975.2,989.1 975.2,956.0 973.6,956.0 973.6,964.7 972.1,964.7 972.1,948.4 970.5,948.4 970.5,961.4 969.0,961.4 969.0,973.4 967.4,973.4 967.4,975.8 965.9,975.8 965.9,960.7 964.4,960.7 964.4,948.1 962.8,948.1 962.8,957.1 961.3,957.1 961.3,962.5 959.7,962.5 959.7,950.2 958.2,950.2 958.2,954.9 956.6,954.9 956.6,957.7 955.1,957.7 955.1,964.3 953.5,964.3 953.5,975.7 952.0,975.7 952.0,952.0 950.4,952.0 950.4,953.1 948.9,953.1 948.9,977.9 947.3,977.9 947.3,971.2 945.8,971.2 945.8,965.4 944.2,965.4 944.2,966.4 942.7,966.4 942.7,963.9 941.1,963.9 941.1,949.2 939.6,949.2 939.6,949.8 938.0,949.8 938.0,970.2 936.5,970.2 936.5,946.2 934.9,946.2 934.9,955.3 933.4,955.3 933.4,956.6 931.9,956.6 931.9,964.0 930.3,964.0 930.3,962.4 928.8,962.4 928.8,961.5 927.2,961.5 927.2,950.4 925.7,950.4 925.7,949.9 924.1,949.9 924.1,951.4 922.6,951.4 922.6,976.0 921.0,976.0 921.0,966.5 919.5,966.5 919.5,956.9 917.9,956.9 917.9,962.5 916.4,962.5 916.4,951.3 914.8,951.3 914.8,951.2 913.3,951.2 913.3,955.2 911.7,955.2 911.7,971.2 910.2,971.2 910.2,960.5 908.6,960.5 908.6,957.1 907.1,957.1 907.1,948.6 905.5,948.6 905.5,966.4 904.0,966.4 904.0,976.6 902.4,976.6 902.4,962.0 900.9,962.0 900.9,940.4 899.4,940.4 899.4,953.6 897.8,953.6 897.8,962.1 896.3,962.1 896.3,964.6 894.7,964.6 894.7,959.6 893.2,959.6 893.2,959.5 891.6,959.5 891.6,962.2 890.1,962.2 890.1,951.8 888.5,951.8 888.5,979.5 887.0,979.5 887.0,952.7 885.4,952.7 885.4,974.3 883.9,974.3 883.9,975.9 882.3,975.9 882.3,956.4 880.8,956.4 880.8,949.9 879.2,949.9 879.2,949.8 877.7,949.8 877.7,943.0 876.1,943.0 876.1,958.2 874.6,958.2 874.6,984.6 873.0,984.6 873.0,960.0 871.5,960.0 871.5,967.4 869.9,967.4 869.9,972.3 868.4,972.3 868.4,964.8 866.8,964.8 866.8,975.8 865.3,975.8 865.3,957.6 863.8,957.6 863.8,960.6 862.2,960.6 862.2,964.4 860.7,964.4 860.7,974.2 859.1,974.2 859.1,951.5 857.6,951.5 857.6,976.4 856.0,976.4 856.0,964.8 854.5,964.8 854.5,955.5 852.9,955.5 852.9,951.2 851.4,951.2 851.4,950.4 849.8,950.4 849.8,956.1 848.3,956.1 848.3,974.6 846.7,974.6 846.7,947.3 845.2,947.3 845.2,955.6 843.6,955.6 843.6,957.8 842.1,957.8 842.1,962.5 840.5,962.5 840.5,958.5 839.0,958.5 839.0,936.6 837.4,936.6 837.4,939.5 835.9,939.5 835.9,958.8 834.3,958.8 834.3,967.4 832.8,967.4 832.8,959.2 831.3,959.2 831.3,950.4 829.7,950.4 829.7,979.5 828.2,979.5 828.2,956.2 826.6,956.2 826.6,956.6 825.1,956.6 825.1,955.3 823.5,955.3 823.5,966.5 822.0,966.5 822.0,958.7 820.4,958.7 820.4,965.2 818.9,965.2 818.9,954.7 817.3,954.7 817.3,956.4 815.8,956.4 815.8,953.7 814.2,953.7 814.2,972.7 812.7,972.7 812.7,959.2 811.1,959.2 811.1,951.0 809.6,951.0 809.6,968.3 808.0,968.3 808.0,968.9 806.5,968.9 806.5,960.1 804.9,960.1 804.9,971.5 803.4,971.5 803.4,960.1 801.8,960.1 801.8,946.0 800.3,946.0 800.3,975.6 798.8,975.6 798.8,957.3 797.2,957.3 797.2,955.8 795.7,955.8 795.7,970.6 794.1,970.6 794.1,960.5 792.6,960.5 792.6,944.4 791.0,944.4 791.0,951.7 789.5,951.7 789.5,953.5 787.9,953.5 787.9,972.3 786.4,972.3 786.4,960.9 784.8,960.9 784.8,950.9 783.3,950.9 783.3,951.8 781.7,951.8 781.7,975.7 780.2,975.7 780.2,944.0 778.6,944.0 778.6,966.5 777.1,966.5 777.1,972.7 775.5,972.7 775.5,963.6 774.0,963.6 774.0,963.6 772.4,963.6 772.4,955.0 770.9,955.0 770.9,958.8 769.3,958.8 769.3,958.6 767.8,958.6 767.8,936.0 766.3,936.0 766.3,955.0 764.7,955.0 764.7,962.9 763.2,962.9 763.2,949.9 761.6,949.9 761.6,971.4 760.1,971.4 760.1,957.1 758.5,957.1 758.5,940.4 757.0,940.4 757.0,975.7 755.4,975.7 755.4,954.8 753.9,954.8 753.9,961.1 752.3,961.1 752.3,953.0 750.8,953.0 750.8,953.1 749.2,953.1 749.2,956.0 747.7,956.0 747.7,963.5 746.1,963.5 746.1,974.7 744.6,974.7 744.6,959.8 743.0,959.8 743.0,958.3 741.5,958.3 741.5,956.7 739.9,956.7 739.9,949.0 738.4,949.0 738.4,959.6 736.8,959.6 736.8,958.5 735.3,958.5 735.3,956.4 733.7,956.4 733.7,956.1 732.2,956.1 732.2,991.5 730.7,991.5 730.7,958.3 729.1,958.3 729.1,969.8 727.6,969.8 727.6,955.9 726.0,955.9 726.0,950.2 724.5,950.2 724.5,960.9 722.9,960.9 722.9,952.7 721.4,952.7 721.4,950.2 719.8,950.2 719.8,964.7 718.3,964.7 718.3,950.5 716.7,950.5 716.7,943.4 715.2,943.4 715.2,945.7 713.6,945.7 713.6,970.1 712.1,970.1 712.1,946.9 710.5,946.9 710.5,955.7 709.0,955.7 709.0,961.7 707.4,961.7 707.4,976.1 705.9,976.1 705.9,949.7 704.3,949.7 704.3,961.5 702.8,961.5 702.8,948.6 701.2,948.6 701.2,957.7 699.7,957.7 699.7,946.0 698.2,946.0 698.2,957.4 696.6,957.4 696.6,946.0 695.1,946.0 695.1,976.8 693.5,976.8 693.5,959.6 692.0,959.6 692.0,965.0 690.4,965.0 690.4,971.9 688.9,971.9 688.9,969.4 687.3,969.4 687.3,976.9 685.8,976.9 685.8,958.1 684.2,958.1 684.2,960.2 682.7,960.2 682.7,956.4 681.1,956.4 681.1,961.9 679.6,961.9 679.6,957.5 678.0,957.5 678.0,952.3 676.5,952.3 676.5,963.1 674.9,963.1 674.9,948.6 673.4,948.6 673.4,952.3 671.8,952.3 671.8,970.4 670.3,970.4 670.3,961.9 668.7,961.9 668.7,971.3 667.2,971.3 667.2,966.0 665.7,966.0 665.7,960.3 664.1,960.3 664.1,948.0 662.6,948.0 662.6,947.7 661.0,947.7 661.0,944.5 659.5,944.5 659.5,962.6 657.9,962.6 657.9,952.8 656.4,952.8 656.4,971.5 654.8,971.5 654.8,939.7 653.3,939.7 653.3,957.2 651.7,957.2 651.7,964.2 650.2,964.2 650.2,946.7 648.6,946.7 648.6,958.8 647.1,958.8 647.1,965.6 645.5,965.6 645.5,958.4 644.0,958.4 644.0,951.4 642.4,951.4 642.4,954.1 640.9,954.1 640.9,954.0 639.3,954.0 639.3,972.1 637.8,972.1 637.8,973.8 636.2,973.8 636.2,960.5 634.7,960.5 634.7,964.3 633.2,964.3 633.2,955.6 631.6,955.6 631.6,945.1 630.1,945.1 630.1,949.2 628.5,949.2 628.5,948.7 627.0,948.7 627.0,969.8 625.4,969.8 625.4,962.2 623.9,962.2 623.9,968.4 622.3,968.4 622.3,952.9 620.8,952.9" fill="#9467bd" stroke="#9467bd" stroke-width="1.4" stroke-linejoin="round"/>
<polygon clip-path="url(#cp23)" points="1132.6,908.0 1134.1,908.0 1134.1,894.6 1135.7,894.6 1135.7,904.0 1137.2,904.0 1137.2,892.7 1138.8,892.7 1138.8,917.0 1140.3,917.0 1140.3,916.1 1141.9,916.1 1141.9,922.4 1143.4,922.4 1143.4,912.2 1145.0,912.2 1145.0,902.4 1146.5,902.4 1146.5,906.1 1148.1,906.1 1148.1,894.4 1149.6,894.4 1149.6,889.2 1151.1,889.2 1151.1,912.6 1152.7,912.6 1152.7,912.3 1154.2,912.3 1154.2,912.0 1155.8,912.0 1155.8,914.2 1157.3,914.2 1157.3,899.7 1158.9,899.7 1158.9,907.4 1160.4,907.4 1160.4,916.3 1162.0,916.3 1162.0,901.6 1163.5,901.6 1163.5,908.5 1165.1,908.5 1165.1,924.4 1166.6,924.4 1166.6,888.8 1168.2,888.8 1168.2,911.2 1169.7,911.2 1169.7,902.7 1171.3,902.7 1171.3,923.6 1172.8,923.6 1172.8,919.0 1174.4,919.0 1174.4,916.0 1175.9,916.0 1175.9,907.7 1177.5,907.7 1177.5,900.7 1179.0,900.7 1179.0,893.9 1180.6,893.9 1180.6,900.4 1182.1,900.4 1182.1,895.7 1183.7,895.7 1183.7,913.4 1185.2,913.4 1185.2,910.0 1186.8,910.0 1186.8,902.0 1188.3,902.0 1188.3,912.7 1189.8,912.7 1189.8,908.9 1191.4,908.9 1191.4,906.9 1192.9,906.9 1192.9,907.0 1194.5,907.0 1194.5,905.1 1196.0,905.1 1196.0,908.3 1197.6,908.3 1197.6,887.7 1199.1,887.7 1199.1,894.5 1200.7,894.5 1200.7,894.2 1202.2,894.2 1202.2,900.5 1203.8,900.5 1203.8,904.6 1205.3,904.6 1205.3,889.2 1206.9,889.2 1206.9,920.6 1208.4,920.6 1208.4,905.1 1210.0,905.1 1210.0,920.1 1211.5,920.1 1211.5,912.0 1213.1,912.0 1213.1,917.2 1214.6,917.2 1214.6,900.6 1216.2,900.6 1216.2,914.6 1217.7,914.6 1217.7,885.2 1219.3,885.2 1219.3,903.0 1220.8,903.0 1220.8,905.9 1222.4,905.9 1222.4,915.9 1223.9,915.9 1223.9,903.7 1225.5,903.7 1225.5,919.3 1227.0,919.3 1227.0,920.8 1228.5,920.8 1228.5,919.8 1230.1,919.8 1230.1,898.2 1231.6,898.2 1231.6,915.9 1233.2,915.9 1233.2,916.7 1234.7,916.7 1234.7,905.7 1236.3,905.7 1236.3,914.4 1237.8,914.4 1237.8,908.9 1239.4,908.9 1239.4,896.0 1240.9,896.0 1240.9,905.4 1242.5,905.4 1242.5,878.8 1244.0,878.8 1244.0,908.3 1245.6,908.3 1245.6,911.2 1247.1,911.2 1247.1,908.0 1248.7,908.0 1248.7,902.3 1250.2,902.3 1250.2,915.3 1251.8,915.3 1251.8,909.3 1253.3,909.3 1253.3,904.5 1254.9,904.5 1254.9,908.6 1256.4,908.6 1256.4,884.7 1258.0,884.7 1258.0,908.8 1259.5,908.8 1259.5,911.8 1261.1,911.8 1261.1,909.2 1262.6,909.2 1262.6,915.4 1264.2,915.4 1264.2,906.0 1265.7,906.0 1265.7,912.2 1267.3,912.2 1267.3,888.5 1268.8,888.5 1268.8,924.4 1270.3,924.4 1270.3,909.6 1271.9,909.6 1271.9,893.8 1273.4,893.8 1273.4,919.4 1275.0,919.4 1275.0,905.4 1276.5,905.4 1276.5,911.6 1278.1,911.6 1278.1,931.0 1279.6,931.0 1279.6,914.0 1281.2,914.0 1281.2,906.6 1282.7,906.6 1282.7,908.1 1284.3,908.1 1284.3,904.6 1285.8,904.6 1285.8,903.8 1287.4,903.8 1287.4,895.0 1288.9,895.0 1288.9,902.6 1290.5,902.6 1290.5,921.8 1292.0,921.8 1292.0,887.2 1293.6,887.2 1293.6,915.6 1295.1,915.6 1295.1,914.5 1296.7,914.5 1296.7,905.8 1298.2,905.8 1298.2,894.0 1299.8,894.0 1299.8,910.1 1301.3,910.1 1301.3,915.3 1302.9,915.3 1302.9,924.1 1304.4,924.1 1304.4,903.1 1306.0,903.1 1306.0,894.9 1307.5,894.9 1307.5,905.9 1309.0,905.9 1309.0,908.3 1310.6,908.3 1310.6,888.0 1312.1,888.0 1312.1,921.3 1313.7,921.3 1313.7,913.4 1315.2,913.4 1315.2,895.8 1316.8,895.8 1316.8,904.7 1318.3,904.7 1318.3,900.2 1319.9,900.2 1319.9,899.1 1321.4,899.1 1321.4,911.7 1323.0,911.7 1323.0,910.3 1324.5,910.3 1324.5,893.9 1326.1,893.9 1326.1,913.9 1327.6,913.9 1327.6,911.4 1329.2,911.4 1329.2,913.5 1330.7,913.5 1330.7,902.4 1332.3,902.4 1332.3,911.9 1333.8,911.9 1333.8,897.5 1335.4,897.5 1335.4,913.3 1336.9,913.3 1336.9,906.7 1338.5,906.7 1338.5,907.7 1340.0,907.7 1340.0,882.7 1341.6,882.7 1341.6,918.5 1343.1,918.5 1343.1,912.7 1344.7,912.7 1344.7,896.7 1346.2,896.7 1346.2,908.4 1347.8,908.4 1347.8,921.9 1349.3,921.9 1349.3,926.2 1350.8,926.2 1350.8,905.2 1352.4,905.2 1352.4,901.8 1353.9,901.8 1353.9,904.2 1355.5,904.2 1355.5,910.5 1357.0,910.5 1357.0,919.0 1358.6,919.0 1358.6,891.2 1360.1,891.2 1360.1,909.8 1361.7,909.8 1361.7,916.2 1363.2,916.2 1363.2,912.2 1364.8,912.2 1364.8,911.4 1366.3,911.4 1366.3,903.2 1367.9,903.2 1367.9,888.8 1369.4,888.8 1369.4,912.6 1371.0,912.6 1371.0,892.9 1372.5,892.9 1372.5,903.3 1374.1,903.3 1374.1,907.3 1375.6,907.3 1375.6,911.4 1377.2,911.4 1377.2,888.1 1378.7,888.1 1378.7,898.5 1380.3,898.5 1380.3,897.0 1381.8,897.0 1381.8,891.6 1383.4,891.6 1383.4,910.0 1384.9,910.0 1384.9,883.0 1386.5,883.0 1386.5,908.1 1388.0,908.1 1388.0,922.6 1389.5,922.6 1389.5,916.6 1391.1,916.6 1391.1,914.4 1392.6,914.4 1392.6,908.8 1394.2,908.8 1394.2,881.4 1395.7,881.4 1395.7,890.8 1397.3,890.8 1397.3,913.3 1398.8,913.3 1398.8,882.7 1400.4,882.7 1400.4,909.9 1401.9,909.9 1401.9,905.2 1403.5,905.2 1403.5,903.2 1405.0,903.2 1405.0,908.6 1406.6,908.6 1406.6,899.1 1408.1,899.1 1408.1,908.3 1409.7,908.3 1409.7,910.7 1411.2,910.7 1411.2,924.3 1412.8,924.3 1412.8,905.7 1414.3,905.7 1414.3,888.0 1415.9,888.0 1415.9,899.4 1417.4,899.4 1417.4,920.0 1419.0,920.0 1419.0,907.7 1420.5,907.7 1420.5,906.7 1422.1,906.7 1422.1,892.5 1423.6,892.5 1423.6,909.6 1425.2,909.6 1425.2,914.7 1426.7,914.7 1426.7,908.6 1428.3,908.6 1428.3,904.3 1429.8,904.3 1429.8,908.6 1431.3,908.6 1431.3,901.0 1432.9,901.0 1432.9,891.1 1434.4,891.1 1434.4,911.7 1436.0,911.7 1436.0,919.8 1437.5,919.8 1437.5,911.0 1439.1,911.0 1439.1,901.2 1440.6,901.2 1440.6,903.8 1442.2,903.8 1442.2,900.3 1443.7,900.3 1443.7,908.1 1445.3,908.1 1445.3,911.6 1446.8,911.6 1446.8,916.6 1448.4,916.6 1448.4,898.1 1449.9,898.1 1449.9,914.3 1451.5,914.3 1451.5,913.8 1453.0,913.8 1453.0,898.8 1454.6,898.8 1454.6,900.1 1456.1,900.1 1456.1,899.2 1457.7,899.2 1457.7,895.3 1459.2,895.3 1459.2,888.6 1460.8,888.6 1460.8,908.0 1462.3,908.0 1462.3,915.2 1463.9,915.2 1463.9,898.4 1465.4,898.4 1465.4,905.6 1467.0,905.6 1467.0,912.3 1468.5,912.3 1468.5,904.8 1470.0,904.8 1470.0,914.5 1471.6,914.5 1471.6,904.2 1473.1,904.2 1473.1,906.6 1474.7,906.6 1474.7,917.1 1476.2,917.1 1476.2,906.4 1477.8,906.4 1477.8,890.3 1479.3,890.3 1479.3,891.9 1480.9,891.9 1480.9,902.9 1482.4,902.9 1482.4,921.8 1484.0,921.8 1484.0,896.4 1485.5,896.4 1485.5,908.7 1487.1,908.7 1487.1,880.4 1488.6,880.4 1488.6,894.2 1490.2,894.2 1490.2,904.9 1491.7,904.9 1491.7,917.6 1493.3,917.6 1493.3,905.5 1494.8,905.5 1494.8,910.5 1496.4,910.5 1496.4,906.7 1497.9,906.7 1497.9,908.0 1499.5,908.0 1499.5,904.0 1501.0,904.0 1501.0,895.2 1502.6,895.2 1502.6,885.2 1504.1,885.2 1504.1,902.5 1505.7,902.5 1505.7,893.5 1507.2,893.5 1507.2,893.5 1508.7,893.5 1508.7,903.8 1510.3,903.8 1510.3,873.4 1511.8,873.4 1511.8,900.9 1513.4,900.9 1513.4,920.5 1514.9,920.5 1514.9,905.7 1516.5,905.7 1516.5,900.9 1518.0,900.9 1518.0,918.8 1519.6,918.8 1519.6,925.2 1521.1,925.2 1521.1,907.1 1522.7,907.1 1522.7,905.8 1524.2,905.8 1524.2,970.5 1522.7,970.5 1522.7,979.4 1521.1,979.4 1521.1,971.0 1519.6,971.0 1519.6,963.6 1518.0,963.6 1518.0,969.7 1516.5,969.7 1516.5,974.7 1514.9,974.7 1514.9,973.0 1513.4,973.0 1513.4,954.4 1511.8,954.4 1511.8,970.0 1510.3,970.0 1510.3,972.8 1508.7,972.8 1508.7,951.1 1507.2,951.1 1507.2,978.2 1505.7,978.2 1505.7,982.5 1504.1,982.5 1504.1,963.3 1502.6,963.3 1502.6,965.5 1501.0,965.5 1501.0,971.3 1499.5,971.3 1499.5,962.6 1497.9,962.6 1497.9,982.8 1496.4,982.8 1496.4,970.0 1494.8,970.0 1494.8,959.3 1493.3,959.3 1493.3,973.5 1491.7,973.5 1491.7,965.3 1490.2,965.3 1490.2,965.0 1488.6,965.0 1488.6,957.7 1487.1,957.7 1487.1,969.9 1485.5,969.9 1485.5,976.1 1484.0,976.1 1484.0,981.6 1482.4,981.6 1482.4,958.4 1480.9,958.4 1480.9,965.2 1479.3,965.2 1479.3,971.4 1477.8,971.4 1477.8,986.5 1476.2,986.5 1476.2,976.8 1474.7,976.8 1474.7,983.8 1473.1,983.8 1473.1,980.1 1471.6,980.1 1471.6,970.3 1470.0,970.3 1470.0,955.0 1468.5,955.0 1468.5,969.0 1467.0,969.0 1467.0,981.0 1465.4,981.0 1465.4,967.0 1463.9,967.0 1463.9,974.7 1462.3,974.7 1462.3,965.2 1460.8,965.2 1460.8,961.5 1459.2,961.5 1459.2,968.3 1457.7,968.3 1457.7,981.6 1456.1,981.6 1456.1,971.9 1454.6,971.9 1454.6,969.5 1453.0,969.5 1453.0,977.7 1451.5,977.7 1451.5,972.3 1449.9,972.3 1449.9,962.6 1448.4,962.6 1448.4,963.1 1446.8,963.1 1446.8,962.8 1445.3,962.8 1445.3,975.1 1443.7,975.1 1443.7,951.1 1442.2,951.1 1442.2,976.5 1440.6,976.5 1440.6,957.8 1439.1,957.8 1439.1,968.3 1437.5,968.3 1437.5,976.3 1436.0,976.3 1436.0,966.5 1434.4,966.5 1434.4,970.8 1432.9,970.8 1432.9,974.1 1431.3,974.1 1431.3,982.3 1429.8,982.3 1429.8,970.3 1428.3,970.3 1428.3,967.1 1426.7,967.1 1426.7,964.1 1425.2,964.1 1425.2,983.0 1423.6,983.0 1423.6,973.7 1422.1,973.7 1422.1,967.8 1420.5,967.8 1420.5,964.3 1419.0,964.3 1419.0,980.1 1417.4,980.1 1417.4,976.8 1415.9,976.8 1415.9,965.8 1414.3,965.8 1414.3,966.9 1412.8,966.9 1412.8,971.5 1411.2,971.5 1411.2,981.5 1409.7,981.5 1409.7,969.7 1408.1,969.7 1408.1,973.1 1406.6,973.1 1406.6,980.8 1405.0,980.8 1405.0,971.2 1403.5,971.2 1403.5,968.5 1401.9,968.5 1401.9,970.2 1400.4,970.2 1400.4,975.1 1398.8,975.1 1398.8,965.3 1397.3,965.3 1397.3,969.1 1395.7,969.1 1395.7,968.3 1394.2,968.3 1394.2,961.5 1392.6,961.5 1392.6,975.2 1391.1,975.2 1391.1,968.7 1389.5,968.7 1389.5,970.5 1388.0,970.5 1388.0,958.6 1386.5,958.6 1386.5,973.1 1384.9,973.1 1384.9,961.1 1383.4,961.1 1383.4,979.4 1381.8,979.4 1381.8,964.5 1380.3,964.5 1380.3,987.2 1378.7,987.2 1378.7,958.4 1377.2,958.4 1377.2,967.8 1375.6,967.8 1375.6,967.5 1374.1,967.5 1374.1,967.0 1372.5,967.0 1372.5,959.0 1371.0,959.0 1371.0,964.6 1369.4,964.6 1369.4,956.0 1367.9,956.0 1367.9,963.1 1366.3,963.1 1366.3,979.5 1364.8,979.5 1364.8,982.2 1363.2,982.2 1363.2,983.6 1361.7,983.6 1361.7,953.8 1360.1,953.8 1360.1,966.6 1358.6,966.6 1358.6,990.4 1357.0,990.4 1357.0,962.2 1355.5,962.2 1355.5,983.7 1353.9,983.7 1353.9,969.6 1352.4,969.6 1352.4,972.6 1350.8,972.6 1350.8,972.7 1349.3,972.7 1349.3,976.1 1347.8,976.1 1347.8,963.2 1346.2,963.2 1346.2,945.3 1344.7,945.3 1344.7,972.3 1343.1,972.3 1343.1,962.7 1341.6,962.7 1341.6,962.2 1340.0,962.2 1340.0,970.2 1338.5,970.2 1338.5,970.2 1336.9,970.2 1336.9,977.2 1335.4,977.2 1335.4,985.4 1333.8,985.4 1333.8,971.2 1332.3,971.2 1332.3,978.1 1330.7,978.1 1330.7,970.3 1329.2,970.3 1329.2,980.3 1327.6,980.3 1327.6,979.4 1326.1,979.4 1326.1,957.9 1324.5,957.9 1324.5,993.5 1323.0,993.5 1323.0,980.9 1321.4,980.9 1321.4,963.8 1319.9,963.8 1319.9,972.8 1318.3,972.8 1318.3,963.6 1316.8,963.6 1316.8,962.3 1315.2,962.3 1315.2,970.0 1313.7,970.0 1313.7,975.7 1312.1,975.7 1312.1,969.0 1310.6,969.0 1310.6,991.4 1309.0,991.4 1309.0,973.5 1307.5,973.5 1307.5,980.4 1306.0,980.4 1306.0,960.6 1304.4,960.6 1304.4,960.2 1302.9,960.2 1302.9,967.4 1301.3,967.4 1301.3,969.5 1299.8,969.5 1299.8,961.3 1298.2,961.3 1298.2,966.4 1296.7,966.4 1296.7,970.0 1295.1,970.0 1295.1,970.7 1293.6,970.7 1293.6,977.3 1292.0,977.3 1292.0,978.1 1290.5,978.1 1290.5,965.8 1288.9,965.8 1288.9,961.0 1287.4,961.0 1287.4,960.9 1285.8,960.9 1285.8,959.3 1284.3,959.3 1284.3,968.9 1282.7,968.9 1282.7,965.3 1281.2,965.3 1281.2,970.1 1279.6,970.1 1279.6,974.3 1278.1,974.3 1278.1,969.1 1276.5,969.1 1276.5,973.8 1275.0,973.8 1275.0,964.8 1273.4,964.8 1273.4,979.3 1271.9,979.3 1271.9,966.8 1270.3,966.8 1270.3,969.4 1268.8,969.4 1268.8,964.1 1267.3,964.1 1267.3,969.6 1265.7,969.6 1265.7,962.9 1264.2,962.9 1264.2,967.4 1262.6,967.4 1262.6,977.2 1261.1,977.2 1261.1,987.2 1259.5,987.2 1259.5,970.6 1258.0,970.6 1258.0,976.2 1256.4,976.2 1256.4,963.7 1254.9,963.7 1254.9,964.7 1253.3,964.7 1253.3,983.1 1251.8,983.1 1251.8,968.5 1250.2,968.5 1250.2,978.9 1248.7,978.9 1248.7,962.9 1247.1,962.9 1247.1,971.4 1245.6,971.4 1245.6,976.8 1244.0,976.8 1244.0,962.7 1242.5,962.7 1242.5,989.8 1240.9,989.8 1240.9,974.5 1239.4,974.5 1239.4,965.8 1237.8,965.8 1237.8,961.6 1236.3,961.6 1236.3,962.0 1234.7,962.0 1234.7,972.4 1233.2,972.4 1233.2,976.9 1231.6,976.9 1231.6,955.4 1230.1,955.4 1230.1,962.4 1228.5,962.4 1228.5,961.7 1227.0,961.7 1227.0,979.2 1225.5,979.2 1225.5,970.7 1223.9,970.7 1223.9,976.1 1222.4,976.1 1222.4,979.5 1220.8,979.5 1220.8,966.9 1219.3,966.9 1219.3,955.5 1217.7,955.5 1217.7,977.4 1216.2,977.4 1216.2,969.0 1214.6,969.0 1214.6,978.6 1213.1,978.6 1213.1,981.3 1211.5,981.3 1211.5,963.5 1210.0,963.5 1210.0,958.8 1208.4,958.8 1208.4,971.8 1206.9,971.8 1206.9,949.7 1205.3,949.7 1205.3,964.4 1203.8,964.4 1203.8,951.3 1202.2,951.3 1202.2,969.4 1200.7,969.4 1200.7,992.5 1199.1,992.5 1199.1,970.6 1197.6,970.6 1197.6,971.9 1196.0,971.9 1196.0,967.2 1194.5,967.2 1194.5,964.4 1192.9,964.4 1192.9,976.2 1191.4,976.2 1191.4,973.6 1189.8,973.6 1189.8,967.4 1188.3,967.4 1188.3,958.6 1186.8,958.6 1186.8,967.7 1185.2,967.7 1185.2,965.6 1183.7,965.6 1183.7,963.0 1182.1,963.0 1182.1,962.1 1180.6,962.1 1180.6,971.4 1179.0,971.4 1179.0,954.4 1177.5,954.4 1177.5,967.6 1175.9,967.6 1175.9,963.4 1174.4,963.4 1174.4,970.3 1172.8,970.3 1172.8,970.4 1171.3,970.4 1171.3,975.9 1169.7,975.9 1169.7,963.9 1168.2,963.9 1168.2,969.1 1166.6,969.1 1166.6,976.0 1165.1,976.0 1165.1,972.6 1163.5,972.6 1163.5,967.7 1162.0,967.7 1162.0,973.8 1160.4,973.8 1160.4,969.2 1158.9,969.2 1158.9,956.3 1157.3,956.3 1157.3,962.1 1155.8,962.1 1155.8,971.2 1154.2,971.2 1154.2,968.8 1152.7,968.8 1152.7,962.3 1151.1,962.3 1151.1,961.6 1149.6,961.6 1149.6,976.1 1148.1,976.1 1148.1,961.5 1146.5,961.5 1146.5,979.2 1145.0,979.2 1145.0,962.3 1143.4,962.3 1143.4,977.7 1141.9,977.7 1141.9,972.3 1140.3,972.3 1140.3,974.8 1138.8,974.8 1138.8,970.0 1137.2,970.0 1137.2,967.6 1135.7,967.6 1135.7,961.5 1134.1,961.5 1134.1,984.1 1132.6,984.1" fill="#9467bd" stroke="#9467bd" stroke-width="1.4" stroke-linejoin="round"/>
<rect x="89.4" y="442.5" width="430.5" height="146.7" fill="none" stroke="#000" stroke-width="1.12"/>
<rect x="600.9" y="442.5" width="430.7" height="146.7" fill="none" stroke="#000" stroke-width="1.12"/>
<rect x="1112.7" y="442.5" width="430.8" height="146.7" fill="none" stroke="#000" stroke-width="1.12"/>
<rect x="89.4" y="649.9" width="430.5" height="146.9" fill="none" stroke="#000" stroke-width="1.12"/>
<rect x="600.9" y="649.9" width="430.7" height="146.9" fill="none" stroke="#000" stroke-width="1.12"/>
<rect x="1112.7" y="649.9" width="430.8" height="146.9" fill="none" stroke="#000" stroke-width="1.12"/>
<rect x="89.4" y="857.3" width="430.5" height="146.8" fill="none" stroke="#000" stroke-width="1.12"/>
<rect x="600.9" y="857.3" width="430.7" height="146.8" fill="none" stroke="#000" stroke-width="1.12"/>
<rect x="1112.7" y="857.3" width="430.8" height="146.8" fill="none" stroke="#000" stroke-width="1.12"/>
<line x1="109.0" y1="589.2" x2="109.0" y2="594.2" stroke="#000" stroke-width="1.12"/>
<text x="109.0" y="615.8" text-anchor="middle" font-size="20">0.0</text>
<line x1="187.2" y1="589.2" x2="187.2" y2="594.2" stroke="#000" stroke-width="1.12"/>
<text x="187.2" y="615.8" text-anchor="middle" font-size="20">0.2</text>
<line x1="265.5" y1="589.2" x2="265.5" y2="594.2" stroke="#000" stroke-width="1.12"/>
<text x="265.5" y="615.8" text-anchor="middle" font-size="20">0.4</text>
<line x1="343.8" y1="589.2" x2="343.8" y2="594.2" stroke="#000" stroke-width="1.12"/>
<text x="343.8" y="615.8" text-anchor="middle" font-size="20">0.6</text>
<line x1="422.1" y1="589.2" x2="422.1" y2="594.2" stroke="#000" stroke-width="1.12"/>
<text x="422.1" y="615.8" text-anchor="middle" font-size="20">0.8</text>
<line x1="500.3" y1="589.2" x2="500.3" y2="594.2" stroke="#000" stroke-width="1.12"/>
<text x="500.3" y="615.8" text-anchor="middle" font-size="20">1.0</text>
<text x="520.1" y="639.5" font-size="20" text-anchor="end">1e6</text>
<line x1="109.0" y1="796.8" x2="109.0" y2="801.8" stroke="#000" stroke-width="1.12"/>
<text x="109.0" y="823.4" text-anchor="middle" font-size="20">0</text>
<line x1="206.8" y1="796.8" x2="206.8" y2="801.8" stroke="#000" stroke-width="1.12"/>
<text x="206.8" y="823.4" text-anchor="middle" font-size="20">2000</text>
<line x1="304.6" y1="796.8" x2="304.6" y2="801.8" stroke="#000" stroke-width="1.12"/>
<text x="304.6" y="823.4" text-anchor="middle" font-size="20">4000</text>
<line x1="402.5" y1="796.8" x2="402.5" y2="801.8" stroke="#000" stroke-width="1.12"/>
<text x="402.5" y="823.4" text-anchor="middle" font-size="20">6000</text>
<line x1="500.3" y1="796.8" x2="500.3" y2="801.8" stroke="#000" stroke-width="1.12"/>
<text x="500.3" y="823.4" text-anchor="middle" font-size="20">8000</text>
<line x1="109.0" y1="1004.1" x2="109.0" y2="1009.1" stroke="#000" stroke-width="1.12"/>
<text x="109.0" y="1030.7" text-anchor="middle" font-size="20">0</text>
<line x1="206.8" y1="1004.1" x2="206.8" y2="1009.1" stroke="#000" stroke-width="1.12"/>
<text x="206.8" y="1030.7" text-anchor="middle" font-size="20">2000</text>
<line x1="304.6" y1="1004.1" x2="304.6" y2="1009.1" stroke="#000" stroke-width="1.12"/>
<text x="304.6" y="1030.7" text-anchor="middle" font-size="20">4000</text>
<line x1="402.5" y1="1004.1" x2="402.5" y2="1009.1" stroke="#000" stroke-width="1.12"/>
<text x="402.5" y="1030.7" text-anchor="middle" font-size="20">6000</text>
<line x1="500.3" y1="1004.1" x2="500.3" y2="1009.1" stroke="#000" stroke-width="1.12"/>
<text x="500.3" y="1030.7" text-anchor="middle" font-size="20">8000</text>
<line x1="620.5" y1="589.2" x2="620.5" y2="594.2" stroke="#000" stroke-width="1.12"/>
<text x="620.5" y="615.8" text-anchor="middle" font-size="20">0.0</text>
<line x1="698.8" y1="589.2" x2="698.8" y2="594.2" stroke="#000" stroke-width="1.12"/>
<text x="698.8" y="615.8" text-anchor="middle" font-size="20">0.2</text>
<line x1="777.1" y1="589.2" x2="777.1" y2="594.2" stroke="#000" stroke-width="1.12"/>
<text x="777.1" y="615.8" text-anchor="middle" font-size="20">0.4</text>
<line x1="855.4" y1="589.2" x2="855.4" y2="594.2" stroke="#000" stroke-width="1.12"/>
<text x="855.4" y="615.8" text-anchor="middle" font-size="20">0.6</text>
<line x1="933.7" y1="589.2" x2="933.7" y2="594.2" stroke="#000" stroke-width="1.12"/>
<text x="933.7" y="615.8" text-anchor="middle" font-size="20">0.8</text>
<line x1="1012.0" y1="589.2" x2="1012.0" y2="594.2" stroke="#000" stroke-width="1.12"/>
<text x="1012.0" y="615.8" text-anchor="middle" font-size="20">1.0</text>
<text x="1031.8" y="639.5" font-size="20" text-anchor="end">1e6</text>
<line x1="620.5" y1="796.8" x2="620.5" y2="801.8" stroke="#000" stroke-width="1.12"/>
<text x="620.5" y="823.4" text-anchor="middle" font-size="20">0</text>
<line x1="718.4" y1="796.8" x2="718.4" y2="801.8" stroke="#000" stroke-width="1.12"/>
<text x="718.4" y="823.4" text-anchor="middle" font-size="20">2000</text>
<line x1="816.2" y1="796.8" x2="816.2" y2="801.8" stroke="#000" stroke-width="1.12"/>
<text x="816.2" y="823.4" text-anchor="middle" font-size="20">4000</text>
<line x1="914.1" y1="796.8" x2="914.1" y2="801.8" stroke="#000" stroke-width="1.12"/>
<text x="914.1" y="823.4" text-anchor="middle" font-size="20">6000</text>
<line x1="1012.0" y1="796.8" x2="1012.0" y2="801.8" stroke="#000" stroke-width="1.12"/>
<text x="1012.0" y="823.4" text-anchor="middle" font-size="20">8000</text>
<line x1="620.5" y1="1004.1" x2="620.5" y2="1009.1" stroke="#000" stroke-width="1.12"/>
<text x="620.5" y="1030.7" text-anchor="middle" font-size="20">0</text>
<line x1="718.4" y1="1004.1" x2="718.4" y2="1009.1" stroke="#000" stroke-width="1.12"/>
<text x="718.4" y="1030.7" text-anchor="middle" font-size="20">2000</text>
<line x1="816.2" y1="1004.1" x2="816.2" y2="1009.1" stroke="#000" stroke-width="1.12"/>
<text x="816.2" y="1030.7" text-anchor="middle" font-size="20">4000</text>
<line x1="914.1" y1="1004.1" x2="914.1" y2="1009.1" stroke="#000" stroke-width="1.12"/>
<text x="914.1" y="1030.7" text-anchor="middle" font-size="20">6000</text>
<line x1="1012.0" y1="1004.1" x2="1012.0" y2="1009.1" stroke="#000" stroke-width="1.12"/>
<text x="1012.0" y="1030.7" text-anchor="middle" font-size="20">8000</text>
<line x1="1132.3" y1="589.2" x2="1132.3" y2="594.2" stroke="#000" stroke-width="1.12"/>
<text x="1132.3" y="615.8" text-anchor="middle" font-size="20">0.0</text>
<line x1="1210.6" y1="589.2" x2="1210.6" y2="594.2" stroke="#000" stroke-width="1.12"/>
<text x="1210.6" y="615.8" text-anchor="middle" font-size="20">0.2</text>
<line x1="1288.9" y1="589.2" x2="1288.9" y2="594.2" stroke="#000" stroke-width="1.12"/>
<text x="1288.9" y="615.8" text-anchor="middle" font-size="20">0.4</text>
<line x1="1367.3" y1="589.2" x2="1367.3" y2="594.2" stroke="#000" stroke-width="1.12"/>
<text x="1367.3" y="615.8" text-anchor="middle" font-size="20">0.6</text>
<line x1="1445.6" y1="589.2" x2="1445.6" y2="594.2" stroke="#000" stroke-width="1.12"/>
<text x="1445.6" y="615.8" text-anchor="middle" font-size="20">0.8</text>
<line x1="1523.9" y1="589.2" x2="1523.9" y2="594.2" stroke="#000" stroke-width="1.12"/>
<text x="1523.9" y="615.8" text-anchor="middle" font-size="20">1.0</text>
<text x="1543.7" y="639.5" font-size="20" text-anchor="end">1e6</text>
<line x1="1132.3" y1="796.8" x2="1132.3" y2="801.8" stroke="#000" stroke-width="1.12"/>
<text x="1132.3" y="823.4" text-anchor="middle" font-size="20">0</text>
<line x1="1230.2" y1="796.8" x2="1230.2" y2="801.8" stroke="#000" stroke-width="1.12"/>
<text x="1230.2" y="823.4" text-anchor="middle" font-size="20">2000</text>
<line x1="1328.1" y1="796.8" x2="1328.1" y2="801.8" stroke="#000" stroke-width="1.12"/>
<text x="1328.1" y="823.4" text-anchor="middle" font-size="20">4000</text>
<line x1="1426.0" y1="796.8" x2="1426.0" y2="801.8" stroke="#000" stroke-width="1.12"/>
<text x="1426.0" y="823.4" text-anchor="middle" font-size="20">6000</text>
<line x1="1523.9" y1="796.8" x2="1523.9" y2="801.8" stroke="#000" stroke-width="1.12"/>
<text x="1523.9" y="823.4" text-anchor="middle" font-size="20">8000</text>
<line x1="1132.3" y1="1004.1" x2="1132.3" y2="1009.1" stroke="#000" stroke-width="1.12"/>
<text x="1132.3" y="1030.7" text-anchor="middle" font-size="20">0</text>
<line x1="1230.2" y1="1004.1" x2="1230.2" y2="1009.1" stroke="#000" stroke-width="1.12"/>
<text x="1230.2" y="1030.7" text-anchor="middle" font-size="20">2000</text>
<line x1="1328.1" y1="1004.1" x2="1328.1" y2="1009.1" stroke="#000" stroke-width="1.12"/>
<text x="1328.1" y="1030.7" text-anchor="middle" font-size="20">4000</text>
<line x1="1426.0" y1="1004.1" x2="1426.0" y2="1009.1" stroke="#000" stroke-width="1.12"/>
<text x="1426.0" y="1030.7" text-anchor="middle" font-size="20">6000</text>
<line x1="1523.9" y1="1004.1" x2="1523.9" y2="1009.1" stroke="#000" stroke-width="1.12"/>
<text x="1523.9" y="1030.7" text-anchor="middle" font-size="20">8000</text>
<line x1="84.4" y1="560.6" x2="89.4" y2="560.6" stroke="#000" stroke-width="1.12"/>
<text x="77.9" y="568.0" text-anchor="end" font-size="20">1475</text>
<line x1="84.4" y1="510.4" x2="89.4" y2="510.4" stroke="#000" stroke-width="1.12"/>
<text x="77.9" y="517.8" text-anchor="end" font-size="20">1500</text>
<line x1="84.4" y1="460.2" x2="89.4" y2="460.2" stroke="#000" stroke-width="1.12"/>
<text x="77.9" y="467.6" text-anchor="end" font-size="20">1525</text>
<line x1="595.9" y1="544.2" x2="600.9" y2="544.2" stroke="#000" stroke-width="1.12"/>
<text x="589.4" y="551.6" text-anchor="end" font-size="20">500</text>
<line x1="595.9" y1="494.5" x2="600.9" y2="494.5" stroke="#000" stroke-width="1.12"/>
<text x="589.4" y="501.9" text-anchor="end" font-size="20">750</text>
<line x1="595.9" y1="444.8" x2="600.9" y2="444.8" stroke="#000" stroke-width="1.12"/>
<text x="589.4" y="452.2" text-anchor="end" font-size="20">1000</text>
<line x1="1107.7" y1="561.0" x2="1112.7" y2="561.0" stroke="#000" stroke-width="1.12"/>
<text x="1101.2" y="568.4" text-anchor="end" font-size="20">1000</text>
<line x1="1107.7" y1="500.7" x2="1112.7" y2="500.7" stroke="#000" stroke-width="1.12"/>
<text x="1101.2" y="508.1" text-anchor="end" font-size="20">1200</text>
<line x1="84.4" y1="765.9" x2="89.4" y2="765.9" stroke="#000" stroke-width="1.12"/>
<text x="77.9" y="773.3" text-anchor="end" font-size="20">1475</text>
<line x1="84.4" y1="714.3" x2="89.4" y2="714.3" stroke="#000" stroke-width="1.12"/>
<text x="77.9" y="721.7" text-anchor="end" font-size="20">1500</text>
<line x1="84.4" y1="662.7" x2="89.4" y2="662.7" stroke="#000" stroke-width="1.12"/>
<text x="77.9" y="670.1" text-anchor="end" font-size="20">1525</text>
<line x1="595.9" y1="765.1" x2="600.9" y2="765.1" stroke="#000" stroke-width="1.12"/>
<text x="589.4" y="772.5" text-anchor="end" font-size="20">500</text>
<line x1="595.9" y1="718.6" x2="600.9" y2="718.6" stroke="#000" stroke-width="1.12"/>
<text x="589.4" y="726.0" text-anchor="end" font-size="20">1000</text>
<line x1="595.9" y1="672.1" x2="600.9" y2="672.1" stroke="#000" stroke-width="1.12"/>
<text x="589.4" y="679.5" text-anchor="end" font-size="20">1500</text>
<line x1="1107.7" y1="750.4" x2="1112.7" y2="750.4" stroke="#000" stroke-width="1.12"/>
<text x="1101.2" y="757.8" text-anchor="end" font-size="20">1000</text>
<line x1="1107.7" y1="660.3" x2="1112.7" y2="660.3" stroke="#000" stroke-width="1.12"/>
<text x="1101.2" y="667.7" text-anchor="end" font-size="20">1500</text>
<line x1="84.4" y1="988.0" x2="89.4" y2="988.0" stroke="#000" stroke-width="1.12"/>
<text x="77.9" y="995.4" text-anchor="end" font-size="20">1475</text>
<line x1="84.4" y1="931.8" x2="89.4" y2="931.8" stroke="#000" stroke-width="1.12"/>
<text x="77.9" y="939.2" text-anchor="end" font-size="20">1500</text>
<line x1="84.4" y1="875.6" x2="89.4" y2="875.6" stroke="#000" stroke-width="1.12"/>
<text x="77.9" y="883.0" text-anchor="end" font-size="20">1525</text>
<line x1="595.9" y1="987.1" x2="600.9" y2="987.1" stroke="#000" stroke-width="1.12"/>
<text x="589.4" y="994.5" text-anchor="end" font-size="20">700</text>
<line x1="595.9" y1="927.0" x2="600.9" y2="927.0" stroke="#000" stroke-width="1.12"/>
<text x="589.4" y="934.4" text-anchor="end" font-size="20">800</text>
<line x1="595.9" y1="866.9" x2="600.9" y2="866.9" stroke="#000" stroke-width="1.12"/>
<text x="589.4" y="874.3" text-anchor="end" font-size="20">900</text>
<line x1="1107.7" y1="938.6" x2="1112.7" y2="938.6" stroke="#000" stroke-width="1.12"/>
<text x="1101.2" y="946.0" text-anchor="end" font-size="20">1000</text>
<line x1="1107.7" y1="870.5" x2="1112.7" y2="870.5" stroke="#000" stroke-width="1.12"/>
<text x="1101.2" y="877.9" text-anchor="end" font-size="20">1050</text>
<text transform="translate(18.6,518.1) rotate(-90)" font-size="22.9" text-anchor="middle" letter-spacing="0.25">MH-Pr1</text>
<text transform="translate(18.6,725.5) rotate(-90)" font-size="22.9" text-anchor="middle" letter-spacing="0.25">NUTS-Pr1</text>
<text transform="translate(18.6,932.9) rotate(-90)" font-size="22.9" text-anchor="middle" letter-spacing="0.25">NUTS-Pr2</text>
<rect x="362.0" y="447.2" width="152.1" height="36.0" rx="6.5" ry="6.5" fill="#fff" fill-opacity="0.85" stroke="#ccc" stroke-width="1.2"/>
<text x="368.3" y="471.6" font-size="22.9" text-anchor="start" letter-spacing="0.25">ESS = 1850</text>
<rect x="873.5" y="447.2" width="108.1" height="36.0" rx="6.5" ry="6.5" fill="#fff" fill-opacity="0.85" stroke="#ccc" stroke-width="1.2"/>
<text x="879.8" y="471.6" font-size="22.9" text-anchor="start" letter-spacing="0.25">ESS = 8</text>
<rect x="1385.3" y="447.2" width="108.1" height="36.0" rx="6.5" ry="6.5" fill="#fff" fill-opacity="0.85" stroke="#ccc" stroke-width="1.2"/>
<text x="1391.6" y="471.6" font-size="22.9" text-anchor="start" letter-spacing="0.25">ESS = 8</text>
<rect x="362.0" y="654.6" width="152.1" height="36.0" rx="6.5" ry="6.5" fill="#fff" fill-opacity="0.85" stroke="#ccc" stroke-width="1.2"/>
<text x="368.3" y="679.0" font-size="22.9" text-anchor="start" letter-spacing="0.25">ESS = 3830</text>
<rect x="873.5" y="654.6" width="137.5" height="36.0" rx="6.5" ry="6.5" fill="#fff" fill-opacity="0.85" stroke="#ccc" stroke-width="1.2"/>
<text x="879.8" y="679.0" font-size="22.9" text-anchor="start" letter-spacing="0.25">ESS = 773</text>
<rect x="1385.3" y="654.6" width="137.5" height="36.0" rx="6.5" ry="6.5" fill="#fff" fill-opacity="0.85" stroke="#ccc" stroke-width="1.2"/>
<text x="1391.6" y="679.0" font-size="22.9" text-anchor="start" letter-spacing="0.25">ESS = 773</text>
<rect x="362.0" y="862.0" width="152.1" height="36.0" rx="6.5" ry="6.5" fill="#fff" fill-opacity="0.85" stroke="#ccc" stroke-width="1.2"/>
<text x="368.3" y="886.4" font-size="22.9" text-anchor="start" letter-spacing="0.25">ESS = 3593</text>
<rect x="873.5" y="862.0" width="152.1" height="36.0" rx="6.5" ry="6.5" fill="#fff" fill-opacity="0.85" stroke="#ccc" stroke-width="1.2"/>
<text x="879.8" y="886.4" font-size="22.9" text-anchor="start" letter-spacing="0.25">ESS = 1449</text>
<rect x="1385.3" y="862.0" width="152.1" height="36.0" rx="6.5" ry="6.5" fill="#fff" fill-opacity="0.85" stroke="#ccc" stroke-width="1.2"/>
<text x="1391.6" y="886.4" font-size="22.9" text-anchor="start" letter-spacing="0.25">ESS = 1510</text>
</svg></body></html>
